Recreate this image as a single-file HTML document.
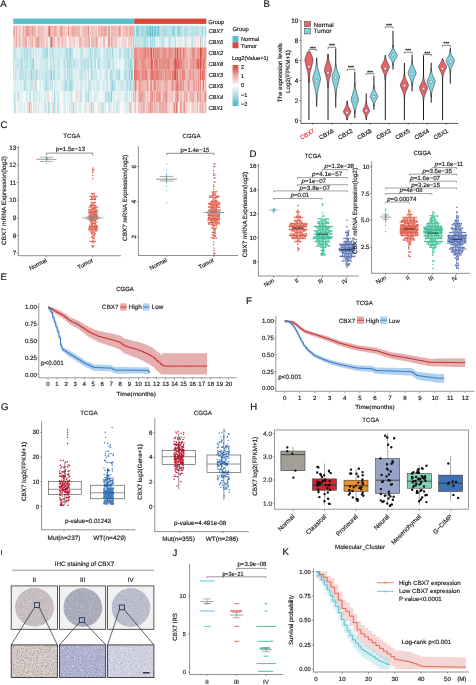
<!DOCTYPE html>
<html><head><meta charset="utf-8"><style>
html,body{margin:0;padding:0;background:#fff;}
body{width:476px;height:685px;overflow:hidden;}
svg{display:block;font-family:"Liberation Sans", sans-serif;will-change:transform;}
text{stroke-width:0.16px;text-rendering:geometricPrecision;}
</style></head><body>
<svg width="476" height="685" viewBox="0 0 476 685">
<defs>
<linearGradient id="cbar" x1="0" y1="0" x2="0" y2="1">
<stop offset="0" stop-color="#d8443a"/><stop offset="0.5" stop-color="#ffffff"/><stop offset="1" stop-color="#48b3c2"/>
</linearGradient>
<filter id="spk1" x="0" y="0" width="100%" height="100%" color-interpolation-filters="sRGB"><feTurbulence type="fractalNoise" baseFrequency="0.75" numOctaves="3" seed="3" result="n"/><feColorMatrix in="n" type="matrix" values="0 0 0 0 0.5  0 0 0 0 0.4  0 0 0 0 0.38  2 0 0 0 -1.04" result="d"/><feColorMatrix in="n" type="matrix" values="0 0 0 0 1  0 0 0 0 1  0 0 0 0 1  0 2.8 0 0 -1.57" result="w"/><feMerge result="m"><feMergeNode in="SourceGraphic"/><feMergeNode in="d"/><feMergeNode in="w"/></feMerge><feComposite in="m" in2="SourceGraphic" operator="in"/></filter>
<filter id="spk2" x="0" y="0" width="100%" height="100%" color-interpolation-filters="sRGB"><feTurbulence type="fractalNoise" baseFrequency="0.75" numOctaves="3" seed="5" result="n"/><feColorMatrix in="n" type="matrix" values="0 0 0 0 0.42  0 0 0 0 0.42  0 0 0 0 0.58  1.8 0 0 0 -0.94" result="d"/><feColorMatrix in="n" type="matrix" values="0 0 0 0 1  0 0 0 0 1  0 0 0 0 1  0 2.2 0 0 -1.23" result="w"/><feMerge result="m"><feMergeNode in="SourceGraphic"/><feMergeNode in="d"/><feMergeNode in="w"/></feMerge><feComposite in="m" in2="SourceGraphic" operator="in"/></filter>
<filter id="spk3" x="0" y="0" width="100%" height="100%" color-interpolation-filters="sRGB"><feTurbulence type="fractalNoise" baseFrequency="0.75" numOctaves="3" seed="9" result="n"/><feColorMatrix in="n" type="matrix" values="0 0 0 0 0.5  0 0 0 0 0.5  0 0 0 0 0.64  1.6 0 0 0 -0.83" result="d"/><feColorMatrix in="n" type="matrix" values="0 0 0 0 1  0 0 0 0 1  0 0 0 0 1  0 2.6 0 0 -1.46" result="w"/><feMerge result="m"><feMergeNode in="SourceGraphic"/><feMergeNode in="d"/><feMergeNode in="w"/></feMerge><feComposite in="m" in2="SourceGraphic" operator="in"/></filter>
<filter id="cspk1" x="0" y="0" width="100%" height="100%" color-interpolation-filters="sRGB"><feTurbulence type="fractalNoise" baseFrequency="0.75" numOctaves="3" seed="4" result="n"/><feColorMatrix in="n" type="matrix" values="0 0 0 0 0.55  0 0 0 0 0.48  0 0 0 0 0.48  0.9 0 0 0 -0.47" result="d"/><feColorMatrix in="n" type="matrix" values="0 0 0 0 1  0 0 0 0 1  0 0 0 0 1  0 1.8 0 0 -1.01" result="w"/><feMerge result="m"><feMergeNode in="SourceGraphic"/><feMergeNode in="d"/><feMergeNode in="w"/></feMerge><feComposite in="m" in2="SourceGraphic" operator="in"/></filter>
<filter id="cspk2" x="0" y="0" width="100%" height="100%" color-interpolation-filters="sRGB"><feTurbulence type="fractalNoise" baseFrequency="0.75" numOctaves="3" seed="6" result="n"/><feColorMatrix in="n" type="matrix" values="0 0 0 0 0.52  0 0 0 0 0.52  0 0 0 0 0.62  0.8 0 0 0 -0.42" result="d"/><feColorMatrix in="n" type="matrix" values="0 0 0 0 1  0 0 0 0 1  0 0 0 0 1  0 1.5 0 0 -0.84" result="w"/><feMerge result="m"><feMergeNode in="SourceGraphic"/><feMergeNode in="d"/><feMergeNode in="w"/></feMerge><feComposite in="m" in2="SourceGraphic" operator="in"/></filter>
<filter id="cspk3" x="0" y="0" width="100%" height="100%" color-interpolation-filters="sRGB"><feTurbulence type="fractalNoise" baseFrequency="0.75" numOctaves="3" seed="8" result="n"/><feColorMatrix in="n" type="matrix" values="0 0 0 0 0.58  0 0 0 0 0.58  0 0 0 0 0.68  0.8 0 0 0 -0.42" result="d"/><feColorMatrix in="n" type="matrix" values="0 0 0 0 1  0 0 0 0 1  0 0 0 0 1  0 1.8 0 0 -1.01" result="w"/><feMerge result="m"><feMergeNode in="SourceGraphic"/><feMergeNode in="d"/><feMergeNode in="w"/></feMerge><feComposite in="m" in2="SourceGraphic" operator="in"/></filter>
</defs>
<text x="0.2" y="6.7" font-size="9.6" text-anchor="start" fill="#111" stroke="#111">A</text>
<rect x="13.2" y="18.6" width="121" height="5.3" fill="#5bbdcb" stroke="none" stroke-width="0.5"/>
<rect x="134.2" y="18.6" width="72.1" height="5.3" fill="#d8493b" stroke="none" stroke-width="0.5"/>
<text x="208.2" y="23.6" font-size="5.8" text-anchor="start" fill="#1a1a1a" stroke="#1a1a1a">Group</text>
<g stroke-width="1.13"><path stroke="#eaa29c" d="M13.73 25.80v11.05"/><path stroke="#f2cfcd" d="M13.73 36.70v11.05"/><path stroke="#bae1e6" d="M13.73 47.60v11.05"/><path stroke="#aedce2" d="M13.73 58.50v11.05"/><path stroke="#bfe3e8" d="M13.73 69.40v11.05"/><path stroke="#e6f2f4" d="M13.73 80.30v11.05"/><path stroke="#e5f2f4" d="M13.73 91.20v11.05"/><path stroke="#f9fafa" d="M13.73 102.10v11.05"/><path stroke="#eaa19b" d="M14.78 25.80v11.05"/><path stroke="#eebbb7" d="M14.78 36.70v11.05"/><path stroke="#a8dae1" d="M14.78 47.60v11.05"/><path stroke="#d6ecef" d="M14.78 58.50v11.05"/><path stroke="#d5ebee" d="M14.78 69.40v11.05"/><path stroke="#dceef1" d="M14.78 80.30v11.05"/><path stroke="#a8dae1" d="M14.78 91.20v11.05"/><path stroke="#a6d9e0" d="M14.78 102.10v11.05"/><path stroke="#f0c2be" d="M15.83 25.80v11.05"/><path stroke="#efbfbb" d="M15.83 36.70v11.05"/><path stroke="#b8e0e5" d="M15.83 47.60v11.05"/><path stroke="#c3e4e9" d="M15.83 58.50v11.05"/><path stroke="#aedce2" d="M15.83 69.40v11.05"/><path stroke="#cae7eb" d="M15.83 80.30v11.05"/><path stroke="#ddeff1" d="M15.83 91.20v11.05"/><path stroke="#bbe1e7" d="M15.83 102.10v11.05"/><path stroke="#e7918a" d="M16.88 25.80v11.05"/><path stroke="#e5877f" d="M16.88 36.70v11.05"/><path stroke="#cce8ec" d="M16.88 47.60v11.05"/><path stroke="#c9e7eb" d="M16.88 58.50v11.05"/><path stroke="#d3ebee" d="M16.88 69.40v11.05"/><path stroke="#ddeff1" d="M16.88 80.30v11.05"/><path stroke="#f8f1f0" d="M16.88 91.20v11.05"/><path stroke="#f7f9f9" d="M16.88 102.10v11.05"/><path stroke="#f1cbc8" d="M17.93 25.80v11.05"/><path stroke="#f5dddb" d="M17.93 36.70v11.05"/><path stroke="#d3ebee" d="M17.93 47.60v11.05"/><path stroke="#aedce2" d="M17.93 58.50v11.05"/><path stroke="#c7e6ea" d="M17.93 69.40v11.05"/><path stroke="#d2eaee" d="M17.93 80.30v11.05"/><path stroke="#a6d9e0" d="M17.93 91.20v11.05"/><path stroke="#d7ecef" d="M17.93 102.10v11.05"/><path stroke="#f4dad8" d="M18.99 25.80v11.05"/><path stroke="#f1c7c4" d="M18.99 36.70v11.05"/><path stroke="#d0eaed" d="M18.99 47.60v11.05"/><path stroke="#c2e4e9" d="M18.99 58.50v11.05"/><path stroke="#e1f0f2" d="M18.99 69.40v11.05"/><path stroke="#d9edf0" d="M18.99 80.30v11.05"/><path stroke="#bbe1e7" d="M18.99 91.20v11.05"/><path stroke="#f8efee" d="M18.99 102.10v11.05"/><path stroke="#e68f88" d="M20.04 25.80v11.05"/><path stroke="#e4857d" d="M20.04 36.70v11.05"/><path stroke="#d1eaed" d="M20.04 47.60v11.05"/><path stroke="#cde8ec" d="M20.04 58.50v11.05"/><path stroke="#b1dde4" d="M20.04 69.40v11.05"/><path stroke="#e4f1f3" d="M20.04 80.30v11.05"/><path stroke="#cfe9ed" d="M20.04 91.20v11.05"/><path stroke="#d4ebee" d="M20.04 102.10v11.05"/><path stroke="#f3d2cf" d="M21.09 25.80v11.05"/><path stroke="#f6e4e2" d="M21.09 36.70v11.05"/><path stroke="#cbe7eb" d="M21.09 47.60v11.05"/><path stroke="#8ccfd8" d="M21.09 58.50v11.05"/><path stroke="#97d3db" d="M21.09 69.40v11.05"/><path stroke="#c3e4e9" d="M21.09 80.30v11.05"/><path stroke="#fafafa" d="M21.09 91.20v11.05"/><path stroke="#dfeff2" d="M21.09 102.10v11.05"/><path stroke="#f4f7f8" d="M22.14 25.80v11.05"/><path stroke="#f0c5c1" d="M22.14 36.70v11.05"/><path stroke="#9fd6de" d="M22.14 47.60v11.05"/><path stroke="#97d3db" d="M22.14 58.50v11.05"/><path stroke="#c6e5ea" d="M22.14 69.40v11.05"/><path stroke="#d3ebee" d="M22.14 80.30v11.05"/><path stroke="#cae7eb" d="M22.14 91.20v11.05"/><path stroke="#cce8ec" d="M22.14 102.10v11.05"/><path stroke="#e38078" d="M23.20 25.80v11.05"/><path stroke="#eba8a2" d="M23.20 36.70v11.05"/><path stroke="#d1eaed" d="M23.20 47.60v11.05"/><path stroke="#d3ebee" d="M23.20 58.50v11.05"/><path stroke="#a9dae1" d="M23.20 69.40v11.05"/><path stroke="#f3f7f8" d="M23.20 80.30v11.05"/><path stroke="#f9f5f5" d="M23.20 91.20v11.05"/><path stroke="#f1f6f7" d="M23.20 102.10v11.05"/><path stroke="#f2cecc" d="M24.25 25.80v11.05"/><path stroke="#edb2ad" d="M24.25 36.70v11.05"/><path stroke="#8bcfd8" d="M24.25 47.60v11.05"/><path stroke="#a8dae1" d="M24.25 58.50v11.05"/><path stroke="#c6e6ea" d="M24.25 69.40v11.05"/><path stroke="#92d1da" d="M24.25 80.30v11.05"/><path stroke="#f7f9f9" d="M24.25 91.20v11.05"/><path stroke="#d5ecef" d="M24.25 102.10v11.05"/><path stroke="#eba6a1" d="M25.30 25.80v11.05"/><path stroke="#ebaba6" d="M25.30 36.70v11.05"/><path stroke="#c3e4e9" d="M25.30 47.60v11.05"/><path stroke="#d7ecef" d="M25.30 58.50v11.05"/><path stroke="#b6dfe5" d="M25.30 69.40v11.05"/><path stroke="#bfe3e8" d="M25.30 80.30v11.05"/><path stroke="#fafafa" d="M25.30 91.20v11.05"/><path stroke="#daedf0" d="M25.30 102.10v11.05"/><path stroke="#e99b95" d="M26.35 25.80v11.05"/><path stroke="#e69089" d="M26.35 36.70v11.05"/><path stroke="#b1dde3" d="M26.35 47.60v11.05"/><path stroke="#9dd6dd" d="M26.35 58.50v11.05"/><path stroke="#b9e0e6" d="M26.35 69.40v11.05"/><path stroke="#bde2e7" d="M26.35 80.30v11.05"/><path stroke="#c7e6ea" d="M26.35 91.20v11.05"/><path stroke="#f9f6f6" d="M26.35 102.10v11.05"/><path stroke="#e7948d" d="M27.40 25.80v11.05"/><path stroke="#f5f8f8" d="M27.40 36.70v11.05"/><path stroke="#a9dae1" d="M27.40 47.60v11.05"/><path stroke="#c3e4e9" d="M27.40 58.50v11.05"/><path stroke="#d3ebee" d="M27.40 69.40v11.05"/><path stroke="#d7ecef" d="M27.40 80.30v11.05"/><path stroke="#daedf0" d="M27.40 91.20v11.05"/><path stroke="#d3ebee" d="M27.40 102.10v11.05"/><path stroke="#e99d97" d="M28.46 25.80v11.05"/><path stroke="#f1cac7" d="M28.46 36.70v11.05"/><path stroke="#cae7eb" d="M28.46 47.60v11.05"/><path stroke="#d0e9ed" d="M28.46 58.50v11.05"/><path stroke="#c8e6eb" d="M28.46 69.40v11.05"/><path stroke="#e2f1f3" d="M28.46 80.30v11.05"/><path stroke="#eff6f7" d="M28.46 91.20v11.05"/><path stroke="#f3d7d4" d="M28.46 102.10v11.05"/><path stroke="#eeb7b2" d="M29.51 25.80v11.05"/><path stroke="#f2d1ce" d="M29.51 36.70v11.05"/><path stroke="#c6e6ea" d="M29.51 47.60v11.05"/><path stroke="#d9edf0" d="M29.51 58.50v11.05"/><path stroke="#c3e4e9" d="M29.51 69.40v11.05"/><path stroke="#daedf0" d="M29.51 80.30v11.05"/><path stroke="#f4dad8" d="M29.51 91.20v11.05"/><path stroke="#8ccfd8" d="M29.51 102.10v11.05"/><path stroke="#ecb0ab" d="M30.56 25.80v11.05"/><path stroke="#efbdb9" d="M30.56 36.70v11.05"/><path stroke="#bae1e6" d="M30.56 47.60v11.05"/><path stroke="#addce2" d="M30.56 58.50v11.05"/><path stroke="#c8e6ea" d="M30.56 69.40v11.05"/><path stroke="#c6e6ea" d="M30.56 80.30v11.05"/><path stroke="#bde2e7" d="M30.56 91.20v11.05"/><path stroke="#f4d8d6" d="M30.56 102.10v11.05"/><path stroke="#eebab6" d="M31.61 25.80v11.05"/><path stroke="#f0c6c2" d="M31.61 36.70v11.05"/><path stroke="#c3e4e9" d="M31.61 47.60v11.05"/><path stroke="#c6e5ea" d="M31.61 58.50v11.05"/><path stroke="#8ecfd9" d="M31.61 69.40v11.05"/><path stroke="#c3e4e9" d="M31.61 80.30v11.05"/><path stroke="#f9f5f4" d="M31.61 91.20v11.05"/><path stroke="#bae1e6" d="M31.61 102.10v11.05"/><path stroke="#e7958e" d="M32.67 25.80v11.05"/><path stroke="#eaa29c" d="M32.67 36.70v11.05"/><path stroke="#ddeef1" d="M32.67 47.60v11.05"/><path stroke="#a1d7de" d="M32.67 58.50v11.05"/><path stroke="#bee2e7" d="M32.67 69.40v11.05"/><path stroke="#c2e4e9" d="M32.67 80.30v11.05"/><path stroke="#eef5f6" d="M32.67 91.20v11.05"/><path stroke="#f9f7f7" d="M32.67 102.10v11.05"/><path stroke="#eaa6a0" d="M33.72 25.80v11.05"/><path stroke="#e0f0f2" d="M33.72 36.70v11.05"/><path stroke="#afdde3" d="M33.72 47.60v11.05"/><path stroke="#86ccd6" d="M33.72 58.50v11.05"/><path stroke="#abdbe2" d="M33.72 69.40v11.05"/><path stroke="#cce8ec" d="M33.72 80.30v11.05"/><path stroke="#b7dfe5" d="M33.72 91.20v11.05"/><path stroke="#c1e4e9" d="M33.72 102.10v11.05"/><path stroke="#eaa49e" d="M34.77 25.80v11.05"/><path stroke="#f0c2be" d="M34.77 36.70v11.05"/><path stroke="#e7f3f4" d="M34.77 47.60v11.05"/><path stroke="#e1f0f2" d="M34.77 58.50v11.05"/><path stroke="#c9e7eb" d="M34.77 69.40v11.05"/><path stroke="#f3d5d3" d="M34.77 80.30v11.05"/><path stroke="#bfe3e8" d="M34.77 91.20v11.05"/><path stroke="#f9f2f2" d="M34.77 102.10v11.05"/><path stroke="#ecaca7" d="M35.82 25.80v11.05"/><path stroke="#ebaaa5" d="M35.82 36.70v11.05"/><path stroke="#c4e5e9" d="M35.82 47.60v11.05"/><path stroke="#cce8ec" d="M35.82 58.50v11.05"/><path stroke="#a1d7df" d="M35.82 69.40v11.05"/><path stroke="#a0d7de" d="M35.82 80.30v11.05"/><path stroke="#ebf4f5" d="M35.82 91.20v11.05"/><path stroke="#b9e0e6" d="M35.82 102.10v11.05"/><path stroke="#f5dddc" d="M36.87 25.80v11.05"/><path stroke="#e89993" d="M36.87 36.70v11.05"/><path stroke="#c4e5e9" d="M36.87 47.60v11.05"/><path stroke="#d4ebee" d="M36.87 58.50v11.05"/><path stroke="#a5d9e0" d="M36.87 69.40v11.05"/><path stroke="#c0e3e8" d="M36.87 80.30v11.05"/><path stroke="#aadbe1" d="M36.87 91.20v11.05"/><path stroke="#e7f3f4" d="M36.87 102.10v11.05"/><path stroke="#eeb9b5" d="M37.93 25.80v11.05"/><path stroke="#e27970" d="M37.93 36.70v11.05"/><path stroke="#e7f3f4" d="M37.93 47.60v11.05"/><path stroke="#d2eaee" d="M37.93 58.50v11.05"/><path stroke="#addce2" d="M37.93 69.40v11.05"/><path stroke="#f8f0ef" d="M37.93 80.30v11.05"/><path stroke="#eaf4f5" d="M37.93 91.20v11.05"/><path stroke="#daedf0" d="M37.93 102.10v11.05"/><path stroke="#e9a09a" d="M38.98 25.80v11.05"/><path stroke="#e4857d" d="M38.98 36.70v11.05"/><path stroke="#b5dfe5" d="M38.98 47.60v11.05"/><path stroke="#deeff1" d="M38.98 58.50v11.05"/><path stroke="#ecf5f6" d="M38.98 69.40v11.05"/><path stroke="#f7f9f9" d="M38.98 80.30v11.05"/><path stroke="#daedf0" d="M38.98 91.20v11.05"/><path stroke="#c8e6ea" d="M38.98 102.10v11.05"/><path stroke="#eaa39d" d="M40.03 25.80v11.05"/><path stroke="#eeb7b3" d="M40.03 36.70v11.05"/><path stroke="#e8f3f4" d="M40.03 47.60v11.05"/><path stroke="#cae7eb" d="M40.03 58.50v11.05"/><path stroke="#9fd6de" d="M40.03 69.40v11.05"/><path stroke="#cde8ec" d="M40.03 80.30v11.05"/><path stroke="#abdbe2" d="M40.03 91.20v11.05"/><path stroke="#f9f3f2" d="M40.03 102.10v11.05"/><path stroke="#efbcb8" d="M41.08 25.80v11.05"/><path stroke="#f0c2be" d="M41.08 36.70v11.05"/><path stroke="#d5ecef" d="M41.08 47.60v11.05"/><path stroke="#c8e6eb" d="M41.08 58.50v11.05"/><path stroke="#e8f3f4" d="M41.08 69.40v11.05"/><path stroke="#cee9ec" d="M41.08 80.30v11.05"/><path stroke="#f9f4f4" d="M41.08 91.20v11.05"/><path stroke="#f6e6e4" d="M41.08 102.10v11.05"/><path stroke="#edb3af" d="M42.13 25.80v11.05"/><path stroke="#e7948d" d="M42.13 36.70v11.05"/><path stroke="#b4dfe4" d="M42.13 47.60v11.05"/><path stroke="#c1e3e8" d="M42.13 58.50v11.05"/><path stroke="#aedce2" d="M42.13 69.40v11.05"/><path stroke="#faf9f9" d="M42.13 80.30v11.05"/><path stroke="#c6e6ea" d="M42.13 91.20v11.05"/><path stroke="#edf5f6" d="M42.13 102.10v11.05"/><path stroke="#ecb0ab" d="M43.19 25.80v11.05"/><path stroke="#f5dedc" d="M43.19 36.70v11.05"/><path stroke="#c5e5ea" d="M43.19 47.60v11.05"/><path stroke="#e4f1f3" d="M43.19 58.50v11.05"/><path stroke="#c5e5ea" d="M43.19 69.40v11.05"/><path stroke="#d8ecef" d="M43.19 80.30v11.05"/><path stroke="#f9f9fa" d="M43.19 91.20v11.05"/><path stroke="#d2eaee" d="M43.19 102.10v11.05"/><path stroke="#f1c7c3" d="M44.24 25.80v11.05"/><path stroke="#eaa39d" d="M44.24 36.70v11.05"/><path stroke="#97d3db" d="M44.24 47.60v11.05"/><path stroke="#a8dae1" d="M44.24 58.50v11.05"/><path stroke="#cee9ec" d="M44.24 69.40v11.05"/><path stroke="#d2eaee" d="M44.24 80.30v11.05"/><path stroke="#cce8ec" d="M44.24 91.20v11.05"/><path stroke="#e6f2f4" d="M44.24 102.10v11.05"/><path stroke="#f2ccc9" d="M45.29 25.80v11.05"/><path stroke="#f2f7f8" d="M45.29 36.70v11.05"/><path stroke="#b9e1e6" d="M45.29 47.60v11.05"/><path stroke="#d7ecef" d="M45.29 58.50v11.05"/><path stroke="#bce2e7" d="M45.29 69.40v11.05"/><path stroke="#b6dfe5" d="M45.29 80.30v11.05"/><path stroke="#c4e5e9" d="M45.29 91.20v11.05"/><path stroke="#acdbe2" d="M45.29 102.10v11.05"/><path stroke="#f2cfcc" d="M46.34 25.80v11.05"/><path stroke="#eeb7b2" d="M46.34 36.70v11.05"/><path stroke="#97d3dc" d="M46.34 47.60v11.05"/><path stroke="#c8e6eb" d="M46.34 58.50v11.05"/><path stroke="#b7e0e5" d="M46.34 69.40v11.05"/><path stroke="#96d3db" d="M46.34 80.30v11.05"/><path stroke="#f1f6f7" d="M46.34 91.20v11.05"/><path stroke="#d1eaed" d="M46.34 102.10v11.05"/><path stroke="#f4d7d5" d="M47.40 25.80v11.05"/><path stroke="#f1cac7" d="M47.40 36.70v11.05"/><path stroke="#a0d7de" d="M47.40 47.60v11.05"/><path stroke="#b8e0e6" d="M47.40 58.50v11.05"/><path stroke="#bde2e7" d="M47.40 69.40v11.05"/><path stroke="#c3e4e9" d="M47.40 80.30v11.05"/><path stroke="#cbe8ec" d="M47.40 91.20v11.05"/><path stroke="#ebf4f5" d="M47.40 102.10v11.05"/><path stroke="#e99d96" d="M48.45 25.80v11.05"/><path stroke="#e1f0f2" d="M48.45 36.70v11.05"/><path stroke="#dbeef0" d="M48.45 47.60v11.05"/><path stroke="#e4f1f3" d="M48.45 58.50v11.05"/><path stroke="#c8e6ea" d="M48.45 69.40v11.05"/><path stroke="#c7e6ea" d="M48.45 80.30v11.05"/><path stroke="#f3d3d0" d="M48.45 91.20v11.05"/><path stroke="#aadbe1" d="M48.45 102.10v11.05"/><path stroke="#df695f" d="M49.50 25.80v11.05"/><path stroke="#f6e6e5" d="M49.50 36.70v11.05"/><path stroke="#d5ebee" d="M49.50 47.60v11.05"/><path stroke="#edf5f6" d="M49.50 58.50v11.05"/><path stroke="#c9e7eb" d="M49.50 69.40v11.05"/><path stroke="#e0f0f2" d="M49.50 80.30v11.05"/><path stroke="#f9f7f6" d="M49.50 91.20v11.05"/><path stroke="#c3e5e9" d="M49.50 102.10v11.05"/><path stroke="#eba7a1" d="M50.55 25.80v11.05"/><path stroke="#eaa49e" d="M50.55 36.70v11.05"/><path stroke="#c1e4e8" d="M50.55 47.60v11.05"/><path stroke="#bee2e7" d="M50.55 58.50v11.05"/><path stroke="#afdce3" d="M50.55 69.40v11.05"/><path stroke="#c1e4e8" d="M50.55 80.30v11.05"/><path stroke="#f6f9f9" d="M50.55 91.20v11.05"/><path stroke="#ddeff1" d="M50.55 102.10v11.05"/><path stroke="#f1cbc8" d="M51.60 25.80v11.05"/><path stroke="#de6055" d="M51.60 36.70v11.05"/><path stroke="#cde8ec" d="M51.60 47.60v11.05"/><path stroke="#c5e5ea" d="M51.60 58.50v11.05"/><path stroke="#83cbd5" d="M51.60 69.40v11.05"/><path stroke="#d2eaee" d="M51.60 80.30v11.05"/><path stroke="#e0f0f2" d="M51.60 91.20v11.05"/><path stroke="#f8edec" d="M51.60 102.10v11.05"/><path stroke="#ecaca7" d="M52.66 25.80v11.05"/><path stroke="#ecaca7" d="M52.66 36.70v11.05"/><path stroke="#a5d9e0" d="M52.66 47.60v11.05"/><path stroke="#dceef1" d="M52.66 58.50v11.05"/><path stroke="#d3ebee" d="M52.66 69.40v11.05"/><path stroke="#bee2e7" d="M52.66 80.30v11.05"/><path stroke="#f7eae8" d="M52.66 91.20v11.05"/><path stroke="#f4dad8" d="M52.66 102.10v11.05"/><path stroke="#f1cbc8" d="M53.71 25.80v11.05"/><path stroke="#f0c4c0" d="M53.71 36.70v11.05"/><path stroke="#b6dfe5" d="M53.71 47.60v11.05"/><path stroke="#abdbe1" d="M53.71 58.50v11.05"/><path stroke="#a0d7de" d="M53.71 69.40v11.05"/><path stroke="#f4f8f8" d="M53.71 80.30v11.05"/><path stroke="#ecf4f6" d="M53.71 91.20v11.05"/><path stroke="#a4d8df" d="M53.71 102.10v11.05"/><path stroke="#e58b83" d="M54.76 25.80v11.05"/><path stroke="#eba7a1" d="M54.76 36.70v11.05"/><path stroke="#d3ebee" d="M54.76 47.60v11.05"/><path stroke="#c3e4e9" d="M54.76 58.50v11.05"/><path stroke="#a3d8df" d="M54.76 69.40v11.05"/><path stroke="#c3e4e9" d="M54.76 80.30v11.05"/><path stroke="#86ccd6" d="M54.76 91.20v11.05"/><path stroke="#b3dee4" d="M54.76 102.10v11.05"/><path stroke="#e9a09a" d="M55.81 25.80v11.05"/><path stroke="#f6e2e0" d="M55.81 36.70v11.05"/><path stroke="#c0e3e8" d="M55.81 47.60v11.05"/><path stroke="#cbe8ec" d="M55.81 58.50v11.05"/><path stroke="#cee9ec" d="M55.81 69.40v11.05"/><path stroke="#dceef1" d="M55.81 80.30v11.05"/><path stroke="#e1f0f2" d="M55.81 91.20v11.05"/><path stroke="#d0e9ed" d="M55.81 102.10v11.05"/><path stroke="#eba6a1" d="M56.87 25.80v11.05"/><path stroke="#f5dfde" d="M56.87 36.70v11.05"/><path stroke="#c1e4e8" d="M56.87 47.60v11.05"/><path stroke="#cce8ec" d="M56.87 58.50v11.05"/><path stroke="#cde8ec" d="M56.87 69.40v11.05"/><path stroke="#d9edf0" d="M56.87 80.30v11.05"/><path stroke="#e4f1f3" d="M56.87 91.20v11.05"/><path stroke="#eaf4f5" d="M56.87 102.10v11.05"/><path stroke="#f2d1ce" d="M57.92 25.80v11.05"/><path stroke="#edb4b0" d="M57.92 36.70v11.05"/><path stroke="#d4ebee" d="M57.92 47.60v11.05"/><path stroke="#cae7eb" d="M57.92 58.50v11.05"/><path stroke="#c1e3e8" d="M57.92 69.40v11.05"/><path stroke="#d6ecef" d="M57.92 80.30v11.05"/><path stroke="#bae1e6" d="M57.92 91.20v11.05"/><path stroke="#9dd5dd" d="M57.92 102.10v11.05"/><path stroke="#f0c6c3" d="M58.97 25.80v11.05"/><path stroke="#eba6a0" d="M58.97 36.70v11.05"/><path stroke="#b0dde3" d="M58.97 47.60v11.05"/><path stroke="#90d0d9" d="M58.97 58.50v11.05"/><path stroke="#b0dde3" d="M58.97 69.40v11.05"/><path stroke="#f7f9f9" d="M58.97 80.30v11.05"/><path stroke="#cfe9ed" d="M58.97 91.20v11.05"/><path stroke="#b0dde3" d="M58.97 102.10v11.05"/><path stroke="#eba6a0" d="M60.02 25.80v11.05"/><path stroke="#eeb6b2" d="M60.02 36.70v11.05"/><path stroke="#bde2e7" d="M60.02 47.60v11.05"/><path stroke="#d7ecef" d="M60.02 58.50v11.05"/><path stroke="#cde8ec" d="M60.02 69.40v11.05"/><path stroke="#c2e4e9" d="M60.02 80.30v11.05"/><path stroke="#e5f2f4" d="M60.02 91.20v11.05"/><path stroke="#f8edec" d="M60.02 102.10v11.05"/><path stroke="#e58b83" d="M61.07 25.80v11.05"/><path stroke="#f7e8e7" d="M61.07 36.70v11.05"/><path stroke="#cce8ec" d="M61.07 47.60v11.05"/><path stroke="#ddeef1" d="M61.07 58.50v11.05"/><path stroke="#cbe8ec" d="M61.07 69.40v11.05"/><path stroke="#f4f8f8" d="M61.07 80.30v11.05"/><path stroke="#f9fafa" d="M61.07 91.20v11.05"/><path stroke="#f8f1f0" d="M61.07 102.10v11.05"/><path stroke="#e06b62" d="M62.13 25.80v11.05"/><path stroke="#e7948d" d="M62.13 36.70v11.05"/><path stroke="#bce2e7" d="M62.13 47.60v11.05"/><path stroke="#c2e4e9" d="M62.13 58.50v11.05"/><path stroke="#f9f6f6" d="M62.13 69.40v11.05"/><path stroke="#c0e3e8" d="M62.13 80.30v11.05"/><path stroke="#f4f8f8" d="M62.13 91.20v11.05"/><path stroke="#f8f9f9" d="M62.13 102.10v11.05"/><path stroke="#f2cdca" d="M63.18 25.80v11.05"/><path stroke="#efbdb9" d="M63.18 36.70v11.05"/><path stroke="#c9e7eb" d="M63.18 47.60v11.05"/><path stroke="#d9edf0" d="M63.18 58.50v11.05"/><path stroke="#d8edef" d="M63.18 69.40v11.05"/><path stroke="#cce8ec" d="M63.18 80.30v11.05"/><path stroke="#f6f9f9" d="M63.18 91.20v11.05"/><path stroke="#ecf5f6" d="M63.18 102.10v11.05"/><path stroke="#ebaba6" d="M64.23 25.80v11.05"/><path stroke="#f2ccc9" d="M64.23 36.70v11.05"/><path stroke="#d1eaed" d="M64.23 47.60v11.05"/><path stroke="#b1dde3" d="M64.23 58.50v11.05"/><path stroke="#bbe1e6" d="M64.23 69.40v11.05"/><path stroke="#cee9ec" d="M64.23 80.30v11.05"/><path stroke="#aedce3" d="M64.23 91.20v11.05"/><path stroke="#cfe9ed" d="M64.23 102.10v11.05"/><path stroke="#f2d0cd" d="M65.28 25.80v11.05"/><path stroke="#efbdb9" d="M65.28 36.70v11.05"/><path stroke="#b5dfe5" d="M65.28 47.60v11.05"/><path stroke="#aadbe1" d="M65.28 58.50v11.05"/><path stroke="#aadae1" d="M65.28 69.40v11.05"/><path stroke="#8ed0d9" d="M65.28 80.30v11.05"/><path stroke="#f9f6f6" d="M65.28 91.20v11.05"/><path stroke="#d4ebee" d="M65.28 102.10v11.05"/><path stroke="#efbdb9" d="M66.33 25.80v11.05"/><path stroke="#f0c3bf" d="M66.33 36.70v11.05"/><path stroke="#afdde3" d="M66.33 47.60v11.05"/><path stroke="#dfeff2" d="M66.33 58.50v11.05"/><path stroke="#e8f3f4" d="M66.33 69.40v11.05"/><path stroke="#a6d9e0" d="M66.33 80.30v11.05"/><path stroke="#e6f2f4" d="M66.33 91.20v11.05"/><path stroke="#faf8f8" d="M66.33 102.10v11.05"/><path stroke="#f8edec" d="M67.39 25.80v11.05"/><path stroke="#f7f9f9" d="M67.39 36.70v11.05"/><path stroke="#a3d8df" d="M67.39 47.60v11.05"/><path stroke="#93d1da" d="M67.39 58.50v11.05"/><path stroke="#b2dee4" d="M67.39 69.40v11.05"/><path stroke="#bee2e7" d="M67.39 80.30v11.05"/><path stroke="#daeef0" d="M67.39 91.20v11.05"/><path stroke="#ddeef1" d="M67.39 102.10v11.05"/><path stroke="#e4837b" d="M68.44 25.80v11.05"/><path stroke="#f8edec" d="M68.44 36.70v11.05"/><path stroke="#cbe8ec" d="M68.44 47.60v11.05"/><path stroke="#c0e3e8" d="M68.44 58.50v11.05"/><path stroke="#c0e3e8" d="M68.44 69.40v11.05"/><path stroke="#dbeef0" d="M68.44 80.30v11.05"/><path stroke="#edf5f6" d="M68.44 91.20v11.05"/><path stroke="#faf8f8" d="M68.44 102.10v11.05"/><path stroke="#f4dcda" d="M69.49 25.80v11.05"/><path stroke="#f3d2cf" d="M69.49 36.70v11.05"/><path stroke="#addce2" d="M69.49 47.60v11.05"/><path stroke="#aadbe1" d="M69.49 58.50v11.05"/><path stroke="#b2dee4" d="M69.49 69.40v11.05"/><path stroke="#a5d8e0" d="M69.49 80.30v11.05"/><path stroke="#dfeff2" d="M69.49 91.20v11.05"/><path stroke="#d4ebee" d="M69.49 102.10v11.05"/><path stroke="#efc1bd" d="M70.54 25.80v11.05"/><path stroke="#f2ccc9" d="M70.54 36.70v11.05"/><path stroke="#91d1da" d="M70.54 47.60v11.05"/><path stroke="#afdce3" d="M70.54 58.50v11.05"/><path stroke="#c6e6ea" d="M70.54 69.40v11.05"/><path stroke="#a3d8df" d="M70.54 80.30v11.05"/><path stroke="#e0f0f2" d="M70.54 91.20v11.05"/><path stroke="#dfeff2" d="M70.54 102.10v11.05"/><path stroke="#efc0bc" d="M71.60 25.80v11.05"/><path stroke="#f4dcda" d="M71.60 36.70v11.05"/><path stroke="#bbe1e6" d="M71.60 47.60v11.05"/><path stroke="#bfe3e8" d="M71.60 58.50v11.05"/><path stroke="#b5dfe5" d="M71.60 69.40v11.05"/><path stroke="#a5d8e0" d="M71.60 80.30v11.05"/><path stroke="#c6e6ea" d="M71.60 91.20v11.05"/><path stroke="#c9e7eb" d="M71.60 102.10v11.05"/><path stroke="#e9a09a" d="M72.65 25.80v11.05"/><path stroke="#f4dcda" d="M72.65 36.70v11.05"/><path stroke="#b3dee4" d="M72.65 47.60v11.05"/><path stroke="#c4e5e9" d="M72.65 58.50v11.05"/><path stroke="#bfe3e8" d="M72.65 69.40v11.05"/><path stroke="#b7e0e5" d="M72.65 80.30v11.05"/><path stroke="#e0f0f2" d="M72.65 91.20v11.05"/><path stroke="#d4ebee" d="M72.65 102.10v11.05"/><path stroke="#e99f99" d="M73.70 25.80v11.05"/><path stroke="#f3d4d2" d="M73.70 36.70v11.05"/><path stroke="#edf5f6" d="M73.70 47.60v11.05"/><path stroke="#bee2e7" d="M73.70 58.50v11.05"/><path stroke="#e0f0f2" d="M73.70 69.40v11.05"/><path stroke="#d0eaed" d="M73.70 80.30v11.05"/><path stroke="#f9f4f4" d="M73.70 91.20v11.05"/><path stroke="#90d0d9" d="M73.70 102.10v11.05"/><path stroke="#ecada8" d="M74.75 25.80v11.05"/><path stroke="#edb2ad" d="M74.75 36.70v11.05"/><path stroke="#e4f1f3" d="M74.75 47.60v11.05"/><path stroke="#c0e3e8" d="M74.75 58.50v11.05"/><path stroke="#daedf0" d="M74.75 69.40v11.05"/><path stroke="#d7ecef" d="M74.75 80.30v11.05"/><path stroke="#f0f6f7" d="M74.75 91.20v11.05"/><path stroke="#e2f1f3" d="M74.75 102.10v11.05"/><path stroke="#eaa19c" d="M75.80 25.80v11.05"/><path stroke="#f8f1f0" d="M75.80 36.70v11.05"/><path stroke="#d6ecef" d="M75.80 47.60v11.05"/><path stroke="#addce2" d="M75.80 58.50v11.05"/><path stroke="#cae7eb" d="M75.80 69.40v11.05"/><path stroke="#f8f1f1" d="M75.80 80.30v11.05"/><path stroke="#d2eaee" d="M75.80 91.20v11.05"/><path stroke="#daedf0" d="M75.80 102.10v11.05"/><path stroke="#eaa49e" d="M76.86 25.80v11.05"/><path stroke="#f4dcda" d="M76.86 36.70v11.05"/><path stroke="#d5ebef" d="M76.86 47.60v11.05"/><path stroke="#dceef1" d="M76.86 58.50v11.05"/><path stroke="#e4f1f3" d="M76.86 69.40v11.05"/><path stroke="#c5e5ea" d="M76.86 80.30v11.05"/><path stroke="#f3d3d1" d="M76.86 91.20v11.05"/><path stroke="#f3d6d3" d="M76.86 102.10v11.05"/><path stroke="#eba7a1" d="M77.91 25.80v11.05"/><path stroke="#f3d5d3" d="M77.91 36.70v11.05"/><path stroke="#dceef1" d="M77.91 47.60v11.05"/><path stroke="#b5dfe5" d="M77.91 58.50v11.05"/><path stroke="#d6ecef" d="M77.91 69.40v11.05"/><path stroke="#bfe3e8" d="M77.91 80.30v11.05"/><path stroke="#c5e5ea" d="M77.91 91.20v11.05"/><path stroke="#f2f7f8" d="M77.91 102.10v11.05"/><path stroke="#eaa49e" d="M78.96 25.80v11.05"/><path stroke="#f3d5d3" d="M78.96 36.70v11.05"/><path stroke="#e1f0f2" d="M78.96 47.60v11.05"/><path stroke="#d2eaed" d="M78.96 58.50v11.05"/><path stroke="#ddeff1" d="M78.96 69.40v11.05"/><path stroke="#f8f0ef" d="M78.96 80.30v11.05"/><path stroke="#f6e5e4" d="M78.96 91.20v11.05"/><path stroke="#daedf0" d="M78.96 102.10v11.05"/><path stroke="#e99c96" d="M80.01 25.80v11.05"/><path stroke="#e7938c" d="M80.01 36.70v11.05"/><path stroke="#d2eaee" d="M80.01 47.60v11.05"/><path stroke="#ddeff1" d="M80.01 58.50v11.05"/><path stroke="#bae1e6" d="M80.01 69.40v11.05"/><path stroke="#f5dedc" d="M80.01 80.30v11.05"/><path stroke="#f3d2d0" d="M80.01 91.20v11.05"/><path stroke="#cfe9ed" d="M80.01 102.10v11.05"/><path stroke="#f6e5e4" d="M81.07 25.80v11.05"/><path stroke="#eaa19b" d="M81.07 36.70v11.05"/><path stroke="#a9dae1" d="M81.07 47.60v11.05"/><path stroke="#b0dde3" d="M81.07 58.50v11.05"/><path stroke="#aedce2" d="M81.07 69.40v11.05"/><path stroke="#b7e0e5" d="M81.07 80.30v11.05"/><path stroke="#a6d9e0" d="M81.07 91.20v11.05"/><path stroke="#cae7eb" d="M81.07 102.10v11.05"/><path stroke="#eebbb7" d="M82.12 25.80v11.05"/><path stroke="#f0c3c0" d="M82.12 36.70v11.05"/><path stroke="#bae1e6" d="M82.12 47.60v11.05"/><path stroke="#addce2" d="M82.12 58.50v11.05"/><path stroke="#a1d7df" d="M82.12 69.40v11.05"/><path stroke="#bfe3e8" d="M82.12 80.30v11.05"/><path stroke="#bae1e6" d="M82.12 91.20v11.05"/><path stroke="#faf8f8" d="M82.12 102.10v11.05"/><path stroke="#ebaba6" d="M83.17 25.80v11.05"/><path stroke="#f2d1ce" d="M83.17 36.70v11.05"/><path stroke="#bfe3e8" d="M83.17 47.60v11.05"/><path stroke="#b9e1e6" d="M83.17 58.50v11.05"/><path stroke="#c8e6ea" d="M83.17 69.40v11.05"/><path stroke="#ddeef1" d="M83.17 80.30v11.05"/><path stroke="#f4f8f8" d="M83.17 91.20v11.05"/><path stroke="#f6f8f9" d="M83.17 102.10v11.05"/><path stroke="#ecb0ab" d="M84.22 25.80v11.05"/><path stroke="#edb3af" d="M84.22 36.70v11.05"/><path stroke="#f6e7e5" d="M84.22 47.60v11.05"/><path stroke="#b7e0e5" d="M84.22 58.50v11.05"/><path stroke="#d3ebee" d="M84.22 69.40v11.05"/><path stroke="#e9f3f5" d="M84.22 80.30v11.05"/><path stroke="#f8f9fa" d="M84.22 91.20v11.05"/><path stroke="#f9f3f3" d="M84.22 102.10v11.05"/><path stroke="#eba6a0" d="M85.27 25.80v11.05"/><path stroke="#f0c4c0" d="M85.27 36.70v11.05"/><path stroke="#cee9ec" d="M85.27 47.60v11.05"/><path stroke="#9bd5dd" d="M85.27 58.50v11.05"/><path stroke="#b0dde3" d="M85.27 69.40v11.05"/><path stroke="#c9e7eb" d="M85.27 80.30v11.05"/><path stroke="#b7e0e5" d="M85.27 91.20v11.05"/><path stroke="#b7dfe5" d="M85.27 102.10v11.05"/><path stroke="#eebab6" d="M86.33 25.80v11.05"/><path stroke="#eaa6a0" d="M86.33 36.70v11.05"/><path stroke="#d7ecef" d="M86.33 47.60v11.05"/><path stroke="#d0eaed" d="M86.33 58.50v11.05"/><path stroke="#d9edf0" d="M86.33 69.40v11.05"/><path stroke="#d0eaed" d="M86.33 80.30v11.05"/><path stroke="#b5dfe5" d="M86.33 91.20v11.05"/><path stroke="#e1f0f2" d="M86.33 102.10v11.05"/><path stroke="#eeb9b4" d="M87.38 25.80v11.05"/><path stroke="#f0c5c1" d="M87.38 36.70v11.05"/><path stroke="#d5ecef" d="M87.38 47.60v11.05"/><path stroke="#b7e0e5" d="M87.38 58.50v11.05"/><path stroke="#daedf0" d="M87.38 69.40v11.05"/><path stroke="#f8f1f1" d="M87.38 80.30v11.05"/><path stroke="#cee9ed" d="M87.38 91.20v11.05"/><path stroke="#e5f2f3" d="M87.38 102.10v11.05"/><path stroke="#e5867e" d="M88.43 25.80v11.05"/><path stroke="#eeb9b4" d="M88.43 36.70v11.05"/><path stroke="#d1eaed" d="M88.43 47.60v11.05"/><path stroke="#b4dee4" d="M88.43 58.50v11.05"/><path stroke="#c4e5e9" d="M88.43 69.40v11.05"/><path stroke="#cae7eb" d="M88.43 80.30v11.05"/><path stroke="#a0d7de" d="M88.43 91.20v11.05"/><path stroke="#f8edec" d="M88.43 102.10v11.05"/><path stroke="#f3d6d3" d="M89.48 25.80v11.05"/><path stroke="#e99f99" d="M89.48 36.70v11.05"/><path stroke="#cbe8eb" d="M89.48 47.60v11.05"/><path stroke="#d6ecef" d="M89.48 58.50v11.05"/><path stroke="#d9edf0" d="M89.48 69.40v11.05"/><path stroke="#aedce3" d="M89.48 80.30v11.05"/><path stroke="#dfeff2" d="M89.48 91.20v11.05"/><path stroke="#f5dfdd" d="M89.48 102.10v11.05"/><path stroke="#f2cecb" d="M90.53 25.80v11.05"/><path stroke="#f4f8f8" d="M90.53 36.70v11.05"/><path stroke="#a6d9e0" d="M90.53 47.60v11.05"/><path stroke="#c3e4e9" d="M90.53 58.50v11.05"/><path stroke="#e5f2f4" d="M90.53 69.40v11.05"/><path stroke="#d0eaed" d="M90.53 80.30v11.05"/><path stroke="#dceef1" d="M90.53 91.20v11.05"/><path stroke="#f4d8d6" d="M90.53 102.10v11.05"/><path stroke="#f0c4c1" d="M91.59 25.80v11.05"/><path stroke="#edb3ae" d="M91.59 36.70v11.05"/><path stroke="#c6e6ea" d="M91.59 47.60v11.05"/><path stroke="#a9dae1" d="M91.59 58.50v11.05"/><path stroke="#a6d9e0" d="M91.59 69.40v11.05"/><path stroke="#cde8ec" d="M91.59 80.30v11.05"/><path stroke="#ddeef1" d="M91.59 91.20v11.05"/><path stroke="#abdbe2" d="M91.59 102.10v11.05"/><path stroke="#efbeba" d="M92.64 25.80v11.05"/><path stroke="#edb3af" d="M92.64 36.70v11.05"/><path stroke="#bee3e8" d="M92.64 47.60v11.05"/><path stroke="#bfe3e8" d="M92.64 58.50v11.05"/><path stroke="#bce2e7" d="M92.64 69.40v11.05"/><path stroke="#e5f2f4" d="M92.64 80.30v11.05"/><path stroke="#f8efee" d="M92.64 91.20v11.05"/><path stroke="#cde8ec" d="M92.64 102.10v11.05"/><path stroke="#eebcb7" d="M93.69 25.80v11.05"/><path stroke="#eebbb6" d="M93.69 36.70v11.05"/><path stroke="#daedf0" d="M93.69 47.60v11.05"/><path stroke="#eaf4f5" d="M93.69 58.50v11.05"/><path stroke="#c8e6ea" d="M93.69 69.40v11.05"/><path stroke="#d4ebee" d="M93.69 80.30v11.05"/><path stroke="#ebf4f5" d="M93.69 91.20v11.05"/><path stroke="#b5dfe5" d="M93.69 102.10v11.05"/><path stroke="#efc0bc" d="M94.74 25.80v11.05"/><path stroke="#edb5b1" d="M94.74 36.70v11.05"/><path stroke="#afdce3" d="M94.74 47.60v11.05"/><path stroke="#9cd5dd" d="M94.74 58.50v11.05"/><path stroke="#c7e6ea" d="M94.74 69.40v11.05"/><path stroke="#d3ebee" d="M94.74 80.30v11.05"/><path stroke="#c9e7eb" d="M94.74 91.20v11.05"/><path stroke="#f8f9f9" d="M94.74 102.10v11.05"/><path stroke="#efc0bc" d="M95.80 25.80v11.05"/><path stroke="#edb3ae" d="M95.80 36.70v11.05"/><path stroke="#a4d8df" d="M95.80 47.60v11.05"/><path stroke="#b2dee4" d="M95.80 58.50v11.05"/><path stroke="#c3e4e9" d="M95.80 69.40v11.05"/><path stroke="#dfeff2" d="M95.80 80.30v11.05"/><path stroke="#d2eaee" d="M95.80 91.20v11.05"/><path stroke="#e2f0f2" d="M95.80 102.10v11.05"/><path stroke="#ebaba6" d="M96.85 25.80v11.05"/><path stroke="#e5867f" d="M96.85 36.70v11.05"/><path stroke="#afdce3" d="M96.85 47.60v11.05"/><path stroke="#e9f3f5" d="M96.85 58.50v11.05"/><path stroke="#b0dde3" d="M96.85 69.40v11.05"/><path stroke="#c4e5e9" d="M96.85 80.30v11.05"/><path stroke="#d9edf0" d="M96.85 91.20v11.05"/><path stroke="#f4f8f8" d="M96.85 102.10v11.05"/><path stroke="#f8f0ef" d="M97.90 25.80v11.05"/><path stroke="#edb6b1" d="M97.90 36.70v11.05"/><path stroke="#c2e4e9" d="M97.90 47.60v11.05"/><path stroke="#c0e3e8" d="M97.90 58.50v11.05"/><path stroke="#f2f7f8" d="M97.90 69.40v11.05"/><path stroke="#c3e4e9" d="M97.90 80.30v11.05"/><path stroke="#d4ebee" d="M97.90 91.20v11.05"/><path stroke="#eaf4f5" d="M97.90 102.10v11.05"/><path stroke="#e37e76" d="M98.95 25.80v11.05"/><path stroke="#f9f3f3" d="M98.95 36.70v11.05"/><path stroke="#c0e3e8" d="M98.95 47.60v11.05"/><path stroke="#84cbd5" d="M98.95 58.50v11.05"/><path stroke="#ddeff1" d="M98.95 69.40v11.05"/><path stroke="#c6e6ea" d="M98.95 80.30v11.05"/><path stroke="#f9f7f7" d="M98.95 91.20v11.05"/><path stroke="#f2d0cd" d="M98.95 102.10v11.05"/><path stroke="#edb5b0" d="M100.00 25.80v11.05"/><path stroke="#f4d8d6" d="M100.00 36.70v11.05"/><path stroke="#b4dee4" d="M100.00 47.60v11.05"/><path stroke="#b6dfe5" d="M100.00 58.50v11.05"/><path stroke="#d5ebee" d="M100.00 69.40v11.05"/><path stroke="#cde8ec" d="M100.00 80.30v11.05"/><path stroke="#ddeff1" d="M100.00 91.20v11.05"/><path stroke="#d5ecef" d="M100.00 102.10v11.05"/><path stroke="#e89993" d="M101.06 25.80v11.05"/><path stroke="#f0c3bf" d="M101.06 36.70v11.05"/><path stroke="#d9edf0" d="M101.06 47.60v11.05"/><path stroke="#cbe7eb" d="M101.06 58.50v11.05"/><path stroke="#b7e0e5" d="M101.06 69.40v11.05"/><path stroke="#f9f7f6" d="M101.06 80.30v11.05"/><path stroke="#f4f8f8" d="M101.06 91.20v11.05"/><path stroke="#c7e6ea" d="M101.06 102.10v11.05"/><path stroke="#e99c96" d="M102.11 25.80v11.05"/><path stroke="#f9fafa" d="M102.11 36.70v11.05"/><path stroke="#ecf5f6" d="M102.11 47.60v11.05"/><path stroke="#d6ecef" d="M102.11 58.50v11.05"/><path stroke="#e7f2f4" d="M102.11 69.40v11.05"/><path stroke="#deeff1" d="M102.11 80.30v11.05"/><path stroke="#e3f1f3" d="M102.11 91.20v11.05"/><path stroke="#b6dfe5" d="M102.11 102.10v11.05"/><path stroke="#eaa5a0" d="M103.16 25.80v11.05"/><path stroke="#f1c8c5" d="M103.16 36.70v11.05"/><path stroke="#d4ebee" d="M103.16 47.60v11.05"/><path stroke="#d0e9ed" d="M103.16 58.50v11.05"/><path stroke="#e1f0f2" d="M103.16 69.40v11.05"/><path stroke="#cde8ec" d="M103.16 80.30v11.05"/><path stroke="#e5f2f4" d="M103.16 91.20v11.05"/><path stroke="#a2d7df" d="M103.16 102.10v11.05"/><path stroke="#e99f99" d="M104.21 25.80v11.05"/><path stroke="#e7928b" d="M104.21 36.70v11.05"/><path stroke="#b7e0e5" d="M104.21 47.60v11.05"/><path stroke="#bbe1e7" d="M104.21 58.50v11.05"/><path stroke="#e5f2f3" d="M104.21 69.40v11.05"/><path stroke="#bee2e7" d="M104.21 80.30v11.05"/><path stroke="#edf5f6" d="M104.21 91.20v11.05"/><path stroke="#f7e8e7" d="M104.21 102.10v11.05"/><path stroke="#e68d85" d="M105.27 25.80v11.05"/><path stroke="#f5e1df" d="M105.27 36.70v11.05"/><path stroke="#c7e6ea" d="M105.27 47.60v11.05"/><path stroke="#c2e4e9" d="M105.27 58.50v11.05"/><path stroke="#c9e7eb" d="M105.27 69.40v11.05"/><path stroke="#eaf4f5" d="M105.27 80.30v11.05"/><path stroke="#f1ccc9" d="M105.27 91.20v11.05"/><path stroke="#c6e6ea" d="M105.27 102.10v11.05"/><path stroke="#eaa59f" d="M106.32 25.80v11.05"/><path stroke="#f9f3f3" d="M106.32 36.70v11.05"/><path stroke="#c5e5ea" d="M106.32 47.60v11.05"/><path stroke="#c7e6ea" d="M106.32 58.50v11.05"/><path stroke="#b9e1e6" d="M106.32 69.40v11.05"/><path stroke="#d3ebee" d="M106.32 80.30v11.05"/><path stroke="#a2d8df" d="M106.32 91.20v11.05"/><path stroke="#ecf5f6" d="M106.32 102.10v11.05"/><path stroke="#f2cdca" d="M107.37 25.80v11.05"/><path stroke="#f6e7e6" d="M107.37 36.70v11.05"/><path stroke="#aadae1" d="M107.37 47.60v11.05"/><path stroke="#c1e4e9" d="M107.37 58.50v11.05"/><path stroke="#b6dfe5" d="M107.37 69.40v11.05"/><path stroke="#afdce3" d="M107.37 80.30v11.05"/><path stroke="#daedf0" d="M107.37 91.20v11.05"/><path stroke="#faf9f9" d="M107.37 102.10v11.05"/><path stroke="#eaa49e" d="M108.42 25.80v11.05"/><path stroke="#e7928b" d="M108.42 36.70v11.05"/><path stroke="#c8e6ea" d="M108.42 47.60v11.05"/><path stroke="#aadae1" d="M108.42 58.50v11.05"/><path stroke="#f9f6f6" d="M108.42 69.40v11.05"/><path stroke="#f8edec" d="M108.42 80.30v11.05"/><path stroke="#9bd5dd" d="M108.42 91.20v11.05"/><path stroke="#daedf0" d="M108.42 102.10v11.05"/><path stroke="#e7918a" d="M109.47 25.80v11.05"/><path stroke="#eba6a0" d="M109.47 36.70v11.05"/><path stroke="#c3e4e9" d="M109.47 47.60v11.05"/><path stroke="#b3dee4" d="M109.47 58.50v11.05"/><path stroke="#cee9ec" d="M109.47 69.40v11.05"/><path stroke="#ecf5f6" d="M109.47 80.30v11.05"/><path stroke="#bde2e7" d="M109.47 91.20v11.05"/><path stroke="#bfe3e8" d="M109.47 102.10v11.05"/><path stroke="#f6e2e1" d="M110.53 25.80v11.05"/><path stroke="#f2cfcc" d="M110.53 36.70v11.05"/><path stroke="#bbe1e6" d="M110.53 47.60v11.05"/><path stroke="#cbe8ec" d="M110.53 58.50v11.05"/><path stroke="#b6dfe5" d="M110.53 69.40v11.05"/><path stroke="#b4dee4" d="M110.53 80.30v11.05"/><path stroke="#cee9ec" d="M110.53 91.20v11.05"/><path stroke="#d9edf0" d="M110.53 102.10v11.05"/><path stroke="#edb3ae" d="M111.58 25.80v11.05"/><path stroke="#ebaba6" d="M111.58 36.70v11.05"/><path stroke="#d0eaed" d="M111.58 47.60v11.05"/><path stroke="#dceef1" d="M111.58 58.50v11.05"/><path stroke="#addce2" d="M111.58 69.40v11.05"/><path stroke="#b9e0e6" d="M111.58 80.30v11.05"/><path stroke="#83cbd5" d="M111.58 91.20v11.05"/><path stroke="#f6e4e3" d="M111.58 102.10v11.05"/><path stroke="#edb5b0" d="M112.63 25.80v11.05"/><path stroke="#edb5b0" d="M112.63 36.70v11.05"/><path stroke="#a2d7df" d="M112.63 47.60v11.05"/><path stroke="#c3e5e9" d="M112.63 58.50v11.05"/><path stroke="#bde2e7" d="M112.63 69.40v11.05"/><path stroke="#92d1da" d="M112.63 80.30v11.05"/><path stroke="#dceef1" d="M112.63 91.20v11.05"/><path stroke="#f9f9fa" d="M112.63 102.10v11.05"/><path stroke="#eba7a1" d="M113.68 25.80v11.05"/><path stroke="#f1cbc7" d="M113.68 36.70v11.05"/><path stroke="#b5dfe5" d="M113.68 47.60v11.05"/><path stroke="#b6dfe5" d="M113.68 58.50v11.05"/><path stroke="#cde8ec" d="M113.68 69.40v11.05"/><path stroke="#b0dde3" d="M113.68 80.30v11.05"/><path stroke="#e1f0f2" d="M113.68 91.20v11.05"/><path stroke="#b8e0e6" d="M113.68 102.10v11.05"/><path stroke="#efbeba" d="M114.73 25.80v11.05"/><path stroke="#f0c3bf" d="M114.73 36.70v11.05"/><path stroke="#eaf4f5" d="M114.73 47.60v11.05"/><path stroke="#d4ebee" d="M114.73 58.50v11.05"/><path stroke="#cbe8ec" d="M114.73 69.40v11.05"/><path stroke="#b6dfe5" d="M114.73 80.30v11.05"/><path stroke="#cae7eb" d="M114.73 91.20v11.05"/><path stroke="#eaf4f5" d="M114.73 102.10v11.05"/><path stroke="#e99b95" d="M115.79 25.80v11.05"/><path stroke="#eba8a2" d="M115.79 36.70v11.05"/><path stroke="#cde8ec" d="M115.79 47.60v11.05"/><path stroke="#e8f3f5" d="M115.79 58.50v11.05"/><path stroke="#c9e7eb" d="M115.79 69.40v11.05"/><path stroke="#c8e6eb" d="M115.79 80.30v11.05"/><path stroke="#f8f2f1" d="M115.79 91.20v11.05"/><path stroke="#e8f3f4" d="M115.79 102.10v11.05"/><path stroke="#efc0bc" d="M116.84 25.80v11.05"/><path stroke="#f2d1ce" d="M116.84 36.70v11.05"/><path stroke="#cbe7eb" d="M116.84 47.60v11.05"/><path stroke="#c6e6ea" d="M116.84 58.50v11.05"/><path stroke="#a8dae1" d="M116.84 69.40v11.05"/><path stroke="#d4ebee" d="M116.84 80.30v11.05"/><path stroke="#ddeff1" d="M116.84 91.20v11.05"/><path stroke="#b8e0e5" d="M116.84 102.10v11.05"/><path stroke="#ecafaa" d="M117.89 25.80v11.05"/><path stroke="#f1ccc9" d="M117.89 36.70v11.05"/><path stroke="#daedf0" d="M117.89 47.60v11.05"/><path stroke="#e6f2f4" d="M117.89 58.50v11.05"/><path stroke="#c0e3e8" d="M117.89 69.40v11.05"/><path stroke="#e1f0f2" d="M117.89 80.30v11.05"/><path stroke="#c8e6eb" d="M117.89 91.20v11.05"/><path stroke="#f0c6c2" d="M117.89 102.10v11.05"/><path stroke="#e7928b" d="M118.94 25.80v11.05"/><path stroke="#f6e2e1" d="M118.94 36.70v11.05"/><path stroke="#cbe8ec" d="M118.94 47.60v11.05"/><path stroke="#e8f3f5" d="M118.94 58.50v11.05"/><path stroke="#88cdd7" d="M118.94 69.40v11.05"/><path stroke="#bae1e6" d="M118.94 80.30v11.05"/><path stroke="#e5f2f4" d="M118.94 91.20v11.05"/><path stroke="#d2eaee" d="M118.94 102.10v11.05"/><path stroke="#e27971" d="M120.00 25.80v11.05"/><path stroke="#f0c6c3" d="M120.00 36.70v11.05"/><path stroke="#9ed6dd" d="M120.00 47.60v11.05"/><path stroke="#cce8ec" d="M120.00 58.50v11.05"/><path stroke="#98d4dc" d="M120.00 69.40v11.05"/><path stroke="#e3f1f3" d="M120.00 80.30v11.05"/><path stroke="#c0e3e8" d="M120.00 91.20v11.05"/><path stroke="#d8ecef" d="M120.00 102.10v11.05"/><path stroke="#eaa19b" d="M121.05 25.80v11.05"/><path stroke="#f9f2f2" d="M121.05 36.70v11.05"/><path stroke="#b3dee4" d="M121.05 47.60v11.05"/><path stroke="#e9f3f5" d="M121.05 58.50v11.05"/><path stroke="#e6f2f4" d="M121.05 69.40v11.05"/><path stroke="#c5e5ea" d="M121.05 80.30v11.05"/><path stroke="#f8efee" d="M121.05 91.20v11.05"/><path stroke="#fafafa" d="M121.05 102.10v11.05"/><path stroke="#f6e5e4" d="M122.10 25.80v11.05"/><path stroke="#f1cbc8" d="M122.10 36.70v11.05"/><path stroke="#daeef0" d="M122.10 47.60v11.05"/><path stroke="#d9edf0" d="M122.10 58.50v11.05"/><path stroke="#e2f0f2" d="M122.10 69.40v11.05"/><path stroke="#92d1da" d="M122.10 80.30v11.05"/><path stroke="#e8f3f4" d="M122.10 91.20v11.05"/><path stroke="#f2f7f8" d="M122.10 102.10v11.05"/><path stroke="#edb3af" d="M123.15 25.80v11.05"/><path stroke="#efbdb9" d="M123.15 36.70v11.05"/><path stroke="#e1f0f2" d="M123.15 47.60v11.05"/><path stroke="#f2f7f8" d="M123.15 58.50v11.05"/><path stroke="#daeef0" d="M123.15 69.40v11.05"/><path stroke="#f7eceb" d="M123.15 80.30v11.05"/><path stroke="#e0f0f2" d="M123.15 91.20v11.05"/><path stroke="#f9f3f2" d="M123.15 102.10v11.05"/><path stroke="#ecaea9" d="M124.20 25.80v11.05"/><path stroke="#f6e4e3" d="M124.20 36.70v11.05"/><path stroke="#a0d7de" d="M124.20 47.60v11.05"/><path stroke="#d2eaee" d="M124.20 58.50v11.05"/><path stroke="#c7e6ea" d="M124.20 69.40v11.05"/><path stroke="#b7dfe5" d="M124.20 80.30v11.05"/><path stroke="#dbeef0" d="M124.20 91.20v11.05"/><path stroke="#f4f8f8" d="M124.20 102.10v11.05"/><path stroke="#eeb9b4" d="M125.26 25.80v11.05"/><path stroke="#eeb6b2" d="M125.26 36.70v11.05"/><path stroke="#c1e3e8" d="M125.26 47.60v11.05"/><path stroke="#b1dde3" d="M125.26 58.50v11.05"/><path stroke="#8ccfd8" d="M125.26 69.40v11.05"/><path stroke="#e1f0f2" d="M125.26 80.30v11.05"/><path stroke="#daedf0" d="M125.26 91.20v11.05"/><path stroke="#d0e9ed" d="M125.26 102.10v11.05"/><path stroke="#eba9a4" d="M126.31 25.80v11.05"/><path stroke="#f4d8d5" d="M126.31 36.70v11.05"/><path stroke="#addce2" d="M126.31 47.60v11.05"/><path stroke="#b1dde3" d="M126.31 58.50v11.05"/><path stroke="#b6dfe5" d="M126.31 69.40v11.05"/><path stroke="#b8e0e6" d="M126.31 80.30v11.05"/><path stroke="#b2dee4" d="M126.31 91.20v11.05"/><path stroke="#ecf4f6" d="M126.31 102.10v11.05"/><path stroke="#eba7a1" d="M127.36 25.80v11.05"/><path stroke="#faf7f7" d="M127.36 36.70v11.05"/><path stroke="#bae1e6" d="M127.36 47.60v11.05"/><path stroke="#cee9ed" d="M127.36 58.50v11.05"/><path stroke="#bce1e7" d="M127.36 69.40v11.05"/><path stroke="#a9dae1" d="M127.36 80.30v11.05"/><path stroke="#cde8ec" d="M127.36 91.20v11.05"/><path stroke="#d0eaed" d="M127.36 102.10v11.05"/><path stroke="#f2ccc9" d="M128.41 25.80v11.05"/><path stroke="#f1cbc8" d="M128.41 36.70v11.05"/><path stroke="#a6d9e0" d="M128.41 47.60v11.05"/><path stroke="#b0dde3" d="M128.41 58.50v11.05"/><path stroke="#c2e4e9" d="M128.41 69.40v11.05"/><path stroke="#cce8ec" d="M128.41 80.30v11.05"/><path stroke="#e3f1f3" d="M128.41 91.20v11.05"/><path stroke="#d9edf0" d="M128.41 102.10v11.05"/><path stroke="#ecb1ac" d="M129.47 25.80v11.05"/><path stroke="#f3d1cf" d="M129.47 36.70v11.05"/><path stroke="#bae1e6" d="M129.47 47.60v11.05"/><path stroke="#bce2e7" d="M129.47 58.50v11.05"/><path stroke="#9dd5dd" d="M129.47 69.40v11.05"/><path stroke="#bfe3e8" d="M129.47 80.30v11.05"/><path stroke="#d7ecef" d="M129.47 91.20v11.05"/><path stroke="#b8e0e6" d="M129.47 102.10v11.05"/><path stroke="#e9a09a" d="M130.52 25.80v11.05"/><path stroke="#f1cbc8" d="M130.52 36.70v11.05"/><path stroke="#e8f3f4" d="M130.52 47.60v11.05"/><path stroke="#90d0d9" d="M130.52 58.50v11.05"/><path stroke="#c2e4e9" d="M130.52 69.40v11.05"/><path stroke="#9bd5dd" d="M130.52 80.30v11.05"/><path stroke="#fafafa" d="M130.52 91.20v11.05"/><path stroke="#f0c4c0" d="M130.52 102.10v11.05"/><path stroke="#efbeba" d="M131.57 25.80v11.05"/><path stroke="#f0c3bf" d="M131.57 36.70v11.05"/><path stroke="#a0d7de" d="M131.57 47.60v11.05"/><path stroke="#b0dde3" d="M131.57 58.50v11.05"/><path stroke="#77c7d2" d="M131.57 69.40v11.05"/><path stroke="#c5e5ea" d="M131.57 80.30v11.05"/><path stroke="#c9e7eb" d="M131.57 91.20v11.05"/><path stroke="#bee2e8" d="M131.57 102.10v11.05"/><path stroke="#eaa19b" d="M132.62 25.80v11.05"/><path stroke="#f5dcda" d="M132.62 36.70v11.05"/><path stroke="#c0e3e8" d="M132.62 47.60v11.05"/><path stroke="#b2dee4" d="M132.62 58.50v11.05"/><path stroke="#8dcfd8" d="M132.62 69.40v11.05"/><path stroke="#c4e5e9" d="M132.62 80.30v11.05"/><path stroke="#daeef0" d="M132.62 91.20v11.05"/><path stroke="#ecf5f6" d="M132.62 102.10v11.05"/><path stroke="#edb6b1" d="M133.67 25.80v11.05"/><path stroke="#edb2ae" d="M133.67 36.70v11.05"/><path stroke="#bbe1e7" d="M133.67 47.60v11.05"/><path stroke="#d1eaed" d="M133.67 58.50v11.05"/><path stroke="#e8f3f5" d="M133.67 69.40v11.05"/><path stroke="#a9dae1" d="M133.67 80.30v11.05"/><path stroke="#93d1da" d="M133.67 91.20v11.05"/><path stroke="#ecf4f6" d="M133.67 102.10v11.05"/></g>
<g stroke-width="1.12"><path stroke="#a0d7de" d="M134.72 25.80v11.05"/><path stroke="#cfe9ed" d="M134.72 36.70v11.05"/><path stroke="#e48179" d="M134.72 47.60v11.05"/><path stroke="#e37f77" d="M134.72 58.50v11.05"/><path stroke="#da4a3e" d="M134.72 69.40v11.05"/><path stroke="#eba7a1" d="M134.72 80.30v11.05"/><path stroke="#f3d4d2" d="M134.72 91.20v11.05"/><path stroke="#f1c9c5" d="M134.72 102.10v11.05"/><path stroke="#c2e4e9" d="M135.77 25.80v11.05"/><path stroke="#a9dae1" d="M135.77 36.70v11.05"/><path stroke="#e27970" d="M135.77 47.60v11.05"/><path stroke="#dd5f54" d="M135.77 58.50v11.05"/><path stroke="#e06b61" d="M135.77 69.40v11.05"/><path stroke="#de6056" d="M135.77 80.30v11.05"/><path stroke="#e89791" d="M135.77 91.20v11.05"/><path stroke="#efc0bc" d="M135.77 102.10v11.05"/><path stroke="#7bc8d3" d="M136.81 25.80v11.05"/><path stroke="#bee2e7" d="M136.81 36.70v11.05"/><path stroke="#e2766e" d="M136.81 47.60v11.05"/><path stroke="#e27970" d="M136.81 58.50v11.05"/><path stroke="#dd5d52" d="M136.81 69.40v11.05"/><path stroke="#eaa49e" d="M136.81 80.30v11.05"/><path stroke="#f4d8d5" d="M136.81 91.20v11.05"/><path stroke="#f8f1f0" d="M136.81 102.10v11.05"/><path stroke="#64bfcc" d="M137.86 25.80v11.05"/><path stroke="#a3d8df" d="M137.86 36.70v11.05"/><path stroke="#e7938c" d="M137.86 47.60v11.05"/><path stroke="#e4847c" d="M137.86 58.50v11.05"/><path stroke="#e48179" d="M137.86 69.40v11.05"/><path stroke="#f0c5c1" d="M137.86 80.30v11.05"/><path stroke="#f3d6d3" d="M137.86 91.20v11.05"/><path stroke="#e7f3f4" d="M137.86 102.10v11.05"/><path stroke="#8ccfd8" d="M138.90 25.80v11.05"/><path stroke="#bee2e8" d="M138.90 36.70v11.05"/><path stroke="#e58a83" d="M138.90 47.60v11.05"/><path stroke="#e5877f" d="M138.90 58.50v11.05"/><path stroke="#dd5f54" d="M138.90 69.40v11.05"/><path stroke="#eaa29c" d="M138.90 80.30v11.05"/><path stroke="#e99f99" d="M138.90 91.20v11.05"/><path stroke="#ebaba6" d="M138.90 102.10v11.05"/><path stroke="#a5d8e0" d="M139.95 25.80v11.05"/><path stroke="#a0d7de" d="M139.95 36.70v11.05"/><path stroke="#e68b84" d="M139.95 47.60v11.05"/><path stroke="#e7918a" d="M139.95 58.50v11.05"/><path stroke="#e58982" d="M139.95 69.40v11.05"/><path stroke="#e1746b" d="M139.95 80.30v11.05"/><path stroke="#e37d75" d="M139.95 91.20v11.05"/><path stroke="#eeb8b4" d="M139.95 102.10v11.05"/><path stroke="#a5d9e0" d="M140.99 25.80v11.05"/><path stroke="#cfe9ed" d="M140.99 36.70v11.05"/><path stroke="#de645a" d="M140.99 47.60v11.05"/><path stroke="#e89790" d="M140.99 58.50v11.05"/><path stroke="#e48179" d="M140.99 69.40v11.05"/><path stroke="#e68e86" d="M140.99 80.30v11.05"/><path stroke="#e4837b" d="M140.99 91.20v11.05"/><path stroke="#edb1ad" d="M140.99 102.10v11.05"/><path stroke="#75c6d1" d="M142.04 25.80v11.05"/><path stroke="#98d3dc" d="M142.04 36.70v11.05"/><path stroke="#eaa39d" d="M142.04 47.60v11.05"/><path stroke="#df6a60" d="M142.04 58.50v11.05"/><path stroke="#e7928b" d="M142.04 69.40v11.05"/><path stroke="#ebaaa5" d="M142.04 80.30v11.05"/><path stroke="#e37f76" d="M142.04 91.20v11.05"/><path stroke="#e9a09a" d="M142.04 102.10v11.05"/><path stroke="#79c7d2" d="M143.08 25.80v11.05"/><path stroke="#c4e5e9" d="M143.08 36.70v11.05"/><path stroke="#dd5d53" d="M143.08 47.60v11.05"/><path stroke="#e06f66" d="M143.08 58.50v11.05"/><path stroke="#db5247" d="M143.08 69.40v11.05"/><path stroke="#e89a93" d="M143.08 80.30v11.05"/><path stroke="#e9a09a" d="M143.08 91.20v11.05"/><path stroke="#efbeba" d="M143.08 102.10v11.05"/><path stroke="#aadbe1" d="M144.13 25.80v11.05"/><path stroke="#8ccfd8" d="M144.13 36.70v11.05"/><path stroke="#e4827a" d="M144.13 47.60v11.05"/><path stroke="#e2776e" d="M144.13 58.50v11.05"/><path stroke="#e4837b" d="M144.13 69.40v11.05"/><path stroke="#eaa49e" d="M144.13 80.30v11.05"/><path stroke="#e89790" d="M144.13 91.20v11.05"/><path stroke="#e2786f" d="M144.13 102.10v11.05"/><path stroke="#95d2db" d="M145.17 25.80v11.05"/><path stroke="#8bcfd8" d="M145.17 36.70v11.05"/><path stroke="#db5348" d="M145.17 47.60v11.05"/><path stroke="#e2786f" d="M145.17 58.50v11.05"/><path stroke="#e17269" d="M145.17 69.40v11.05"/><path stroke="#eeb7b3" d="M145.17 80.30v11.05"/><path stroke="#ecada7" d="M145.17 91.20v11.05"/><path stroke="#f3d6d4" d="M145.17 102.10v11.05"/><path stroke="#95d2db" d="M146.22 25.80v11.05"/><path stroke="#bae1e6" d="M146.22 36.70v11.05"/><path stroke="#e37f76" d="M146.22 47.60v11.05"/><path stroke="#e7938d" d="M146.22 58.50v11.05"/><path stroke="#db5247" d="M146.22 69.40v11.05"/><path stroke="#edb1ac" d="M146.22 80.30v11.05"/><path stroke="#f6e6e4" d="M146.22 91.20v11.05"/><path stroke="#efc0bd" d="M146.22 102.10v11.05"/><path stroke="#6bc2ce" d="M147.26 25.80v11.05"/><path stroke="#a8dae1" d="M147.26 36.70v11.05"/><path stroke="#e58881" d="M147.26 47.60v11.05"/><path stroke="#eaa59f" d="M147.26 58.50v11.05"/><path stroke="#e5877f" d="M147.26 69.40v11.05"/><path stroke="#e4837b" d="M147.26 80.30v11.05"/><path stroke="#eba8a2" d="M147.26 91.20v11.05"/><path stroke="#f1c9c6" d="M147.26 102.10v11.05"/><path stroke="#89cdd7" d="M148.31 25.80v11.05"/><path stroke="#bae1e6" d="M148.31 36.70v11.05"/><path stroke="#e1746b" d="M148.31 47.60v11.05"/><path stroke="#e4827a" d="M148.31 58.50v11.05"/><path stroke="#eebab5" d="M148.31 69.40v11.05"/><path stroke="#e9a09a" d="M148.31 80.30v11.05"/><path stroke="#f1cac7" d="M148.31 91.20v11.05"/><path stroke="#eaa5a0" d="M148.31 102.10v11.05"/><path stroke="#8bced8" d="M149.35 25.80v11.05"/><path stroke="#faf9f9" d="M149.35 36.70v11.05"/><path stroke="#eaa49f" d="M149.35 47.60v11.05"/><path stroke="#eaa29c" d="M149.35 58.50v11.05"/><path stroke="#eba8a3" d="M149.35 69.40v11.05"/><path stroke="#f7e8e7" d="M149.35 80.30v11.05"/><path stroke="#f8efef" d="M149.35 91.20v11.05"/><path stroke="#eeb7b3" d="M149.35 102.10v11.05"/><path stroke="#59bbc8" d="M150.40 25.80v11.05"/><path stroke="#8aced7" d="M150.40 36.70v11.05"/><path stroke="#e37f77" d="M150.40 47.60v11.05"/><path stroke="#e89a94" d="M150.40 58.50v11.05"/><path stroke="#e68d86" d="M150.40 69.40v11.05"/><path stroke="#e99f99" d="M150.40 80.30v11.05"/><path stroke="#e7938c" d="M150.40 91.20v11.05"/><path stroke="#e5867e" d="M150.40 102.10v11.05"/><path stroke="#9ad4dc" d="M151.44 25.80v11.05"/><path stroke="#cce8ec" d="M151.44 36.70v11.05"/><path stroke="#db5146" d="M151.44 47.60v11.05"/><path stroke="#dc554a" d="M151.44 58.50v11.05"/><path stroke="#e2786f" d="M151.44 69.40v11.05"/><path stroke="#e58880" d="M151.44 80.30v11.05"/><path stroke="#e99e98" d="M151.44 91.20v11.05"/><path stroke="#ecaea8" d="M151.44 102.10v11.05"/><path stroke="#6ac1cd" d="M152.49 25.80v11.05"/><path stroke="#abdbe2" d="M152.49 36.70v11.05"/><path stroke="#ecaea9" d="M152.49 47.60v11.05"/><path stroke="#e06c62" d="M152.49 58.50v11.05"/><path stroke="#e1746b" d="M152.49 69.40v11.05"/><path stroke="#f1c7c3" d="M152.49 80.30v11.05"/><path stroke="#e79089" d="M152.49 91.20v11.05"/><path stroke="#eaa5a0" d="M152.49 102.10v11.05"/><path stroke="#afdce3" d="M153.53 25.80v11.05"/><path stroke="#cbe8ec" d="M153.53 36.70v11.05"/><path stroke="#e06e65" d="M153.53 47.60v11.05"/><path stroke="#edb3af" d="M153.53 58.50v11.05"/><path stroke="#e5857e" d="M153.53 69.40v11.05"/><path stroke="#ecaca6" d="M153.53 80.30v11.05"/><path stroke="#f0c3bf" d="M153.53 91.20v11.05"/><path stroke="#f2cdc9" d="M153.53 102.10v11.05"/><path stroke="#74c5d1" d="M154.58 25.80v11.05"/><path stroke="#a4d8df" d="M154.58 36.70v11.05"/><path stroke="#e89892" d="M154.58 47.60v11.05"/><path stroke="#e48179" d="M154.58 58.50v11.05"/><path stroke="#e48179" d="M154.58 69.40v11.05"/><path stroke="#e58a83" d="M154.58 80.30v11.05"/><path stroke="#e99e98" d="M154.58 91.20v11.05"/><path stroke="#ecaea9" d="M154.58 102.10v11.05"/><path stroke="#82cbd5" d="M155.62 25.80v11.05"/><path stroke="#dceef1" d="M155.62 36.70v11.05"/><path stroke="#e37d74" d="M155.62 47.60v11.05"/><path stroke="#e5877f" d="M155.62 58.50v11.05"/><path stroke="#e68f88" d="M155.62 69.40v11.05"/><path stroke="#e37f77" d="M155.62 80.30v11.05"/><path stroke="#f1cbc8" d="M155.62 91.20v11.05"/><path stroke="#ecafaa" d="M155.62 102.10v11.05"/><path stroke="#95d2db" d="M156.67 25.80v11.05"/><path stroke="#e8f3f4" d="M156.67 36.70v11.05"/><path stroke="#e7918a" d="M156.67 47.60v11.05"/><path stroke="#dd5d52" d="M156.67 58.50v11.05"/><path stroke="#e06c62" d="M156.67 69.40v11.05"/><path stroke="#efbdb9" d="M156.67 80.30v11.05"/><path stroke="#e7928b" d="M156.67 91.20v11.05"/><path stroke="#f1cac6" d="M156.67 102.10v11.05"/><path stroke="#8dcfd8" d="M157.71 25.80v11.05"/><path stroke="#cbe8ec" d="M157.71 36.70v11.05"/><path stroke="#e17067" d="M157.71 47.60v11.05"/><path stroke="#e27971" d="M157.71 58.50v11.05"/><path stroke="#df695f" d="M157.71 69.40v11.05"/><path stroke="#e9a09a" d="M157.71 80.30v11.05"/><path stroke="#e69089" d="M157.71 91.20v11.05"/><path stroke="#ecaca7" d="M157.71 102.10v11.05"/><path stroke="#52b8c6" d="M158.76 25.80v11.05"/><path stroke="#edf5f6" d="M158.76 36.70v11.05"/><path stroke="#e4827a" d="M158.76 47.60v11.05"/><path stroke="#eba7a1" d="M158.76 58.50v11.05"/><path stroke="#e37b72" d="M158.76 69.40v11.05"/><path stroke="#e7918a" d="M158.76 80.30v11.05"/><path stroke="#e7918a" d="M158.76 91.20v11.05"/><path stroke="#f4dbd9" d="M158.76 102.10v11.05"/><path stroke="#9ed6de" d="M159.80 25.80v11.05"/><path stroke="#f3d4d2" d="M159.80 36.70v11.05"/><path stroke="#e2776e" d="M159.80 47.60v11.05"/><path stroke="#de6055" d="M159.80 58.50v11.05"/><path stroke="#e2786f" d="M159.80 69.40v11.05"/><path stroke="#ecaca7" d="M159.80 80.30v11.05"/><path stroke="#e48179" d="M159.80 91.20v11.05"/><path stroke="#e68d85" d="M159.80 102.10v11.05"/><path stroke="#b9e0e6" d="M160.85 25.80v11.05"/><path stroke="#c4e5e9" d="M160.85 36.70v11.05"/><path stroke="#e89992" d="M160.85 47.60v11.05"/><path stroke="#e37e75" d="M160.85 58.50v11.05"/><path stroke="#e48179" d="M160.85 69.40v11.05"/><path stroke="#eaa49e" d="M160.85 80.30v11.05"/><path stroke="#e69088" d="M160.85 91.20v11.05"/><path stroke="#e99f99" d="M160.85 102.10v11.05"/><path stroke="#9ad4dc" d="M161.89 25.80v11.05"/><path stroke="#c5e5ea" d="M161.89 36.70v11.05"/><path stroke="#e4847c" d="M161.89 47.60v11.05"/><path stroke="#e1746b" d="M161.89 58.50v11.05"/><path stroke="#e06b61" d="M161.89 69.40v11.05"/><path stroke="#edb6b2" d="M161.89 80.30v11.05"/><path stroke="#f5e1df" d="M161.89 91.20v11.05"/><path stroke="#e7928b" d="M161.89 102.10v11.05"/><path stroke="#b6dfe5" d="M162.94 25.80v11.05"/><path stroke="#9ad4dc" d="M162.94 36.70v11.05"/><path stroke="#e68c84" d="M162.94 47.60v11.05"/><path stroke="#e37f77" d="M162.94 58.50v11.05"/><path stroke="#eba7a2" d="M162.94 69.40v11.05"/><path stroke="#ecada8" d="M162.94 80.30v11.05"/><path stroke="#e99c96" d="M162.94 91.20v11.05"/><path stroke="#e89892" d="M162.94 102.10v11.05"/><path stroke="#91d1da" d="M163.98 25.80v11.05"/><path stroke="#afdce3" d="M163.98 36.70v11.05"/><path stroke="#df675d" d="M163.98 47.60v11.05"/><path stroke="#dc594f" d="M163.98 58.50v11.05"/><path stroke="#e06a61" d="M163.98 69.40v11.05"/><path stroke="#ecb1ac" d="M163.98 80.30v11.05"/><path stroke="#e58982" d="M163.98 91.20v11.05"/><path stroke="#e69089" d="M163.98 102.10v11.05"/><path stroke="#94d2da" d="M165.03 25.80v11.05"/><path stroke="#ddeff1" d="M165.03 36.70v11.05"/><path stroke="#e06d64" d="M165.03 47.60v11.05"/><path stroke="#e5877f" d="M165.03 58.50v11.05"/><path stroke="#ecaea9" d="M165.03 69.40v11.05"/><path stroke="#e7918a" d="M165.03 80.30v11.05"/><path stroke="#e99e98" d="M165.03 91.20v11.05"/><path stroke="#edb4b0" d="M165.03 102.10v11.05"/><path stroke="#95d2db" d="M166.07 25.80v11.05"/><path stroke="#d5ebef" d="M166.07 36.70v11.05"/><path stroke="#e4827a" d="M166.07 47.60v11.05"/><path stroke="#df6a60" d="M166.07 58.50v11.05"/><path stroke="#da4e42" d="M166.07 69.40v11.05"/><path stroke="#e99d96" d="M166.07 80.30v11.05"/><path stroke="#e06d64" d="M166.07 91.20v11.05"/><path stroke="#e48179" d="M166.07 102.10v11.05"/><path stroke="#b2dee4" d="M167.12 25.80v11.05"/><path stroke="#f6e5e3" d="M167.12 36.70v11.05"/><path stroke="#e48078" d="M167.12 47.60v11.05"/><path stroke="#e27a72" d="M167.12 58.50v11.05"/><path stroke="#e89790" d="M167.12 69.40v11.05"/><path stroke="#e58a83" d="M167.12 80.30v11.05"/><path stroke="#e4837b" d="M167.12 91.20v11.05"/><path stroke="#eaa19b" d="M167.12 102.10v11.05"/><path stroke="#9dd5dd" d="M168.16 25.80v11.05"/><path stroke="#dceef1" d="M168.16 36.70v11.05"/><path stroke="#eaa19b" d="M168.16 47.60v11.05"/><path stroke="#de655b" d="M168.16 58.50v11.05"/><path stroke="#e58a83" d="M168.16 69.40v11.05"/><path stroke="#eeb9b5" d="M168.16 80.30v11.05"/><path stroke="#f0c3bf" d="M168.16 91.20v11.05"/><path stroke="#f2d0cd" d="M168.16 102.10v11.05"/><path stroke="#c1e3e8" d="M169.21 25.80v11.05"/><path stroke="#b1dde3" d="M169.21 36.70v11.05"/><path stroke="#df675d" d="M169.21 47.60v11.05"/><path stroke="#de6359" d="M169.21 58.50v11.05"/><path stroke="#e58a83" d="M169.21 69.40v11.05"/><path stroke="#efbeba" d="M169.21 80.30v11.05"/><path stroke="#efbeba" d="M169.21 91.20v11.05"/><path stroke="#f0c5c2" d="M169.21 102.10v11.05"/><path stroke="#9ad4dc" d="M170.25 25.80v11.05"/><path stroke="#99d4dc" d="M170.25 36.70v11.05"/><path stroke="#e37c74" d="M170.25 47.60v11.05"/><path stroke="#e99f99" d="M170.25 58.50v11.05"/><path stroke="#df695f" d="M170.25 69.40v11.05"/><path stroke="#efbdb9" d="M170.25 80.30v11.05"/><path stroke="#f0c2be" d="M170.25 91.20v11.05"/><path stroke="#f3d2cf" d="M170.25 102.10v11.05"/><path stroke="#bee2e7" d="M171.29 25.80v11.05"/><path stroke="#edf5f6" d="M171.29 36.70v11.05"/><path stroke="#e37f76" d="M171.29 47.60v11.05"/><path stroke="#e48078" d="M171.29 58.50v11.05"/><path stroke="#edb6b1" d="M171.29 69.40v11.05"/><path stroke="#edb5b0" d="M171.29 80.30v11.05"/><path stroke="#f1c9c5" d="M171.29 91.20v11.05"/><path stroke="#f5e0df" d="M171.29 102.10v11.05"/><path stroke="#94d2db" d="M172.34 25.80v11.05"/><path stroke="#c6e6ea" d="M172.34 36.70v11.05"/><path stroke="#e89790" d="M172.34 47.60v11.05"/><path stroke="#eba9a4" d="M172.34 58.50v11.05"/><path stroke="#e17067" d="M172.34 69.40v11.05"/><path stroke="#e2776e" d="M172.34 80.30v11.05"/><path stroke="#eba7a2" d="M172.34 91.20v11.05"/><path stroke="#f3d4d1" d="M172.34 102.10v11.05"/><path stroke="#93d1da" d="M173.38 25.80v11.05"/><path stroke="#eaf4f5" d="M173.38 36.70v11.05"/><path stroke="#e99f99" d="M173.38 47.60v11.05"/><path stroke="#e68c85" d="M173.38 58.50v11.05"/><path stroke="#e37f77" d="M173.38 69.40v11.05"/><path stroke="#eaa29c" d="M173.38 80.30v11.05"/><path stroke="#f5dfdd" d="M173.38 91.20v11.05"/><path stroke="#eebab6" d="M173.38 102.10v11.05"/><path stroke="#84ccd6" d="M174.43 25.80v11.05"/><path stroke="#d4ebee" d="M174.43 36.70v11.05"/><path stroke="#e99c96" d="M174.43 47.60v11.05"/><path stroke="#e27a72" d="M174.43 58.50v11.05"/><path stroke="#e06f65" d="M174.43 69.40v11.05"/><path stroke="#edb4af" d="M174.43 80.30v11.05"/><path stroke="#f6e4e3" d="M174.43 91.20v11.05"/><path stroke="#e58a82" d="M174.43 102.10v11.05"/><path stroke="#cde8ec" d="M175.47 25.80v11.05"/><path stroke="#b6dfe5" d="M175.47 36.70v11.05"/><path stroke="#df6960" d="M175.47 47.60v11.05"/><path stroke="#da4e43" d="M175.47 58.50v11.05"/><path stroke="#da4e42" d="M175.47 69.40v11.05"/><path stroke="#eaa29c" d="M175.47 80.30v11.05"/><path stroke="#eba6a1" d="M175.47 91.20v11.05"/><path stroke="#efbcb8" d="M175.47 102.10v11.05"/><path stroke="#c8e6eb" d="M176.52 25.80v11.05"/><path stroke="#e8f3f4" d="M176.52 36.70v11.05"/><path stroke="#e89892" d="M176.52 47.60v11.05"/><path stroke="#de655b" d="M176.52 58.50v11.05"/><path stroke="#e58982" d="M176.52 69.40v11.05"/><path stroke="#e4847c" d="M176.52 80.30v11.05"/><path stroke="#e99f99" d="M176.52 91.20v11.05"/><path stroke="#e37d74" d="M176.52 102.10v11.05"/><path stroke="#a5d9e0" d="M177.56 25.80v11.05"/><path stroke="#f3f7f8" d="M177.56 36.70v11.05"/><path stroke="#db5145" d="M177.56 47.60v11.05"/><path stroke="#e38078" d="M177.56 58.50v11.05"/><path stroke="#e17067" d="M177.56 69.40v11.05"/><path stroke="#e1736a" d="M177.56 80.30v11.05"/><path stroke="#e48179" d="M177.56 91.20v11.05"/><path stroke="#e99e97" d="M177.56 102.10v11.05"/><path stroke="#7fcad4" d="M178.61 25.80v11.05"/><path stroke="#ddeff1" d="M178.61 36.70v11.05"/><path stroke="#e68d85" d="M178.61 47.60v11.05"/><path stroke="#dc584d" d="M178.61 58.50v11.05"/><path stroke="#ecb0ab" d="M178.61 69.40v11.05"/><path stroke="#e7928b" d="M178.61 80.30v11.05"/><path stroke="#ecaca7" d="M178.61 91.20v11.05"/><path stroke="#f5f8f8" d="M178.61 102.10v11.05"/><path stroke="#a8dae1" d="M179.65 25.80v11.05"/><path stroke="#cce8ec" d="M179.65 36.70v11.05"/><path stroke="#e7938c" d="M179.65 47.60v11.05"/><path stroke="#e48078" d="M179.65 58.50v11.05"/><path stroke="#eba9a4" d="M179.65 69.40v11.05"/><path stroke="#e99e97" d="M179.65 80.30v11.05"/><path stroke="#f2cecb" d="M179.65 91.20v11.05"/><path stroke="#f3d6d4" d="M179.65 102.10v11.05"/><path stroke="#a1d7de" d="M180.70 25.80v11.05"/><path stroke="#f0f6f7" d="M180.70 36.70v11.05"/><path stroke="#dd5c51" d="M180.70 47.60v11.05"/><path stroke="#e27a72" d="M180.70 58.50v11.05"/><path stroke="#e58881" d="M180.70 69.40v11.05"/><path stroke="#e5867f" d="M180.70 80.30v11.05"/><path stroke="#eeb7b2" d="M180.70 91.20v11.05"/><path stroke="#e7938c" d="M180.70 102.10v11.05"/><path stroke="#b1dde4" d="M181.74 25.80v11.05"/><path stroke="#cae7eb" d="M181.74 36.70v11.05"/><path stroke="#eba7a1" d="M181.74 47.60v11.05"/><path stroke="#df695f" d="M181.74 58.50v11.05"/><path stroke="#edb1ac" d="M181.74 69.40v11.05"/><path stroke="#e48078" d="M181.74 80.30v11.05"/><path stroke="#ecafaa" d="M181.74 91.20v11.05"/><path stroke="#e99d97" d="M181.74 102.10v11.05"/><path stroke="#c3e4e9" d="M182.79 25.80v11.05"/><path stroke="#f7e9e8" d="M182.79 36.70v11.05"/><path stroke="#e7948d" d="M182.79 47.60v11.05"/><path stroke="#e69088" d="M182.79 58.50v11.05"/><path stroke="#dc554a" d="M182.79 69.40v11.05"/><path stroke="#eba7a2" d="M182.79 80.30v11.05"/><path stroke="#f1cac7" d="M182.79 91.20v11.05"/><path stroke="#f4dbd9" d="M182.79 102.10v11.05"/><path stroke="#bae1e6" d="M183.83 25.80v11.05"/><path stroke="#f0f6f7" d="M183.83 36.70v11.05"/><path stroke="#dc5a4f" d="M183.83 47.60v11.05"/><path stroke="#e4837b" d="M183.83 58.50v11.05"/><path stroke="#e27a72" d="M183.83 69.40v11.05"/><path stroke="#e1746b" d="M183.83 80.30v11.05"/><path stroke="#f1cac7" d="M183.83 91.20v11.05"/><path stroke="#e7968f" d="M183.83 102.10v11.05"/><path stroke="#9cd5dd" d="M184.88 25.80v11.05"/><path stroke="#d4ebee" d="M184.88 36.70v11.05"/><path stroke="#e58780" d="M184.88 47.60v11.05"/><path stroke="#e7958e" d="M184.88 58.50v11.05"/><path stroke="#e06b61" d="M184.88 69.40v11.05"/><path stroke="#efbdb9" d="M184.88 80.30v11.05"/><path stroke="#e68e87" d="M184.88 91.20v11.05"/><path stroke="#e2786f" d="M184.88 102.10v11.05"/><path stroke="#9bd5dd" d="M185.92 25.80v11.05"/><path stroke="#a1d7de" d="M185.92 36.70v11.05"/><path stroke="#e58780" d="M185.92 47.60v11.05"/><path stroke="#eaa59f" d="M185.92 58.50v11.05"/><path stroke="#eba7a2" d="M185.92 69.40v11.05"/><path stroke="#edb2ad" d="M185.92 80.30v11.05"/><path stroke="#edb6b1" d="M185.92 91.20v11.05"/><path stroke="#f4d9d7" d="M185.92 102.10v11.05"/><path stroke="#a3d8df" d="M186.97 25.80v11.05"/><path stroke="#eef5f6" d="M186.97 36.70v11.05"/><path stroke="#e9a09a" d="M186.97 47.60v11.05"/><path stroke="#e38077" d="M186.97 58.50v11.05"/><path stroke="#f0c1be" d="M186.97 69.40v11.05"/><path stroke="#ecada8" d="M186.97 80.30v11.05"/><path stroke="#e37b73" d="M186.97 91.20v11.05"/><path stroke="#eeb9b4" d="M186.97 102.10v11.05"/><path stroke="#afdce3" d="M188.01 25.80v11.05"/><path stroke="#c4e5e9" d="M188.01 36.70v11.05"/><path stroke="#eeb9b5" d="M188.01 47.60v11.05"/><path stroke="#eaa19b" d="M188.01 58.50v11.05"/><path stroke="#e58982" d="M188.01 69.40v11.05"/><path stroke="#eaa59f" d="M188.01 80.30v11.05"/><path stroke="#f0c4c0" d="M188.01 91.20v11.05"/><path stroke="#f7e7e6" d="M188.01 102.10v11.05"/><path stroke="#cce8ec" d="M189.06 25.80v11.05"/><path stroke="#ecf5f6" d="M189.06 36.70v11.05"/><path stroke="#eba8a2" d="M189.06 47.60v11.05"/><path stroke="#efbdb9" d="M189.06 58.50v11.05"/><path stroke="#efc0bc" d="M189.06 69.40v11.05"/><path stroke="#e06b61" d="M189.06 80.30v11.05"/><path stroke="#f5e0de" d="M189.06 91.20v11.05"/><path stroke="#f1cac7" d="M189.06 102.10v11.05"/><path stroke="#b2dee4" d="M190.10 25.80v11.05"/><path stroke="#e7f3f4" d="M190.10 36.70v11.05"/><path stroke="#eaa29c" d="M190.10 47.60v11.05"/><path stroke="#e89690" d="M190.10 58.50v11.05"/><path stroke="#de5f55" d="M190.10 69.40v11.05"/><path stroke="#edb2ae" d="M190.10 80.30v11.05"/><path stroke="#e89891" d="M190.10 91.20v11.05"/><path stroke="#f8eeed" d="M190.10 102.10v11.05"/><path stroke="#b9e1e6" d="M191.15 25.80v11.05"/><path stroke="#f6e6e5" d="M191.15 36.70v11.05"/><path stroke="#eaa29c" d="M191.15 47.60v11.05"/><path stroke="#e2776e" d="M191.15 58.50v11.05"/><path stroke="#e58981" d="M191.15 69.40v11.05"/><path stroke="#eeb8b3" d="M191.15 80.30v11.05"/><path stroke="#eba8a2" d="M191.15 91.20v11.05"/><path stroke="#f4dbd9" d="M191.15 102.10v11.05"/><path stroke="#afdde3" d="M192.19 25.80v11.05"/><path stroke="#96d3db" d="M192.19 36.70v11.05"/><path stroke="#e7928b" d="M192.19 47.60v11.05"/><path stroke="#eaa19b" d="M192.19 58.50v11.05"/><path stroke="#efc1bd" d="M192.19 69.40v11.05"/><path stroke="#edb5b1" d="M192.19 80.30v11.05"/><path stroke="#eba6a0" d="M192.19 91.20v11.05"/><path stroke="#f3d1cf" d="M192.19 102.10v11.05"/><path stroke="#a4d8df" d="M193.24 25.80v11.05"/><path stroke="#d3ebee" d="M193.24 36.70v11.05"/><path stroke="#db5449" d="M193.24 47.60v11.05"/><path stroke="#df6960" d="M193.24 58.50v11.05"/><path stroke="#df685f" d="M193.24 69.40v11.05"/><path stroke="#eba8a2" d="M193.24 80.30v11.05"/><path stroke="#e68c85" d="M193.24 91.20v11.05"/><path stroke="#eaa49f" d="M193.24 102.10v11.05"/><path stroke="#bee2e7" d="M194.28 25.80v11.05"/><path stroke="#f3d6d3" d="M194.28 36.70v11.05"/><path stroke="#e68d85" d="M194.28 47.60v11.05"/><path stroke="#e68f88" d="M194.28 58.50v11.05"/><path stroke="#edb1ac" d="M194.28 69.40v11.05"/><path stroke="#e27a71" d="M194.28 80.30v11.05"/><path stroke="#efc0bc" d="M194.28 91.20v11.05"/><path stroke="#f3d4d2" d="M194.28 102.10v11.05"/><path stroke="#a7d9e0" d="M195.33 25.80v11.05"/><path stroke="#c6e5ea" d="M195.33 36.70v11.05"/><path stroke="#e89791" d="M195.33 47.60v11.05"/><path stroke="#e89a94" d="M195.33 58.50v11.05"/><path stroke="#ecaca7" d="M195.33 69.40v11.05"/><path stroke="#f0c5c2" d="M195.33 80.30v11.05"/><path stroke="#efbcb8" d="M195.33 91.20v11.05"/><path stroke="#f3d5d2" d="M195.33 102.10v11.05"/><path stroke="#c1e4e9" d="M196.37 25.80v11.05"/><path stroke="#f9f2f2" d="M196.37 36.70v11.05"/><path stroke="#edb5b1" d="M196.37 47.60v11.05"/><path stroke="#e68c84" d="M196.37 58.50v11.05"/><path stroke="#eba6a1" d="M196.37 69.40v11.05"/><path stroke="#e58a83" d="M196.37 80.30v11.05"/><path stroke="#f5dedc" d="M196.37 91.20v11.05"/><path stroke="#f2d0ce" d="M196.37 102.10v11.05"/><path stroke="#b1dde3" d="M197.42 25.80v11.05"/><path stroke="#f5e0de" d="M197.42 36.70v11.05"/><path stroke="#e7938c" d="M197.42 47.60v11.05"/><path stroke="#e06f66" d="M197.42 58.50v11.05"/><path stroke="#efbeba" d="M197.42 69.40v11.05"/><path stroke="#f3d5d2" d="M197.42 80.30v11.05"/><path stroke="#e7938c" d="M197.42 91.20v11.05"/><path stroke="#edb1ac" d="M197.42 102.10v11.05"/><path stroke="#c3e4e9" d="M198.46 25.80v11.05"/><path stroke="#f7e8e7" d="M198.46 36.70v11.05"/><path stroke="#e99b95" d="M198.46 47.60v11.05"/><path stroke="#df665c" d="M198.46 58.50v11.05"/><path stroke="#e99c96" d="M198.46 69.40v11.05"/><path stroke="#e48078" d="M198.46 80.30v11.05"/><path stroke="#ebaaa5" d="M198.46 91.20v11.05"/><path stroke="#f9f3f3" d="M198.46 102.10v11.05"/><path stroke="#cfe9ed" d="M199.51 25.80v11.05"/><path stroke="#ecf4f6" d="M199.51 36.70v11.05"/><path stroke="#e99e98" d="M199.51 47.60v11.05"/><path stroke="#e68b84" d="M199.51 58.50v11.05"/><path stroke="#ecafa9" d="M199.51 69.40v11.05"/><path stroke="#efbeba" d="M199.51 80.30v11.05"/><path stroke="#efbfbb" d="M199.51 91.20v11.05"/><path stroke="#f0c6c3" d="M199.51 102.10v11.05"/><path stroke="#cbe8ec" d="M200.55 25.80v11.05"/><path stroke="#edb2ad" d="M200.55 36.70v11.05"/><path stroke="#da4b40" d="M200.55 47.60v11.05"/><path stroke="#d9493d" d="M200.55 58.50v11.05"/><path stroke="#df665c" d="M200.55 69.40v11.05"/><path stroke="#e68b84" d="M200.55 80.30v11.05"/><path stroke="#e99d96" d="M200.55 91.20v11.05"/><path stroke="#ecaea9" d="M200.55 102.10v11.05"/><path stroke="#b8e0e6" d="M201.60 25.80v11.05"/><path stroke="#e3f1f3" d="M201.60 36.70v11.05"/><path stroke="#df6a60" d="M201.60 47.60v11.05"/><path stroke="#e37e76" d="M201.60 58.50v11.05"/><path stroke="#ebaaa4" d="M201.60 69.40v11.05"/><path stroke="#f5dddb" d="M201.60 80.30v11.05"/><path stroke="#efbdb8" d="M201.60 91.20v11.05"/><path stroke="#f2d1ce" d="M201.60 102.10v11.05"/><path stroke="#9cd5dd" d="M202.64 25.80v11.05"/><path stroke="#afdde3" d="M202.64 36.70v11.05"/><path stroke="#e5867e" d="M202.64 47.60v11.05"/><path stroke="#e68f88" d="M202.64 58.50v11.05"/><path stroke="#dd5d52" d="M202.64 69.40v11.05"/><path stroke="#ecaea9" d="M202.64 80.30v11.05"/><path stroke="#f0c3c0" d="M202.64 91.20v11.05"/><path stroke="#e89b95" d="M202.64 102.10v11.05"/><path stroke="#c7e6ea" d="M203.69 25.80v11.05"/><path stroke="#f5f8f8" d="M203.69 36.70v11.05"/><path stroke="#e7928b" d="M203.69 47.60v11.05"/><path stroke="#dd5e54" d="M203.69 58.50v11.05"/><path stroke="#e27a71" d="M203.69 69.40v11.05"/><path stroke="#e17168" d="M203.69 80.30v11.05"/><path stroke="#eebbb7" d="M203.69 91.20v11.05"/><path stroke="#eeb9b4" d="M203.69 102.10v11.05"/><path stroke="#d4ebee" d="M204.73 25.80v11.05"/><path stroke="#cee9ec" d="M204.73 36.70v11.05"/><path stroke="#e4837b" d="M204.73 47.60v11.05"/><path stroke="#e1736a" d="M204.73 58.50v11.05"/><path stroke="#e37b73" d="M204.73 69.40v11.05"/><path stroke="#f0c4c1" d="M204.73 80.30v11.05"/><path stroke="#e99e97" d="M204.73 91.20v11.05"/><path stroke="#f4dcda" d="M204.73 102.10v11.05"/><path stroke="#9dd5dd" d="M205.78 25.80v11.05"/><path stroke="#f3d4d2" d="M205.78 36.70v11.05"/><path stroke="#df6a60" d="M205.78 47.60v11.05"/><path stroke="#e89791" d="M205.78 58.50v11.05"/><path stroke="#edb4b0" d="M205.78 69.40v11.05"/><path stroke="#edb3ae" d="M205.78 80.30v11.05"/><path stroke="#e1746b" d="M205.78 91.20v11.05"/><path stroke="#eaa59f" d="M205.78 102.10v11.05"/></g>
<text x="208.4" y="33.35" font-size="5.6" text-anchor="start" fill="#1a1a1a" stroke="#1a1a1a" font-style="italic">CBX7</text>
<text x="208.4" y="44.25" font-size="5.6" text-anchor="start" fill="#1a1a1a" stroke="#1a1a1a" font-style="italic">CBX6</text>
<text x="208.4" y="55.15" font-size="5.6" text-anchor="start" fill="#1a1a1a" stroke="#1a1a1a" font-style="italic">CBX2</text>
<text x="208.4" y="66.05" font-size="5.6" text-anchor="start" fill="#1a1a1a" stroke="#1a1a1a" font-style="italic">CBX8</text>
<text x="208.4" y="76.95" font-size="5.6" text-anchor="start" fill="#1a1a1a" stroke="#1a1a1a" font-style="italic">CBX3</text>
<text x="208.4" y="87.85" font-size="5.6" text-anchor="start" fill="#1a1a1a" stroke="#1a1a1a" font-style="italic">CBX5</text>
<text x="208.4" y="98.75" font-size="5.6" text-anchor="start" fill="#1a1a1a" stroke="#1a1a1a" font-style="italic">CBX4</text>
<text x="208.4" y="109.65" font-size="5.6" text-anchor="start" fill="#1a1a1a" stroke="#1a1a1a" font-style="italic">CBX1</text>
<text x="232.5" y="31.2" font-size="5.8" text-anchor="start" fill="#1a1a1a" stroke="#1a1a1a">Group</text>
<rect x="232.5" y="36" width="6" height="6" fill="#5bbdcb" stroke="none" stroke-width="0.5"/>
<rect x="232.5" y="42.2" width="6" height="6" fill="#d8493b" stroke="none" stroke-width="0.5"/>
<text x="241" y="41.3" font-size="5.6" text-anchor="start" fill="#1a1a1a" stroke="#1a1a1a">Normal</text>
<text x="241" y="47.5" font-size="5.6" text-anchor="start" fill="#1a1a1a" stroke="#1a1a1a">Tumor</text>
<text x="232" y="59.7" font-size="5.6" text-anchor="start" fill="#1a1a1a" stroke="#1a1a1a">Log2(Value+1)</text>
<rect x="232.5" y="65" width="6" height="41" fill="url(#cbar)" stroke="none" stroke-width="0.5"/>
<line x1="232.5" y1="66.5" x2="234" y2="66.5" stroke="#fff" stroke-width="0.4"/>
<line x1="237" y1="66.5" x2="238.5" y2="66.5" stroke="#fff" stroke-width="0.4"/>
<text x="241" y="68.5" font-size="5.6" text-anchor="start" fill="#1a1a1a" stroke="#1a1a1a">2</text>
<line x1="232.5" y1="75.95" x2="234" y2="75.95" stroke="#fff" stroke-width="0.4"/>
<line x1="237" y1="75.95" x2="238.5" y2="75.95" stroke="#fff" stroke-width="0.4"/>
<text x="241" y="77.95" font-size="5.6" text-anchor="start" fill="#1a1a1a" stroke="#1a1a1a">1</text>
<line x1="232.5" y1="85.4" x2="234" y2="85.4" stroke="#fff" stroke-width="0.4"/>
<line x1="237" y1="85.4" x2="238.5" y2="85.4" stroke="#fff" stroke-width="0.4"/>
<text x="241" y="87.4" font-size="5.6" text-anchor="start" fill="#1a1a1a" stroke="#1a1a1a">0</text>
<line x1="232.5" y1="94.85" x2="234" y2="94.85" stroke="#fff" stroke-width="0.4"/>
<line x1="237" y1="94.85" x2="238.5" y2="94.85" stroke="#fff" stroke-width="0.4"/>
<text x="241" y="96.85" font-size="5.6" text-anchor="start" fill="#1a1a1a" stroke="#1a1a1a">−1</text>
<line x1="232.5" y1="104.3" x2="234" y2="104.3" stroke="#fff" stroke-width="0.4"/>
<line x1="237" y1="104.3" x2="238.5" y2="104.3" stroke="#fff" stroke-width="0.4"/>
<text x="241" y="106.3" font-size="5.6" text-anchor="start" fill="#1a1a1a" stroke="#1a1a1a">−2</text>
<text x="263.4" y="6.7" font-size="9.6" text-anchor="start" fill="#111" stroke="#111">B</text>
<line x1="301" y1="20.8" x2="301" y2="123.3" stroke="#222" stroke-width="0.6"/>
<line x1="300.7" y1="123.4" x2="458.3" y2="123.4" stroke="#222" stroke-width="0.75"/>
<line x1="299.2" y1="120.7" x2="301" y2="120.7" stroke="#222" stroke-width="0.5"/>
<text x="298.4" y="122.9" font-size="6.4" text-anchor="end" fill="#111" stroke="#111">0</text>
<line x1="299.2" y1="100.7" x2="301" y2="100.7" stroke="#222" stroke-width="0.5"/>
<text x="298.4" y="102.9" font-size="6.4" text-anchor="end" fill="#111" stroke="#111">2</text>
<line x1="299.2" y1="80.7" x2="301" y2="80.7" stroke="#222" stroke-width="0.5"/>
<text x="298.4" y="82.9" font-size="6.4" text-anchor="end" fill="#111" stroke="#111">4</text>
<line x1="299.2" y1="60.7" x2="301" y2="60.7" stroke="#222" stroke-width="0.5"/>
<text x="298.4" y="62.9" font-size="6.4" text-anchor="end" fill="#111" stroke="#111">6</text>
<line x1="299.2" y1="40.7" x2="301" y2="40.7" stroke="#222" stroke-width="0.5"/>
<text x="298.4" y="42.9" font-size="6.4" text-anchor="end" fill="#111" stroke="#111">8</text>
<line x1="299.2" y1="20.7" x2="301" y2="20.7" stroke="#222" stroke-width="0.5"/>
<text x="298.4" y="22.9" font-size="6.4" text-anchor="end" fill="#111" stroke="#111">10</text>
<text x="282.1" y="72.7" font-size="6.1" text-anchor="middle" fill="#1a1a1a" stroke="#1a1a1a" transform="rotate(-90 282.1 72.7)" textLength="59" lengthAdjust="spacingAndGlyphs">The expression levels</text>
<text x="289.8" y="71.6" font-size="6.2" text-anchor="middle" fill="#1a1a1a" stroke="#1a1a1a" transform="rotate(-90 289.8 71.6)" textLength="42.8" lengthAdjust="spacingAndGlyphs">Log2(FPKM+1)</text>
<rect x="304.7" y="21.5" width="5.8" height="5.2" fill="#e8646d" stroke="#222" stroke-width="0.45"/>
<rect x="304.7" y="28.5" width="5.8" height="5.4" fill="#7fd5e2" stroke="#222" stroke-width="0.45"/>
<text x="313.8" y="26.6" font-size="6.2" text-anchor="start" fill="#1a1a1a" stroke="#1a1a1a">Normal</text>
<text x="313.8" y="33.4" font-size="6.2" text-anchor="start" fill="#1a1a1a" stroke="#1a1a1a">Tumor</text>
<line x1="308.95" y1="51.7" x2="308.95" y2="120.2" stroke="#000" stroke-width="0.9"/>
<polygon points="310.28,51.70 310.53,52.46 310.80,53.22 311.10,53.98 311.40,54.74 311.71,55.51 312.01,56.27 312.29,57.03 312.55,57.79 312.79,58.55 312.98,59.31 313.02,60.07 312.90,60.83 312.77,61.59 312.62,62.36 312.46,63.12 312.29,63.88 312.11,64.64 311.92,65.40 311.73,66.16 311.53,66.92 311.34,67.68 311.14,68.44 310.95,69.21 310.77,69.97 310.59,70.73 310.43,71.49 310.27,72.25 310.13,73.01 309.99,73.77 309.87,74.53 309.76,75.29 309.66,76.06 309.58,76.82 309.50,77.58 309.43,78.34 309.37,79.10 309.32,79.86 309.27,80.62 309.24,81.38 309.20,82.14 309.17,82.91 308.73,82.91 308.70,82.14 308.66,81.38 308.63,80.62 308.58,79.86 308.53,79.10 308.47,78.34 308.40,77.58 308.32,76.82 308.24,76.06 308.14,75.29 308.03,74.53 307.91,73.77 307.77,73.01 307.63,72.25 307.47,71.49 307.31,70.73 307.13,69.97 306.95,69.21 306.76,68.44 306.56,67.68 306.37,66.92 306.17,66.16 305.98,65.40 305.79,64.64 305.61,63.88 305.44,63.12 305.28,62.36 305.13,61.59 305.00,60.83 304.88,60.07 304.92,59.31 305.11,58.55 305.35,57.79 305.61,57.03 305.89,56.27 306.19,55.51 306.50,54.74 306.80,53.98 307.10,53.22 307.37,52.46 307.62,51.70" fill="#e8646d" stroke="#1a1a1a" stroke-width="0.5" stroke-linejoin="round"/>
<circle cx="308.95" cy="66.7" r="1.35" fill="#fff" stroke="#222" stroke-width="0.35"/>
<line x1="316.65" y1="57.7" x2="316.65" y2="106.7" stroke="#000" stroke-width="0.9"/>
<polygon points="316.85,59.88 316.87,60.42 316.90,60.97 316.93,61.51 316.96,62.06 317.00,62.60 317.05,63.14 317.10,63.69 317.15,64.23 317.22,64.78 317.29,65.32 317.37,65.87 317.45,66.41 317.55,66.96 317.65,67.50 317.77,68.04 317.89,68.59 318.02,69.13 318.16,69.68 318.31,70.22 318.46,70.77 318.62,71.31 318.78,71.86 318.94,72.40 319.11,72.94 319.28,73.49 319.44,74.03 319.60,74.58 319.76,75.12 319.91,75.67 320.05,76.21 320.18,76.76 320.30,77.30 320.41,77.84 320.51,78.39 320.53,78.93 320.45,79.48 320.36,80.02 320.27,80.57 320.17,81.11 320.06,81.66 319.94,82.20 319.82,82.74 319.69,83.29 319.56,83.83 319.42,84.38 319.29,84.92 319.15,85.47 319.01,86.01 318.87,86.56 318.73,87.10 318.60,87.64 318.47,88.19 318.34,88.73 318.21,89.28 318.10,89.82 317.98,90.37 317.87,90.91 317.77,91.46 317.68,92.00 317.59,92.54 317.50,93.09 317.43,93.63 317.36,94.18 317.29,94.72 317.23,95.27 317.18,95.81 317.13,96.36 317.08,96.90 317.04,97.44 317.00,97.99 316.97,98.53 316.94,99.08 316.92,99.62 316.89,100.17 316.87,100.71 316.85,101.26 316.45,101.26 316.43,100.71 316.41,100.17 316.38,99.62 316.36,99.08 316.33,98.53 316.30,97.99 316.26,97.44 316.22,96.90 316.17,96.36 316.12,95.81 316.07,95.27 316.01,94.72 315.94,94.18 315.87,93.63 315.80,93.09 315.71,92.54 315.62,92.00 315.53,91.46 315.43,90.91 315.32,90.37 315.20,89.82 315.09,89.28 314.96,88.73 314.83,88.19 314.70,87.64 314.57,87.10 314.43,86.56 314.29,86.01 314.15,85.47 314.01,84.92 313.88,84.38 313.74,83.83 313.61,83.29 313.48,82.74 313.36,82.20 313.24,81.66 313.13,81.11 313.03,80.57 312.94,80.02 312.85,79.48 312.77,78.93 312.79,78.39 312.89,77.84 313.00,77.30 313.12,76.76 313.25,76.21 313.39,75.67 313.54,75.12 313.70,74.58 313.86,74.03 314.02,73.49 314.19,72.94 314.36,72.40 314.52,71.86 314.68,71.31 314.84,70.77 314.99,70.22 315.14,69.68 315.28,69.13 315.41,68.59 315.53,68.04 315.65,67.50 315.75,66.96 315.85,66.41 315.93,65.87 316.01,65.32 316.08,64.78 316.15,64.23 316.20,63.69 316.25,63.14 316.30,62.60 316.34,62.06 316.37,61.51 316.40,60.97 316.43,60.42 316.45,59.88" fill="#7fd5e2" stroke="#1a1a1a" stroke-width="0.5" stroke-linejoin="round"/>
<circle cx="316.65" cy="81.2" r="1.35" fill="#fff" stroke="#222" stroke-width="0.35"/>
<path d="M308.95 51.1 V49.5 H316.65 V51.1" fill="none" stroke="#222" stroke-width="0.55"/>
<text x="312.8" y="49.6" font-size="4.9" text-anchor="middle" fill="#222" stroke="#222">***</text>
<line x1="312.8" y1="123" x2="312.8" y2="124.8" stroke="#222" stroke-width="0.5"/>
<text x="315" y="132" font-size="6" text-anchor="end" fill="#e2352a" stroke="#e2352a" transform="rotate(-30 315 132)">CBX7</text>
<line x1="328.04" y1="53.7" x2="328.04" y2="120.2" stroke="#000" stroke-width="0.9"/>
<polygon points="328.27,54.44 328.31,55.18 328.37,55.92 328.43,56.66 328.52,57.39 328.61,58.13 328.73,58.87 328.87,59.61 329.03,60.35 329.21,61.09 329.41,61.83 329.63,62.57 329.87,63.31 330.11,64.04 330.36,64.78 330.61,65.52 330.86,66.26 331.09,67.00 331.30,67.74 331.49,68.48 331.66,69.22 331.71,69.96 331.58,70.69 331.43,71.43 331.26,72.17 331.08,72.91 330.89,73.65 330.68,74.39 330.47,75.13 330.25,75.87 330.04,76.61 329.83,77.34 329.63,78.08 329.45,78.82 329.27,79.56 329.11,80.30 328.96,81.04 328.83,81.78 328.72,82.52 328.62,83.26 328.53,83.99 328.46,84.73 328.40,85.47 328.35,86.21 328.30,86.95 328.27,87.69 327.81,87.69 327.78,86.95 327.73,86.21 327.68,85.47 327.62,84.73 327.55,83.99 327.46,83.26 327.36,82.52 327.25,81.78 327.12,81.04 326.97,80.30 326.81,79.56 326.63,78.82 326.45,78.08 326.25,77.34 326.04,76.61 325.83,75.87 325.61,75.13 325.40,74.39 325.19,73.65 325.00,72.91 324.82,72.17 324.65,71.43 324.50,70.69 324.37,69.96 324.42,69.22 324.59,68.48 324.78,67.74 324.99,67.00 325.22,66.26 325.47,65.52 325.72,64.78 325.97,64.04 326.21,63.31 326.45,62.57 326.67,61.83 326.87,61.09 327.05,60.35 327.21,59.61 327.35,58.87 327.47,58.13 327.56,57.39 327.65,56.66 327.71,55.92 327.77,55.18 327.81,54.44" fill="#e8646d" stroke="#1a1a1a" stroke-width="0.5" stroke-linejoin="round"/>
<circle cx="328.04" cy="72.7" r="1.35" fill="#fff" stroke="#222" stroke-width="0.35"/>
<line x1="335.74" y1="48.7" x2="335.74" y2="107.7" stroke="#000" stroke-width="0.9"/>
<polygon points="335.95,63.78 335.99,64.43 336.05,65.09 336.12,65.74 336.20,66.40 336.31,67.06 336.44,67.71 336.59,68.37 336.76,69.02 336.96,69.68 337.19,70.33 337.44,70.99 337.70,71.64 337.98,72.30 338.26,72.96 338.53,73.61 338.79,74.27 339.04,74.92 339.25,75.58 339.44,76.23 339.52,76.89 339.42,77.54 339.30,78.20 339.17,78.86 339.03,79.51 338.88,80.17 338.72,80.82 338.55,81.48 338.38,82.13 338.20,82.79 338.02,83.44 337.85,84.10 337.67,84.76 337.50,85.41 337.34,86.07 337.19,86.72 337.04,87.38 336.90,88.03 336.78,88.69 336.66,89.34 336.55,90.00 336.46,90.66 336.37,91.31 336.30,91.97 336.23,92.62 336.17,93.28 336.12,93.93 336.07,94.59 336.03,95.24 336.00,95.90 335.97,96.56 335.94,97.21 335.54,97.21 335.51,96.56 335.48,95.90 335.45,95.24 335.41,94.59 335.36,93.93 335.31,93.28 335.25,92.62 335.18,91.97 335.11,91.31 335.02,90.66 334.93,90.00 334.82,89.34 334.70,88.69 334.58,88.03 334.44,87.38 334.29,86.72 334.14,86.07 333.98,85.41 333.81,84.76 333.63,84.10 333.46,83.44 333.28,82.79 333.10,82.13 332.93,81.48 332.76,80.82 332.60,80.17 332.45,79.51 332.31,78.86 332.18,78.20 332.06,77.54 331.96,76.89 332.04,76.23 332.23,75.58 332.44,74.92 332.69,74.27 332.95,73.61 333.22,72.96 333.50,72.30 333.78,71.64 334.04,70.99 334.29,70.33 334.52,69.68 334.72,69.02 334.89,68.37 335.04,67.71 335.17,67.06 335.28,66.40 335.36,65.74 335.43,65.09 335.49,64.43 335.53,63.78" fill="#7fd5e2" stroke="#1a1a1a" stroke-width="0.5" stroke-linejoin="round"/>
<circle cx="335.74" cy="77.7" r="1.35" fill="#fff" stroke="#222" stroke-width="0.35"/>
<path d="M328.04 48.9 V47.3 H335.74 V48.9" fill="none" stroke="#222" stroke-width="0.55"/>
<text x="331.89" y="47.4" font-size="4.9" text-anchor="middle" fill="#222" stroke="#222">***</text>
<line x1="331.89" y1="123" x2="331.89" y2="124.8" stroke="#222" stroke-width="0.5"/>
<text x="334.09" y="132" font-size="6" text-anchor="end" fill="#1a1a1a" stroke="#1a1a1a" transform="rotate(-30 334.09 132)">CBX6</text>
<line x1="347.13" y1="100.7" x2="347.13" y2="120.2" stroke="#000" stroke-width="0.9"/>
<polygon points="347.34,101.57 347.36,101.78 347.38,102.00 347.40,102.22 347.42,102.43 347.45,102.65 347.48,102.87 347.51,103.08 347.54,103.30 347.58,103.52 347.62,103.73 347.66,103.95 347.71,104.17 347.76,104.38 347.82,104.60 347.88,104.82 347.94,105.03 348.01,105.25 348.08,105.47 348.16,105.68 348.24,105.90 348.33,106.12 348.42,106.33 348.51,106.55 348.61,106.77 348.72,106.98 348.82,107.20 348.93,107.42 349.04,107.63 349.16,107.85 349.27,108.07 349.39,108.28 349.51,108.50 349.63,108.72 349.74,108.93 349.86,109.15 349.97,109.37 350.08,109.58 350.19,109.80 350.30,110.02 350.40,110.23 350.49,110.45 350.58,110.67 350.67,110.88 350.75,111.10 350.82,111.32 350.89,111.53 350.92,111.75 350.84,111.97 350.75,112.18 350.65,112.40 350.55,112.62 350.43,112.83 350.31,113.05 350.18,113.27 350.05,113.48 349.91,113.70 349.77,113.92 349.63,114.13 349.49,114.35 349.34,114.57 349.20,114.78 349.06,115.00 348.92,115.22 348.79,115.43 348.66,115.65 348.54,115.87 348.42,116.08 348.31,116.30 348.21,116.52 348.11,116.73 348.02,116.95 347.93,117.17 347.86,117.38 347.79,117.60 347.72,117.82 347.66,118.03 347.61,118.25 347.56,118.47 347.52,118.68 347.48,118.90 347.45,119.12 347.42,119.33 347.39,119.55 347.36,119.77 347.34,119.98 346.92,119.98 346.90,119.77 346.87,119.55 346.84,119.33 346.81,119.12 346.78,118.90 346.74,118.68 346.70,118.47 346.65,118.25 346.60,118.03 346.54,117.82 346.47,117.60 346.40,117.38 346.33,117.17 346.24,116.95 346.15,116.73 346.05,116.52 345.95,116.30 345.84,116.08 345.72,115.87 345.60,115.65 345.47,115.43 345.34,115.22 345.20,115.00 345.06,114.78 344.92,114.57 344.77,114.35 344.63,114.13 344.49,113.92 344.35,113.70 344.21,113.48 344.08,113.27 343.95,113.05 343.83,112.83 343.71,112.62 343.61,112.40 343.51,112.18 343.42,111.97 343.34,111.75 343.37,111.53 343.44,111.32 343.51,111.10 343.59,110.88 343.68,110.67 343.77,110.45 343.86,110.23 343.96,110.02 344.07,109.80 344.18,109.58 344.29,109.37 344.40,109.15 344.52,108.93 344.63,108.72 344.75,108.50 344.87,108.28 344.99,108.07 345.10,107.85 345.22,107.63 345.33,107.42 345.44,107.20 345.54,106.98 345.65,106.77 345.75,106.55 345.84,106.33 345.93,106.12 346.02,105.90 346.10,105.68 346.18,105.47 346.25,105.25 346.32,105.03 346.38,104.82 346.44,104.60 346.50,104.38 346.55,104.17 346.60,103.95 346.64,103.73 346.68,103.52 346.72,103.30 346.75,103.08 346.78,102.87 346.81,102.65 346.84,102.43 346.86,102.22 346.88,102.00 346.90,101.78 346.92,101.57" fill="#e8646d" stroke="#1a1a1a" stroke-width="0.5" stroke-linejoin="round"/>
<circle cx="347.13" cy="112.7" r="1.35" fill="#fff" stroke="#222" stroke-width="0.35"/>
<line x1="354.83" y1="71.7" x2="354.83" y2="118.2" stroke="#000" stroke-width="0.9"/>
<polygon points="355.03,83.07 355.06,83.58 355.09,84.10 355.12,84.62 355.16,85.13 355.20,85.65 355.25,86.17 355.31,86.68 355.37,87.20 355.44,87.72 355.52,88.23 355.61,88.75 355.71,89.27 355.82,89.78 355.93,90.30 356.06,90.82 356.19,91.33 356.34,91.85 356.49,92.37 356.64,92.88 356.80,93.40 356.97,93.92 357.13,94.43 357.30,94.95 357.46,95.47 357.63,95.98 357.78,96.50 357.93,97.02 358.07,97.53 358.20,98.05 358.32,98.57 358.43,99.08 358.52,99.60 358.45,100.12 358.34,100.63 358.20,101.15 358.06,101.67 357.90,102.18 357.73,102.70 357.55,103.22 357.37,103.73 357.18,104.25 356.99,104.77 356.81,105.28 356.63,105.80 356.45,106.32 356.29,106.83 356.13,107.35 355.98,107.87 355.85,108.38 355.72,108.90 355.61,109.42 355.51,109.93 355.43,110.45 355.35,110.97 355.28,111.48 355.22,112.00 355.17,112.52 355.13,113.03 355.09,113.55 355.06,114.07 354.60,114.07 354.57,113.55 354.53,113.03 354.49,112.52 354.44,112.00 354.38,111.48 354.31,110.97 354.23,110.45 354.15,109.93 354.05,109.42 353.94,108.90 353.81,108.38 353.68,107.87 353.53,107.35 353.37,106.83 353.21,106.32 353.03,105.80 352.85,105.28 352.67,104.77 352.48,104.25 352.29,103.73 352.11,103.22 351.93,102.70 351.76,102.18 351.60,101.67 351.46,101.15 351.32,100.63 351.21,100.12 351.14,99.60 351.23,99.08 351.34,98.57 351.46,98.05 351.59,97.53 351.73,97.02 351.88,96.50 352.03,95.98 352.20,95.47 352.36,94.95 352.53,94.43 352.69,93.92 352.86,93.40 353.02,92.88 353.17,92.37 353.32,91.85 353.47,91.33 353.60,90.82 353.73,90.30 353.84,89.78 353.95,89.27 354.05,88.75 354.14,88.23 354.22,87.72 354.29,87.20 354.35,86.68 354.41,86.17 354.46,85.65 354.50,85.13 354.54,84.62 354.57,84.10 354.60,83.58 354.63,83.07" fill="#7fd5e2" stroke="#1a1a1a" stroke-width="0.5" stroke-linejoin="round"/>
<circle cx="354.83" cy="99.7" r="1.35" fill="#fff" stroke="#222" stroke-width="0.35"/>
<path d="M347.13 70.9 V69.3 H354.83 V70.9" fill="none" stroke="#222" stroke-width="0.55"/>
<text x="350.98" y="69.4" font-size="4.9" text-anchor="middle" fill="#222" stroke="#222">***</text>
<line x1="350.98" y1="123" x2="350.98" y2="124.8" stroke="#222" stroke-width="0.5"/>
<text x="353.18" y="132" font-size="6" text-anchor="end" fill="#1a1a1a" stroke="#1a1a1a" transform="rotate(-30 353.18 132)">CBX2</text>
<line x1="366.22" y1="93.3" x2="366.22" y2="120.2" stroke="#000" stroke-width="0.9"/>
<polygon points="366.44,101.07 366.47,101.37 366.50,101.67 366.53,101.97 366.57,102.27 366.61,102.57 366.66,102.86 366.72,103.16 366.78,103.46 366.85,103.76 366.93,104.06 367.01,104.36 367.10,104.66 367.20,104.96 367.31,105.26 367.42,105.55 367.54,105.85 367.66,106.15 367.79,106.45 367.93,106.75 368.07,107.05 368.21,107.35 368.35,107.65 368.48,107.95 368.62,108.24 368.76,108.54 368.89,108.84 369.01,109.14 369.12,109.44 369.23,109.74 369.33,110.04 369.42,110.34 369.50,110.64 369.44,110.93 369.33,111.23 369.21,111.53 369.08,111.83 368.93,112.13 368.78,112.43 368.61,112.73 368.44,113.03 368.27,113.33 368.10,113.62 367.93,113.92 367.77,114.22 367.61,114.52 367.46,114.82 367.32,115.12 367.19,115.42 367.07,115.72 366.97,116.02 366.87,116.31 366.78,116.61 366.71,116.91 366.64,117.21 366.59,117.51 366.54,117.81 366.49,118.11 366.46,118.41 366.43,118.71 366.01,118.71 365.98,118.41 365.95,118.11 365.90,117.81 365.85,117.51 365.80,117.21 365.73,116.91 365.66,116.61 365.57,116.31 365.47,116.02 365.37,115.72 365.25,115.42 365.12,115.12 364.98,114.82 364.83,114.52 364.67,114.22 364.51,113.92 364.34,113.62 364.17,113.33 364.00,113.03 363.83,112.73 363.66,112.43 363.51,112.13 363.36,111.83 363.23,111.53 363.11,111.23 363.00,110.93 362.94,110.64 363.02,110.34 363.11,110.04 363.21,109.74 363.32,109.44 363.43,109.14 363.55,108.84 363.68,108.54 363.82,108.24 363.96,107.95 364.09,107.65 364.23,107.35 364.37,107.05 364.51,106.75 364.65,106.45 364.78,106.15 364.90,105.85 365.02,105.55 365.13,105.26 365.24,104.96 365.34,104.66 365.43,104.36 365.51,104.06 365.59,103.76 365.66,103.46 365.72,103.16 365.78,102.86 365.83,102.57 365.87,102.27 365.91,101.97 365.94,101.67 365.97,101.37 366.00,101.07" fill="#e8646d" stroke="#1a1a1a" stroke-width="0.5" stroke-linejoin="round"/>
<circle cx="366.22" cy="110.7" r="1.35" fill="#fff" stroke="#222" stroke-width="0.35"/>
<line x1="373.92" y1="76" x2="373.92" y2="109.8" stroke="#000" stroke-width="0.9"/>
<polygon points="374.12,85.39 374.15,85.76 374.18,86.14 374.21,86.52 374.25,86.89 374.30,87.27 374.36,87.64 374.42,88.02 374.50,88.39 374.58,88.77 374.67,89.14 374.78,89.52 374.90,89.90 375.02,90.27 375.16,90.65 375.32,91.02 375.48,91.40 375.65,91.77 375.83,92.15 376.01,92.52 376.20,92.90 376.40,93.28 376.59,93.65 376.78,94.03 376.96,94.40 377.13,94.78 377.30,95.15 377.45,95.53 377.59,95.90 377.71,96.28 377.82,96.66 377.72,97.03 377.57,97.41 377.40,97.78 377.21,98.16 377.00,98.53 376.79,98.91 376.56,99.28 376.33,99.66 376.10,100.04 375.88,100.41 375.66,100.79 375.45,101.16 375.26,101.54 375.09,101.91 374.93,102.29 374.79,102.66 374.66,103.04 374.55,103.42 374.45,103.79 374.37,104.17 374.31,104.54 374.25,104.92 374.20,105.29 374.16,105.67 374.13,106.04 373.71,106.04 373.68,105.67 373.64,105.29 373.59,104.92 373.53,104.54 373.47,104.17 373.39,103.79 373.29,103.42 373.18,103.04 373.05,102.66 372.91,102.29 372.75,101.91 372.58,101.54 372.39,101.16 372.18,100.79 371.96,100.41 371.74,100.04 371.51,99.66 371.28,99.28 371.05,98.91 370.84,98.53 370.63,98.16 370.44,97.78 370.27,97.41 370.12,97.03 370.02,96.66 370.13,96.28 370.25,95.90 370.39,95.53 370.54,95.15 370.71,94.78 370.88,94.40 371.06,94.03 371.25,93.65 371.44,93.28 371.64,92.90 371.83,92.52 372.01,92.15 372.19,91.77 372.36,91.40 372.52,91.02 372.68,90.65 372.82,90.27 372.94,89.90 373.06,89.52 373.17,89.14 373.26,88.77 373.34,88.39 373.42,88.02 373.48,87.64 373.54,87.27 373.59,86.89 373.63,86.52 373.66,86.14 373.69,85.76 373.72,85.39" fill="#7fd5e2" stroke="#1a1a1a" stroke-width="0.5" stroke-linejoin="round"/>
<circle cx="373.92" cy="96.7" r="1.35" fill="#fff" stroke="#222" stroke-width="0.35"/>
<path d="M366.22 75.3 V73.7 H373.92 V75.3" fill="none" stroke="#222" stroke-width="0.55"/>
<text x="370.07" y="73.8" font-size="4.9" text-anchor="middle" fill="#222" stroke="#222">***</text>
<line x1="370.07" y1="123" x2="370.07" y2="124.8" stroke="#222" stroke-width="0.5"/>
<text x="372.27" y="132" font-size="6" text-anchor="end" fill="#1a1a1a" stroke="#1a1a1a" transform="rotate(-30 372.27 132)">CBX8</text>
<line x1="385.31" y1="55.3" x2="385.31" y2="120.2" stroke="#000" stroke-width="0.9"/>
<polygon points="385.52,55.30 385.57,56.02 385.64,56.74 385.74,57.46 385.87,58.18 386.04,58.91 386.25,59.63 386.50,60.35 386.80,61.07 387.14,61.79 387.51,62.51 387.89,63.23 388.28,63.95 388.64,64.67 388.97,65.40 389.25,66.12 389.40,66.84 389.19,67.56 388.95,68.28 388.67,69.00 388.36,69.72 388.03,70.44 387.70,71.16 387.37,71.89 387.06,72.61 386.78,73.33 386.52,74.05 386.30,74.77 386.11,75.49 385.95,76.21 385.82,76.93 385.72,77.65 385.64,78.38 385.57,79.10 385.53,79.82 385.09,79.82 385.05,79.10 384.98,78.38 384.90,77.65 384.80,76.93 384.67,76.21 384.51,75.49 384.32,74.77 384.10,74.05 383.84,73.33 383.56,72.61 383.25,71.89 382.92,71.16 382.59,70.44 382.26,69.72 381.95,69.00 381.67,68.28 381.43,67.56 381.22,66.84 381.37,66.12 381.65,65.40 381.98,64.67 382.34,63.95 382.73,63.23 383.11,62.51 383.48,61.79 383.82,61.07 384.12,60.35 384.37,59.63 384.58,58.91 384.75,58.18 384.88,57.46 384.98,56.74 385.05,56.02 385.10,55.30" fill="#e8646d" stroke="#1a1a1a" stroke-width="0.5" stroke-linejoin="round"/>
<circle cx="385.31" cy="68.7" r="1.35" fill="#fff" stroke="#222" stroke-width="0.35"/>
<line x1="393.01" y1="30.7" x2="393.01" y2="69.7" stroke="#000" stroke-width="0.9"/>
<polygon points="393.21,45.00 393.25,45.43 393.28,45.87 393.33,46.30 393.39,46.73 393.46,47.17 393.55,47.60 393.65,48.03 393.77,48.47 393.90,48.90 394.06,49.33 394.24,49.77 394.44,50.20 394.66,50.63 394.90,51.07 395.15,51.50 395.42,51.93 395.69,52.37 395.96,52.80 396.23,53.23 396.49,53.67 396.73,54.10 396.96,54.53 397.16,54.97 397.33,55.40 397.39,55.83 397.21,56.27 396.99,56.70 396.75,57.13 396.48,57.57 396.19,58.00 395.90,58.43 395.59,58.87 395.30,59.30 395.01,59.73 394.74,60.17 394.50,60.60 394.27,61.03 394.07,61.47 393.90,61.90 393.75,62.33 393.62,62.77 393.52,63.20 393.43,63.63 393.36,64.07 393.30,64.50 393.25,64.93 393.22,65.37 392.80,65.37 392.77,64.93 392.72,64.50 392.66,64.07 392.59,63.63 392.50,63.20 392.40,62.77 392.27,62.33 392.12,61.90 391.95,61.47 391.75,61.03 391.52,60.60 391.28,60.17 391.01,59.73 390.72,59.30 390.43,58.87 390.12,58.43 389.83,58.00 389.54,57.57 389.27,57.13 389.03,56.70 388.81,56.27 388.63,55.83 388.69,55.40 388.86,54.97 389.06,54.53 389.29,54.10 389.53,53.67 389.79,53.23 390.06,52.80 390.33,52.37 390.60,51.93 390.87,51.50 391.12,51.07 391.36,50.63 391.58,50.20 391.78,49.77 391.96,49.33 392.12,48.90 392.25,48.47 392.37,48.03 392.47,47.60 392.56,47.17 392.63,46.73 392.69,46.30 392.74,45.87 392.77,45.43 392.81,45.00" fill="#7fd5e2" stroke="#1a1a1a" stroke-width="0.5" stroke-linejoin="round"/>
<circle cx="393.01" cy="54.7" r="1.35" fill="#fff" stroke="#222" stroke-width="0.35"/>
<path d="M385.31 28.5 V26.9 H393.01 V28.5" fill="none" stroke="#222" stroke-width="0.55"/>
<text x="389.16" y="27" font-size="4.9" text-anchor="middle" fill="#222" stroke="#222">***</text>
<line x1="389.16" y1="123" x2="389.16" y2="124.8" stroke="#222" stroke-width="0.5"/>
<text x="391.36" y="132" font-size="6" text-anchor="end" fill="#1a1a1a" stroke="#1a1a1a" transform="rotate(-30 391.36 132)">CBX3</text>
<line x1="404.4" y1="63" x2="404.4" y2="120.2" stroke="#000" stroke-width="0.9"/>
<polygon points="404.63,73.17 404.67,73.80 404.74,74.44 404.82,75.08 404.91,75.71 405.04,76.35 405.18,76.98 405.36,77.62 405.57,78.25 405.81,78.89 406.07,79.52 406.36,80.16 406.66,80.80 406.98,81.43 407.29,82.07 407.59,82.70 407.88,83.34 408.13,83.97 408.35,84.61 408.51,85.24 408.34,85.88 408.13,86.52 407.90,87.15 407.64,87.79 407.36,88.42 407.07,89.06 406.78,89.69 406.49,90.33 406.21,90.96 405.96,91.60 405.72,92.24 405.51,92.87 405.32,93.51 405.16,94.14 405.03,94.78 404.91,95.41 404.82,96.05 404.75,96.68 404.69,97.32 404.64,97.96 404.60,98.59 404.20,98.59 404.16,97.96 404.11,97.32 404.05,96.68 403.98,96.05 403.89,95.41 403.77,94.78 403.64,94.14 403.48,93.51 403.29,92.87 403.08,92.24 402.84,91.60 402.59,90.96 402.31,90.33 402.02,89.69 401.73,89.06 401.44,88.42 401.16,87.79 400.90,87.15 400.67,86.52 400.46,85.88 400.29,85.24 400.45,84.61 400.67,83.97 400.92,83.34 401.21,82.70 401.51,82.07 401.82,81.43 402.14,80.80 402.44,80.16 402.73,79.52 402.99,78.89 403.23,78.25 403.44,77.62 403.62,76.98 403.76,76.35 403.89,75.71 403.98,75.08 404.06,74.44 404.13,73.80 404.17,73.17" fill="#e8646d" stroke="#1a1a1a" stroke-width="0.5" stroke-linejoin="round"/>
<circle cx="404.4" cy="85.7" r="1.35" fill="#fff" stroke="#222" stroke-width="0.35"/>
<line x1="412.1" y1="54.7" x2="412.1" y2="91.4" stroke="#000" stroke-width="0.9"/>
<polygon points="412.32,60.82 412.35,61.22 412.39,61.63 412.43,62.04 412.47,62.45 412.53,62.86 412.59,63.26 412.66,63.67 412.74,64.08 412.84,64.49 412.94,64.89 413.06,65.30 413.19,65.71 413.33,66.12 413.48,66.53 413.65,66.93 413.82,67.34 414.01,67.75 414.20,68.16 414.40,68.56 414.60,68.97 414.80,69.38 415.00,69.79 415.20,70.20 415.39,70.60 415.57,71.01 415.73,71.42 415.89,71.83 416.03,72.23 416.15,72.64 416.18,73.05 416.07,73.46 415.95,73.87 415.81,74.27 415.66,74.68 415.50,75.09 415.33,75.50 415.16,75.90 414.97,76.31 414.79,76.72 414.60,77.13 414.41,77.54 414.23,77.94 414.05,78.35 413.87,78.76 413.71,79.17 413.55,79.57 413.40,79.98 413.27,80.39 413.14,80.80 413.02,81.21 412.92,81.61 412.82,82.02 412.74,82.43 412.66,82.84 412.59,83.24 412.54,83.65 412.48,84.06 412.44,84.47 412.40,84.88 412.37,85.28 412.34,85.69 412.31,86.10 411.89,86.10 411.86,85.69 411.83,85.28 411.80,84.88 411.76,84.47 411.72,84.06 411.66,83.65 411.61,83.24 411.54,82.84 411.46,82.43 411.38,82.02 411.28,81.61 411.18,81.21 411.06,80.80 410.93,80.39 410.80,79.98 410.65,79.57 410.49,79.17 410.33,78.76 410.15,78.35 409.97,77.94 409.79,77.54 409.60,77.13 409.41,76.72 409.23,76.31 409.04,75.90 408.87,75.50 408.70,75.09 408.54,74.68 408.39,74.27 408.25,73.87 408.13,73.46 408.02,73.05 408.05,72.64 408.17,72.23 408.31,71.83 408.47,71.42 408.63,71.01 408.81,70.60 409.00,70.20 409.20,69.79 409.40,69.38 409.60,68.97 409.80,68.56 410.00,68.16 410.19,67.75 410.38,67.34 410.55,66.93 410.72,66.53 410.87,66.12 411.01,65.71 411.14,65.30 411.26,64.89 411.36,64.49 411.46,64.08 411.54,63.67 411.61,63.26 411.67,62.86 411.73,62.45 411.77,62.04 411.81,61.63 411.85,61.22 411.88,60.82" fill="#7fd5e2" stroke="#1a1a1a" stroke-width="0.5" stroke-linejoin="round"/>
<circle cx="412.1" cy="73.7" r="1.35" fill="#fff" stroke="#222" stroke-width="0.35"/>
<path d="M404.4 53.8 V52.2 H412.1 V53.8" fill="none" stroke="#222" stroke-width="0.55"/>
<text x="408.25" y="52.3" font-size="4.9" text-anchor="middle" fill="#222" stroke="#222">***</text>
<line x1="408.25" y1="123" x2="408.25" y2="124.8" stroke="#222" stroke-width="0.5"/>
<text x="410.45" y="132" font-size="6" text-anchor="end" fill="#1a1a1a" stroke="#1a1a1a" transform="rotate(-30 410.45 132)">CBX5</text>
<line x1="423.49" y1="55.7" x2="423.49" y2="120.2" stroke="#000" stroke-width="0.9"/>
<polygon points="423.71,76.48 423.77,77.20 423.84,77.92 423.95,78.63 424.09,79.35 424.26,80.07 424.48,80.78 424.74,81.50 425.05,82.22 425.39,82.93 425.76,83.65 426.15,84.37 426.52,85.08 426.88,85.80 427.20,86.52 427.47,87.23 427.55,87.95 427.36,88.67 427.13,89.38 426.87,90.10 426.59,90.82 426.29,91.53 425.98,92.25 425.67,92.97 425.38,93.68 425.10,94.40 424.85,95.12 424.62,95.83 424.43,96.55 424.26,97.27 424.11,97.98 424.00,98.70 423.90,99.42 423.82,100.13 423.76,100.85 423.72,101.57 423.26,101.57 423.22,100.85 423.16,100.13 423.08,99.42 422.98,98.70 422.87,97.98 422.72,97.27 422.55,96.55 422.36,95.83 422.13,95.12 421.88,94.40 421.60,93.68 421.31,92.97 421.00,92.25 420.69,91.53 420.39,90.82 420.11,90.10 419.85,89.38 419.62,88.67 419.43,87.95 419.51,87.23 419.78,86.52 420.10,85.80 420.46,85.08 420.83,84.37 421.22,83.65 421.59,82.93 421.93,82.22 422.24,81.50 422.50,80.78 422.72,80.07 422.89,79.35 423.03,78.63 423.14,77.92 423.21,77.20 423.27,76.48" fill="#e8646d" stroke="#1a1a1a" stroke-width="0.5" stroke-linejoin="round"/>
<circle cx="423.49" cy="88.7" r="1.35" fill="#fff" stroke="#222" stroke-width="0.35"/>
<line x1="431.19" y1="62.7" x2="431.19" y2="102.7" stroke="#000" stroke-width="0.9"/>
<polygon points="431.40,68.48 431.43,68.92 431.46,69.37 431.50,69.81 431.54,70.26 431.59,70.70 431.65,71.14 431.72,71.59 431.80,72.03 431.89,72.48 431.99,72.92 432.11,73.37 432.23,73.81 432.37,74.26 432.52,74.70 432.69,75.14 432.86,75.59 433.05,76.03 433.24,76.48 433.44,76.92 433.64,77.37 433.85,77.81 434.05,78.26 434.25,78.70 434.44,79.14 434.62,79.59 434.80,80.03 434.95,80.48 435.10,80.92 435.23,81.37 435.29,81.81 435.18,82.26 435.07,82.70 434.94,83.14 434.80,83.59 434.65,84.03 434.49,84.48 434.33,84.92 434.16,85.37 433.98,85.81 433.80,86.26 433.62,86.70 433.44,87.14 433.27,87.59 433.10,88.03 432.93,88.48 432.78,88.92 432.63,89.37 432.49,89.81 432.36,90.26 432.24,90.70 432.12,91.14 432.02,91.59 431.93,92.03 431.85,92.48 431.77,92.92 431.71,93.37 431.65,93.81 431.59,94.26 431.55,94.70 431.51,95.14 431.47,95.59 431.44,96.03 431.42,96.48 431.39,96.92 430.99,96.92 430.96,96.48 430.94,96.03 430.91,95.59 430.87,95.14 430.83,94.70 430.79,94.26 430.73,93.81 430.67,93.37 430.61,92.92 430.53,92.48 430.45,92.03 430.36,91.59 430.26,91.14 430.14,90.70 430.02,90.26 429.89,89.81 429.75,89.37 429.60,88.92 429.45,88.48 429.28,88.03 429.11,87.59 428.94,87.14 428.76,86.70 428.58,86.26 428.40,85.81 428.22,85.37 428.05,84.92 427.89,84.48 427.73,84.03 427.58,83.59 427.44,83.14 427.31,82.70 427.20,82.26 427.09,81.81 427.15,81.37 427.28,80.92 427.43,80.48 427.58,80.03 427.76,79.59 427.94,79.14 428.13,78.70 428.33,78.26 428.53,77.81 428.74,77.37 428.94,76.92 429.14,76.48 429.33,76.03 429.52,75.59 429.69,75.14 429.86,74.70 430.01,74.26 430.15,73.81 430.27,73.37 430.39,72.92 430.49,72.48 430.58,72.03 430.66,71.59 430.73,71.14 430.79,70.70 430.84,70.26 430.88,69.81 430.92,69.37 430.95,68.92 430.98,68.48" fill="#7fd5e2" stroke="#1a1a1a" stroke-width="0.5" stroke-linejoin="round"/>
<circle cx="431.19" cy="81.7" r="1.35" fill="#fff" stroke="#222" stroke-width="0.35"/>
<path d="M423.49 56.1 V54.5 H431.19 V56.1" fill="none" stroke="#222" stroke-width="0.55"/>
<text x="427.34" y="54.6" font-size="4.9" text-anchor="middle" fill="#222" stroke="#222">***</text>
<line x1="427.34" y1="123" x2="427.34" y2="124.8" stroke="#222" stroke-width="0.5"/>
<text x="429.54" y="132" font-size="6" text-anchor="end" fill="#1a1a1a" stroke="#1a1a1a" transform="rotate(-30 429.54 132)">CBX4</text>
<line x1="442.58" y1="58.7" x2="442.58" y2="120.2" stroke="#000" stroke-width="0.9"/>
<polygon points="442.96,58.70 443.09,59.38 443.27,60.07 443.50,60.75 443.78,61.43 444.13,62.12 444.52,62.80 444.95,63.48 445.39,64.17 445.82,64.85 446.20,65.53 446.52,66.22 446.65,66.90 446.43,67.58 446.18,68.27 445.89,68.95 445.57,69.63 445.23,70.32 444.89,71.00 444.56,71.68 444.25,72.37 443.97,73.05 443.72,73.73 443.50,74.42 443.32,75.10 443.17,75.78 443.05,76.47 442.95,77.15 442.88,77.83 442.82,78.52 442.34,78.52 442.28,77.83 442.21,77.15 442.11,76.47 441.99,75.78 441.84,75.10 441.66,74.42 441.44,73.73 441.19,73.05 440.91,72.37 440.60,71.68 440.27,71.00 439.93,70.32 439.59,69.63 439.27,68.95 438.98,68.27 438.73,67.58 438.51,66.90 438.64,66.22 438.96,65.53 439.34,64.85 439.77,64.17 440.21,63.48 440.64,62.80 441.03,62.12 441.38,61.43 441.66,60.75 441.89,60.07 442.07,59.38 442.20,58.70" fill="#e8646d" stroke="#1a1a1a" stroke-width="0.5" stroke-linejoin="round"/>
<circle cx="442.58" cy="68.7" r="1.35" fill="#fff" stroke="#222" stroke-width="0.35"/>
<line x1="450.28" y1="47.7" x2="450.28" y2="83.7" stroke="#000" stroke-width="0.9"/>
<polygon points="450.48,50.10 450.52,50.50 450.55,50.90 450.60,51.30 450.65,51.70 450.71,52.10 450.78,52.50 450.87,52.90 450.97,53.30 451.09,53.70 451.22,54.10 451.37,54.50 451.54,54.90 451.73,55.30 451.93,55.70 452.14,56.10 452.37,56.50 452.61,56.90 452.86,57.30 453.10,57.70 453.35,58.10 453.58,58.50 453.81,58.90 454.02,59.30 454.21,59.70 454.39,60.10 454.54,60.50 454.55,60.90 454.42,61.30 454.28,61.70 454.13,62.10 453.96,62.50 453.78,62.90 453.58,63.30 453.38,63.70 453.18,64.10 452.97,64.50 452.76,64.90 452.56,65.30 452.36,65.70 452.16,66.10 451.98,66.50 451.80,66.90 451.64,67.30 451.49,67.70 451.35,68.10 451.22,68.50 451.11,68.90 451.01,69.30 450.92,69.70 450.84,70.10 450.77,70.50 450.71,70.90 450.65,71.30 450.61,71.70 450.57,72.10 450.53,72.50 450.51,72.90 450.48,73.30 450.08,73.30 450.05,72.90 450.03,72.50 449.99,72.10 449.95,71.70 449.91,71.30 449.85,70.90 449.79,70.50 449.72,70.10 449.64,69.70 449.55,69.30 449.45,68.90 449.34,68.50 449.21,68.10 449.07,67.70 448.92,67.30 448.76,66.90 448.58,66.50 448.40,66.10 448.20,65.70 448.00,65.30 447.80,64.90 447.59,64.50 447.38,64.10 447.18,63.70 446.98,63.30 446.78,62.90 446.60,62.50 446.43,62.10 446.28,61.70 446.14,61.30 446.01,60.90 446.02,60.50 446.17,60.10 446.35,59.70 446.54,59.30 446.75,58.90 446.98,58.50 447.21,58.10 447.46,57.70 447.70,57.30 447.95,56.90 448.19,56.50 448.42,56.10 448.63,55.70 448.83,55.30 449.02,54.90 449.19,54.50 449.34,54.10 449.47,53.70 449.59,53.30 449.69,52.90 449.78,52.50 449.85,52.10 449.91,51.70 449.96,51.30 450.01,50.90 450.04,50.50 450.08,50.10" fill="#7fd5e2" stroke="#1a1a1a" stroke-width="0.5" stroke-linejoin="round"/>
<circle cx="450.28" cy="61.7" r="1.35" fill="#fff" stroke="#222" stroke-width="0.35"/>
<path d="M442.58 46.9 V45.3 H450.28 V46.9" fill="none" stroke="#222" stroke-width="0.55"/>
<text x="446.43" y="45.4" font-size="4.9" text-anchor="middle" fill="#222" stroke="#222">***</text>
<line x1="446.43" y1="123" x2="446.43" y2="124.8" stroke="#222" stroke-width="0.5"/>
<text x="448.63" y="132" font-size="6" text-anchor="end" fill="#1a1a1a" stroke="#1a1a1a" transform="rotate(-30 448.63 132)">CBX1</text>
<text x="0.4" y="127.6" font-size="9.6" text-anchor="start" fill="#111" stroke="#111">C</text>
<line x1="18.3" y1="146" x2="18.3" y2="255.9" stroke="#444" stroke-width="0.6"/>
<line x1="18.3" y1="255.7" x2="120.9" y2="255.7" stroke="#444" stroke-width="0.6"/>
<line x1="16.7" y1="253" x2="18.3" y2="253" stroke="#444" stroke-width="0.5"/>
<text x="16.2" y="255.2" font-size="6.3" text-anchor="end" fill="#1a1a1a" stroke="#1a1a1a">7</text>
<line x1="16.7" y1="235.4" x2="18.3" y2="235.4" stroke="#444" stroke-width="0.5"/>
<text x="16.2" y="237.6" font-size="6.3" text-anchor="end" fill="#1a1a1a" stroke="#1a1a1a">8</text>
<line x1="16.7" y1="217.8" x2="18.3" y2="217.8" stroke="#444" stroke-width="0.5"/>
<text x="16.2" y="220" font-size="6.3" text-anchor="end" fill="#1a1a1a" stroke="#1a1a1a">9</text>
<line x1="16.7" y1="200.2" x2="18.3" y2="200.2" stroke="#444" stroke-width="0.5"/>
<text x="16.2" y="202.4" font-size="6.3" text-anchor="end" fill="#1a1a1a" stroke="#1a1a1a">10</text>
<line x1="16.7" y1="182.6" x2="18.3" y2="182.6" stroke="#444" stroke-width="0.5"/>
<text x="16.2" y="184.8" font-size="6.3" text-anchor="end" fill="#1a1a1a" stroke="#1a1a1a">11</text>
<line x1="16.7" y1="165" x2="18.3" y2="165" stroke="#444" stroke-width="0.5"/>
<text x="16.2" y="167.2" font-size="6.3" text-anchor="end" fill="#1a1a1a" stroke="#1a1a1a">12</text>
<line x1="16.7" y1="147.4" x2="18.3" y2="147.4" stroke="#444" stroke-width="0.5"/>
<text x="16.2" y="149.6" font-size="6.3" text-anchor="end" fill="#1a1a1a" stroke="#1a1a1a">13</text>
<text x="71.8" y="138.4" font-size="6.1" text-anchor="middle" fill="#1a1a1a" stroke="#1a1a1a">TCGA</text>
<text x="6.2" y="200.5" font-size="6.2" text-anchor="middle" fill="#1a1a1a" stroke="#1a1a1a" transform="rotate(-90 6.2 200.5)" textLength="89" lengthAdjust="spacingAndGlyphs">CBX7 mRNA Expression(log2)</text>
<line x1="46.4" y1="255.7" x2="46.4" y2="257.3" stroke="#444" stroke-width="0.5"/>
<text x="47.2" y="261.6" font-size="5.9" text-anchor="end" fill="#1a1a1a" stroke="#1a1a1a" transform="rotate(-28 47.2 261.6)">Normal</text>
<line x1="92.8" y1="255.7" x2="92.8" y2="257.3" stroke="#444" stroke-width="0.5"/>
<text x="93.6" y="261.6" font-size="5.9" text-anchor="end" fill="#1a1a1a" stroke="#1a1a1a" transform="rotate(-28 93.6 261.6)">Tumor</text>
<path d="M46.4 155.4 V153.1 H92.8 V155.4" fill="none" stroke="#333" stroke-width="0.55"/>
<text x="70.5" y="151.4" font-size="6" text-anchor="middle" fill="#1a1a1a" stroke="#1a1a1a" textLength="29.3" lengthAdjust="spacingAndGlyphs">p=1.5e−13</text>
<path d="M46.5 163.3h0M46.3 159.6h0M46.6 158.5h0M47.7 158.3h0M46.4 157.4h0" stroke="#3bb8c8" stroke-width="1.2" stroke-linecap="round"/>
<line x1="36.4" y1="159.3" x2="56.4" y2="159.3" stroke="#555" stroke-width="0.6"/>
<line x1="39.9" y1="157.2" x2="52.9" y2="157.2" stroke="#555" stroke-width="0.48"/>
<line x1="39.9" y1="161.4" x2="52.9" y2="161.4" stroke="#555" stroke-width="0.48"/>
<line x1="46.4" y1="157.2" x2="46.4" y2="161.4" stroke="#555" stroke-width="0.4"/>
<path d="M92.9 231.0h0M94.0 231.0h0M91.6 230.9h0M95.5 230.9h0M90.0 231.1h0M96.9 230.9h0M92.6 205.3h0M94.2 205.5h0M91.4 205.4h0M95.5 205.6h0M90.2 205.5h0M92.7 238.3h0M94.2 238.5h0M92.9 233.8h0M94.3 233.9h0M91.6 234.1h0M95.5 233.8h0M93.0 214.5h0M94.3 214.4h0M91.3 214.6h0M95.4 214.4h0M90.0 214.5h0M96.7 214.5h0M92.8 228.0h0M93.6 228.1h0M92.0 228.1h0M94.6 228.1h0M90.9 228.1h0M95.4 228.1h0M90.2 228.0h0M96.5 228.0h0M89.1 227.8h0M97.6 227.9h0M92.7 209.8h0M93.7 210.1h0M91.6 209.8h0M94.9 209.9h0M90.6 210.0h0M95.9 210.0h0M89.8 209.8h0M97.0 210.1h0M88.5 209.8h0M92.8 219.0h0M93.7 218.8h0M91.7 218.9h0M94.9 219.1h0M90.6 219.0h0M96.0 218.9h0M89.9 219.2h0M96.8 219.0h0M88.8 219.0h0M92.8 232.7h0M94.3 232.4h0M91.3 232.4h0M92.8 211.7h0M93.8 211.7h0M92.0 211.6h0M94.5 211.5h0M91.1 211.7h0M95.5 211.5h0M90.1 211.4h0M96.5 211.3h0M89.1 211.5h0M97.2 211.4h0M93.0 208.6h0M94.3 208.6h0M91.6 208.7h0M95.7 208.3h0M92.9 241.4h0M94.2 241.4h0M91.5 241.7h0M95.5 241.4h0M90.1 241.5h0M93.0 196.4h0M94.1 196.6h0M91.3 196.5h0M95.7 196.5h0M90.0 196.5h0M96.9 196.4h0M92.6 212.9h0M93.7 213.0h0M91.7 212.9h0M94.7 213.0h0M90.9 213.0h0M95.9 213.1h0M89.6 213.1h0M96.9 213.0h0M88.8 213.0h0M92.7 223.4h0M94.0 223.5h0M91.4 223.5h0M95.3 223.4h0M92.9 235.4h0M94.2 235.5h0M92.7 229.7h0M94.0 229.6h0M91.3 229.3h0M95.6 229.5h0M90.0 229.5h0M96.7 229.6h0M88.7 229.4h0M93.0 243.1h0M92.7 221.9h0M94.1 222.1h0M91.5 222.1h0M95.6 222.0h0M90.2 222.1h0M97.0 222.0h0M92.9 226.6h0M94.1 226.4h0M91.8 226.3h0M95.2 226.5h0M90.5 226.7h0M96.3 226.5h0M89.5 226.6h0M97.4 226.5h0M92.8 199.5h0M94.2 199.4h0M91.4 199.5h0M95.5 199.4h0M90.2 199.6h0M92.8 217.5h0M93.8 217.4h0M91.5 217.5h0M95.1 217.3h0M90.7 217.4h0M96.4 217.6h0M89.5 217.4h0M97.4 217.7h0M92.6 197.8h0M94.2 198.0h0M91.6 198.1h0M95.5 198.2h0M92.8 207.0h0M94.0 207.0h0M91.6 207.0h0M95.0 207.2h0M90.6 207.0h0M96.1 206.9h0M89.3 207.0h0M97.4 207.2h0M93.0 216.0h0M93.4 216.0h0M92.3 215.9h0M94.1 216.1h0M91.4 215.9h0M95.0 216.1h0M90.8 215.8h0M95.6 216.1h0M90.3 216.2h0M96.2 216.0h0M89.4 215.9h0M96.7 216.0h0M88.7 215.9h0M97.5 216.0h0M92.7 202.7h0M94.2 202.3h0M91.4 202.6h0M95.4 202.6h0M92.6 224.9h0M94.3 225.0h0M91.5 224.9h0M95.5 225.0h0M90.0 225.1h0M96.9 225.2h0M92.8 220.5h0M94.0 220.4h0M91.6 220.3h0M95.3 220.4h0M90.1 220.6h0M92.8 246.1h0M94.0 245.8h0M91.6 245.9h0M92.9 203.9h0M94.0 203.9h0M91.3 204.2h0M92.8 236.9h0M94.1 237.0h0M91.3 237.2h0M92.8 240.2h0M92.8 247.5h0M92.7 194.8h0M94.3 195.1h0M92.7 193.7h0M94.3 193.4h0M91.5 193.7h0M92.8 169.7h0M94.0 169.5h0M92.9 167.9h0M92.7 171.2h0M92.8 172.6h0M92.7 178.4h0M92.7 175.4h0" stroke="#e0604e" stroke-width="1.5" stroke-linecap="round"/>
<line x1="82.4" y1="217.9" x2="103.2" y2="217.9" stroke="#888" stroke-width="1" opacity="0.8"/>
<line x1="85.8" y1="217" x2="99.8" y2="217" stroke="#888" stroke-width="0.8" opacity="0.8"/>
<line x1="85.8" y1="219.2" x2="99.8" y2="219.2" stroke="#888" stroke-width="0.8" opacity="0.8"/>
<line x1="92.8" y1="217" x2="92.8" y2="219.2" stroke="#888" stroke-width="0.4" opacity="0.8"/>
<line x1="138.4" y1="146.1" x2="138.4" y2="255.7" stroke="#444" stroke-width="0.6"/>
<line x1="138.4" y1="255.5" x2="238" y2="255.5" stroke="#444" stroke-width="0.6"/>
<line x1="136.8" y1="236.8" x2="138.4" y2="236.8" stroke="#444" stroke-width="0.5"/>
<text x="136.2" y="236.8" font-size="6.3" text-anchor="middle" fill="#1a1a1a" stroke="#1a1a1a" transform="rotate(-90 136.2 236.8)">2</text>
<line x1="136.8" y1="201.74" x2="138.4" y2="201.74" stroke="#444" stroke-width="0.5"/>
<text x="136.2" y="201.74" font-size="6.3" text-anchor="middle" fill="#1a1a1a" stroke="#1a1a1a" transform="rotate(-90 136.2 201.74)">4</text>
<line x1="136.8" y1="166.68" x2="138.4" y2="166.68" stroke="#444" stroke-width="0.5"/>
<text x="136.2" y="166.68" font-size="6.3" text-anchor="middle" fill="#1a1a1a" stroke="#1a1a1a" transform="rotate(-90 136.2 166.68)">6</text>
<text x="191.6" y="138" font-size="6.1" text-anchor="middle" fill="#1a1a1a" stroke="#1a1a1a">CGGA</text>
<text x="127.3" y="197.9" font-size="6.2" text-anchor="middle" fill="#1a1a1a" stroke="#1a1a1a" transform="rotate(-90 127.3 197.9)" textLength="86" lengthAdjust="spacingAndGlyphs">CBX7 mRNA Expression(log2)</text>
<line x1="166.6" y1="255.5" x2="166.6" y2="257.1" stroke="#444" stroke-width="0.5"/>
<text x="167.4" y="261.4" font-size="5.9" text-anchor="end" fill="#1a1a1a" stroke="#1a1a1a" transform="rotate(-28 167.4 261.4)">Normal</text>
<line x1="213.8" y1="255.5" x2="213.8" y2="257.1" stroke="#444" stroke-width="0.5"/>
<text x="214.6" y="261.4" font-size="5.9" text-anchor="end" fill="#1a1a1a" stroke="#1a1a1a" transform="rotate(-28 214.6 261.4)">Tumor</text>
<path d="M166.6 155.3 V153.3 H213.8 V155.3" fill="none" stroke="#333" stroke-width="0.55"/>
<text x="195" y="151.5" font-size="6" text-anchor="middle" fill="#1a1a1a" stroke="#1a1a1a" textLength="29" lengthAdjust="spacingAndGlyphs">p=1.4e−15</text>
<path d="M166.8 202.7h0M166.6 190.6h0M166.6 186.0h0M166.6 182.2h0M166.4 178.9h0M166.5 175.1h0M166.5 173.9h0M166.5 170.2h0M166.7 164.3h0M166.5 181.3h0M166.4 177.5h0" stroke="#3bb8c8" stroke-width="1.2" stroke-linecap="round"/>
<line x1="156.2" y1="179.2" x2="177" y2="179.2" stroke="#444" stroke-width="0.6"/>
<line x1="159.8" y1="176.4" x2="173.4" y2="176.4" stroke="#444" stroke-width="0.48"/>
<line x1="159.8" y1="181" x2="173.4" y2="181" stroke="#444" stroke-width="0.48"/>
<line x1="166.6" y1="176.4" x2="166.6" y2="181" stroke="#444" stroke-width="0.4"/>
<path d="M213.6 212.6h0M215.1 212.7h0M212.5 212.6h0M216.6 212.9h0M211.2 212.8h0M213.7 210.1h0M214.8 210.0h0M212.7 210.0h0M215.9 210.1h0M212.0 209.9h0M216.7 210.0h0M210.8 209.9h0M217.7 209.8h0M209.7 210.0h0M219.0 210.2h0M208.9 210.2h0M220.0 210.0h0M213.9 219.6h0M214.7 219.8h0M212.9 219.8h0M215.6 219.8h0M212.3 219.7h0M216.1 220.0h0M211.2 219.7h0M217.1 219.8h0M210.4 219.9h0M217.7 219.8h0M209.8 219.8h0M218.6 219.8h0M208.8 219.7h0M219.6 219.8h0M208.0 219.9h0M213.7 236.4h0M215.2 236.5h0M213.8 205.8h0M215.0 205.8h0M212.3 205.8h0M216.5 205.6h0M211.1 205.6h0M217.8 205.9h0M213.8 211.5h0M215.3 211.2h0M212.6 211.5h0M216.3 211.5h0M211.1 211.3h0M218.0 211.4h0M209.9 211.3h0M213.9 221.0h0M215.0 221.1h0M212.3 221.2h0M216.4 221.1h0M211.2 221.2h0M218.0 221.2h0M213.9 226.8h0M214.0 197.5h0M215.0 197.5h0M212.4 197.5h0M216.6 197.5h0M210.9 197.3h0M217.9 197.6h0M209.8 197.2h0M213.8 191.6h0M215.2 191.9h0M212.3 192.0h0M216.6 191.7h0M213.7 222.6h0M215.3 222.6h0M212.3 222.4h0M216.3 222.7h0M211.0 222.6h0M217.7 222.7h0M209.8 222.5h0M219.3 222.6h0M208.5 222.7h0M214.0 214.0h0M215.1 214.1h0M212.5 214.3h0M216.6 214.0h0M211.0 214.3h0M217.9 214.2h0M209.8 214.1h0M219.3 214.2h0M208.6 214.2h0M213.6 216.9h0M215.0 217.2h0M212.5 216.8h0M216.3 216.9h0M211.1 217.0h0M217.8 216.9h0M209.6 217.0h0M219.1 216.8h0M208.5 217.2h0M213.6 223.9h0M215.2 223.9h0M212.4 224.0h0M216.4 224.0h0M211.1 224.2h0M218.0 223.8h0M209.8 224.1h0M219.3 224.1h0M208.5 224.1h0M213.7 200.1h0M215.3 200.3h0M212.6 200.3h0M216.4 200.3h0M213.9 207.2h0M214.7 207.1h0M213.0 207.2h0M215.2 207.1h0M212.1 207.4h0M216.2 207.1h0M211.3 207.1h0M216.9 207.1h0M210.4 207.3h0M217.8 207.2h0M209.8 207.1h0M218.5 207.0h0M208.9 207.1h0M219.5 207.2h0M208.4 207.1h0M214.0 218.4h0M214.7 218.3h0M212.7 218.6h0M215.9 218.5h0M211.6 218.5h0M216.9 218.4h0M210.7 218.3h0M218.1 218.2h0M209.3 218.3h0M219.3 218.3h0M208.3 218.3h0M213.8 229.7h0M215.2 229.5h0M213.9 215.8h0M214.9 215.4h0M212.8 215.8h0M215.9 215.5h0M211.5 215.6h0M217.2 215.7h0M210.7 215.5h0M218.1 215.7h0M209.5 215.6h0M219.3 215.5h0M208.2 215.6h0M213.6 228.3h0M215.1 228.2h0M212.5 228.1h0M216.5 228.0h0M211.3 228.2h0M214.0 201.4h0M215.2 201.7h0M212.4 201.4h0M216.4 201.5h0M211.2 201.4h0M218.0 201.6h0M213.8 203.0h0M215.0 203.1h0M212.6 202.9h0M216.3 202.9h0M211.5 203.1h0M217.5 202.9h0M210.3 203.2h0M218.6 202.9h0M209.0 203.2h0M219.7 202.8h0M213.8 204.5h0M215.1 204.3h0M212.8 204.3h0M216.3 204.2h0M211.2 204.3h0M217.2 204.4h0M210.2 204.3h0M218.8 204.3h0M208.9 204.3h0M219.9 204.6h0M213.7 195.8h0M215.3 195.9h0M212.6 196.0h0M216.6 195.9h0M211.2 196.0h0M217.8 196.2h0M209.6 196.1h0M219.0 196.1h0M213.8 225.5h0M215.0 225.4h0M212.4 225.6h0M216.7 225.5h0M213.7 230.9h0M215.1 231.0h0M213.7 194.5h0M215.3 194.7h0M212.4 194.8h0M213.7 193.2h0M215.0 193.3h0M212.6 193.1h0M213.9 233.9h0M215.1 233.7h0M213.8 232.6h0M215.0 232.5h0M212.5 232.4h0M213.8 186.4h0M213.7 238.2h0M215.1 238.1h0M212.6 237.9h0M216.6 238.2h0M211.0 237.8h0M213.6 208.8h0M215.0 208.8h0M212.3 208.7h0M216.3 208.5h0M211.2 208.4h0M213.7 235.4h0M215.2 235.4h0M212.6 235.0h0M213.7 198.9h0M215.2 198.6h0M213.8 188.9h0M213.8 181.8h0M215.0 182.2h0M213.7 175.2h0M215.0 175.0h0M213.7 166.6h0M215.0 166.7h0M213.7 184.9h0M213.8 173.4h0M213.7 170.8h0M214.0 163.7h0M215.0 164.0h0M214.0 177.9h0M215.1 177.7h0M213.7 253.2h0M215.0 253.4h0M213.8 250.6h0M213.7 244.8h0M213.9 254.9h0M213.8 242.2h0M213.9 248.0h0" stroke="#e0604e" stroke-width="1.5" stroke-linecap="round"/>
<line x1="203.4" y1="212.5" x2="224.2" y2="212.5" stroke="#888" stroke-width="1" opacity="0.8"/>
<line x1="206.8" y1="211.6" x2="220.8" y2="211.6" stroke="#888" stroke-width="0.8" opacity="0.8"/>
<line x1="206.8" y1="213.4" x2="220.8" y2="213.4" stroke="#888" stroke-width="0.8" opacity="0.8"/>
<line x1="213.8" y1="211.6" x2="213.8" y2="213.4" stroke="#888" stroke-width="0.4" opacity="0.8"/>
<text x="249.6" y="157.4" font-size="9.6" text-anchor="start" fill="#111" stroke="#111">D</text>
<line x1="258.4" y1="163.4" x2="258.4" y2="276.2" stroke="#444" stroke-width="0.6"/>
<line x1="258.4" y1="276" x2="358.8" y2="276" stroke="#444" stroke-width="0.6"/>
<line x1="256.8" y1="261.8" x2="258.4" y2="261.8" stroke="#444" stroke-width="0.5"/>
<text x="256.3" y="263.9" font-size="6.1" text-anchor="end" fill="#1a1a1a" stroke="#1a1a1a">8</text>
<line x1="256.8" y1="237.72" x2="258.4" y2="237.72" stroke="#444" stroke-width="0.5"/>
<text x="256.3" y="239.82" font-size="6.1" text-anchor="end" fill="#1a1a1a" stroke="#1a1a1a">10</text>
<line x1="256.8" y1="213.64" x2="258.4" y2="213.64" stroke="#444" stroke-width="0.5"/>
<text x="256.3" y="215.74" font-size="6.1" text-anchor="end" fill="#1a1a1a" stroke="#1a1a1a">12</text>
<line x1="256.8" y1="189.56" x2="258.4" y2="189.56" stroke="#444" stroke-width="0.5"/>
<text x="256.3" y="191.66" font-size="6.1" text-anchor="end" fill="#1a1a1a" stroke="#1a1a1a">14</text>
<line x1="256.8" y1="165.48" x2="258.4" y2="165.48" stroke="#444" stroke-width="0.5"/>
<text x="256.3" y="167.58" font-size="6.1" text-anchor="end" fill="#1a1a1a" stroke="#1a1a1a">16</text>
<text x="313" y="157.8" font-size="6" text-anchor="middle" fill="#1a1a1a" stroke="#1a1a1a">TCGA</text>
<text x="247" y="214.6" font-size="6.2" text-anchor="middle" fill="#1a1a1a" stroke="#1a1a1a" transform="rotate(-90 247 214.6)" textLength="85.2" lengthAdjust="spacingAndGlyphs">CBX7 mRNA Expression(log2)</text>
<line x1="273.5" y1="276" x2="273.5" y2="277.7" stroke="#444" stroke-width="0.5"/>
<text x="274.7" y="281.6" font-size="5.9" text-anchor="end" fill="#1a1a1a" stroke="#1a1a1a" transform="rotate(-30 274.7 281.6)">Non</text>
<line x1="297.8" y1="276" x2="297.8" y2="277.7" stroke="#444" stroke-width="0.5"/>
<text x="299" y="281.6" font-size="5.9" text-anchor="end" fill="#1a1a1a" stroke="#1a1a1a" transform="rotate(-30 299 281.6)">II</text>
<line x1="322.5" y1="276" x2="322.5" y2="277.7" stroke="#444" stroke-width="0.5"/>
<text x="323.7" y="281.6" font-size="5.9" text-anchor="end" fill="#1a1a1a" stroke="#1a1a1a" transform="rotate(-30 323.7 281.6)">III</text>
<line x1="347" y1="276" x2="347" y2="277.7" stroke="#444" stroke-width="0.5"/>
<text x="348.2" y="281.6" font-size="5.9" text-anchor="end" fill="#1a1a1a" stroke="#1a1a1a" transform="rotate(-30 348.2 281.6)">IV</text>
<path d="M273.6 211.3h0M274.7 211.1h0M273.5 210.2h0M274.7 210.0h0M272.2 209.9h0M273.7 208.6h0M274.8 209.0h0M273.4 212.4h0" stroke="#45b9c4" stroke-width="1.3" stroke-linecap="round"/>
<line x1="268.5" y1="210.03" x2="278.5" y2="210.03" stroke="#777" stroke-width="0.6" opacity="0.8"/>
<path d="M297.7 234.1h0M299.4 234.1h0M296.3 233.9h0M300.5 234.0h0M294.8 234.0h0M302.1 234.0h0M293.4 234.1h0M303.5 234.2h0M292.0 233.8h0M305.0 234.0h0M290.5 234.0h0M306.4 233.9h0M297.9 232.4h0M299.3 232.6h0M296.4 232.5h0M300.9 232.5h0M295.1 232.3h0M302.1 232.6h0M297.6 223.6h0M299.1 223.5h0M296.2 223.7h0M300.7 223.6h0M294.9 223.6h0M302.2 223.4h0M293.3 223.6h0M303.5 223.7h0M291.9 223.3h0M304.9 223.6h0M290.7 223.5h0M306.6 223.4h0M298.0 226.6h0M298.6 226.3h0M296.9 226.3h0M299.8 226.4h0M295.8 226.5h0M300.6 226.5h0M294.8 226.7h0M301.5 226.6h0M293.9 226.6h0M302.7 226.5h0M292.9 226.5h0M303.5 226.4h0M292.1 226.3h0M304.4 226.6h0M291.1 226.6h0M305.2 226.6h0M290.1 226.7h0M306.5 226.7h0M289.3 226.4h0M297.7 225.1h0M298.9 225.2h0M296.5 225.0h0M300.2 225.0h0M295.6 224.8h0M301.0 224.9h0M294.6 225.1h0M302.2 225.2h0M293.1 225.0h0M303.6 224.9h0M292.4 225.1h0M304.4 224.9h0M291.0 224.9h0M305.8 224.9h0M290.0 224.9h0M306.6 225.0h0M297.6 220.5h0M299.4 220.5h0M296.3 220.3h0M300.7 220.3h0M295.0 220.4h0M297.8 238.4h0M299.2 238.6h0M296.2 238.4h0M300.9 238.4h0M295.0 238.6h0M302.1 238.4h0M293.3 238.7h0M303.4 238.5h0M292.0 238.3h0M305.0 238.4h0M297.8 229.5h0M298.7 229.4h0M296.8 229.4h0M299.7 229.4h0M295.9 229.5h0M301.0 229.3h0M295.0 229.5h0M301.9 229.5h0M293.9 229.4h0M302.9 229.4h0M292.7 229.3h0M303.8 229.5h0M291.7 229.7h0M304.6 229.5h0M290.7 229.5h0M305.9 229.6h0M289.6 229.4h0M306.8 229.7h0M297.6 231.0h0M299.3 231.1h0M296.3 231.1h0M300.7 231.2h0M294.7 231.2h0M302.1 231.0h0M293.3 230.9h0M303.7 231.1h0M291.9 230.9h0M304.9 230.9h0M297.7 235.4h0M299.2 235.7h0M296.7 235.5h0M300.2 235.6h0M295.6 235.6h0M301.5 235.4h0M294.3 235.6h0M302.7 235.3h0M293.1 235.4h0M303.7 235.7h0M291.9 235.6h0M304.9 235.6h0M290.8 235.7h0M306.3 235.6h0M289.5 235.5h0M297.8 210.1h0M297.9 216.1h0M299.2 216.2h0M296.4 216.2h0M300.5 216.2h0M297.9 227.9h0M299.4 227.9h0M296.2 228.0h0M300.6 228.0h0M295.1 228.1h0M302.2 228.0h0M293.6 228.1h0M303.7 228.2h0M292.1 228.0h0M297.6 222.1h0M299.4 221.9h0M296.4 222.1h0M300.8 221.8h0M294.9 221.8h0M302.0 222.1h0M297.8 249.0h0M299.2 248.9h0M297.7 241.4h0M299.4 241.5h0M296.3 241.3h0M300.6 241.6h0M294.9 241.6h0M297.9 217.3h0M299.3 217.3h0M296.5 217.4h0M300.6 217.7h0M294.8 217.4h0M302.3 217.5h0M298.0 211.5h0M299.2 211.7h0M296.4 211.7h0M297.7 240.1h0M299.1 240.0h0M297.6 236.9h0M299.4 237.0h0M296.5 236.9h0M300.6 236.8h0M294.9 237.1h0M302.2 237.0h0M293.6 237.2h0M303.7 236.8h0M292.0 237.0h0M305.2 236.9h0M297.9 219.1h0M299.2 219.0h0M297.9 247.7h0M297.8 212.9h0M298.0 242.8h0M297.9 214.6h0M297.8 244.5h0M297.9 250.7h0M297.9 205.6h0" stroke="#e0604e" stroke-width="1.56" stroke-linecap="round"/>
<path d="M322.7 226.6h0M323.8 226.3h0M321.2 226.3h0M325.0 226.6h0M320.2 226.4h0M326.0 226.4h0M319.0 226.7h0M327.2 226.3h0M317.6 226.4h0M328.6 226.6h0M316.5 226.3h0M329.5 226.4h0M315.5 226.5h0M331.0 226.7h0M314.3 226.5h0M332.1 226.4h0M322.3 232.5h0M324.0 232.4h0M321.0 232.3h0M325.6 232.6h0M319.8 232.7h0M326.8 232.6h0M318.1 232.6h0M328.4 232.4h0M316.5 232.4h0M329.8 232.5h0M322.3 220.6h0M324.1 220.5h0M320.9 220.7h0M325.4 220.3h0M322.4 219.0h0M324.1 219.0h0M321.1 218.9h0M325.3 219.2h0M319.6 218.8h0M326.9 218.9h0M318.0 219.0h0M328.3 219.1h0M322.6 231.0h0M323.7 231.1h0M321.0 231.0h0M325.2 231.1h0M319.9 230.9h0M326.6 231.1h0M318.4 230.9h0M328.1 231.0h0M316.9 230.9h0M329.5 230.9h0M315.7 231.1h0M330.8 231.1h0M314.5 230.8h0M331.8 231.2h0M322.6 236.8h0M323.2 236.9h0M321.8 236.9h0M324.3 237.2h0M320.8 237.2h0M325.0 236.9h0M319.7 237.1h0M325.8 237.2h0M319.1 236.9h0M326.9 236.9h0M318.2 236.8h0M327.8 237.2h0M317.5 236.8h0M328.7 237.0h0M316.6 237.0h0M329.5 237.0h0M315.7 236.8h0M330.1 237.0h0M314.6 237.0h0M330.9 237.1h0M313.7 237.1h0M332.1 237.0h0M322.3 243.1h0M323.8 243.0h0M320.9 243.2h0M325.4 242.9h0M319.4 243.1h0M327.0 243.1h0M318.0 242.9h0M322.4 240.1h0M323.8 240.0h0M321.2 240.1h0M325.2 239.8h0M319.4 240.1h0M326.9 240.0h0M318.1 240.0h0M328.3 240.1h0M316.9 240.1h0M322.6 234.2h0M324.0 234.1h0M321.0 234.1h0M325.4 234.0h0M319.9 233.9h0M326.7 234.0h0M318.5 233.9h0M327.8 233.9h0M317.0 233.8h0M329.3 234.2h0M315.8 234.2h0M330.7 234.1h0M314.6 234.1h0M331.9 233.9h0M322.5 245.8h0M323.8 246.2h0M321.2 245.9h0M325.5 246.1h0M319.8 246.1h0M326.9 245.8h0M318.3 245.9h0M328.4 245.9h0M316.7 246.2h0M329.6 246.0h0M322.6 223.5h0M324.1 223.5h0M321.2 223.6h0M325.6 223.3h0M319.5 223.4h0M327.0 223.3h0M318.1 223.6h0M328.5 223.4h0M322.5 255.1h0M324.0 255.1h0M321.2 254.9h0M325.3 254.8h0M322.6 238.4h0M323.7 238.7h0M321.3 238.5h0M325.1 238.5h0M320.0 238.4h0M326.1 238.3h0M318.5 238.4h0M327.4 238.3h0M317.4 238.7h0M328.9 238.4h0M316.3 238.4h0M329.9 238.4h0M314.9 238.6h0M331.3 238.6h0M313.5 238.7h0M322.4 241.6h0M323.8 241.6h0M320.9 241.6h0M325.5 241.6h0M319.5 241.3h0M326.7 241.7h0M318.0 241.6h0M328.3 241.6h0M316.6 241.4h0M329.6 241.7h0M315.2 241.6h0M322.5 227.9h0M323.8 227.8h0M321.2 227.9h0M325.6 227.9h0M319.7 227.9h0M327.0 227.9h0M318.1 228.0h0M328.1 227.9h0M316.8 227.9h0M329.7 228.1h0M322.4 224.9h0M323.8 225.0h0M321.0 225.1h0M325.4 225.1h0M319.4 225.1h0M322.6 247.4h0M323.8 247.5h0M320.9 247.5h0M325.5 247.3h0M322.3 252.0h0M323.8 251.9h0M322.5 235.3h0M323.8 235.4h0M321.0 235.7h0M325.4 235.3h0M319.5 235.6h0M326.9 235.6h0M318.3 235.6h0M328.1 235.7h0M316.7 235.4h0M322.4 222.1h0M323.8 221.8h0M321.0 222.2h0M325.4 222.1h0M319.4 222.0h0M326.8 221.9h0M318.2 221.9h0M328.1 222.2h0M322.5 250.4h0M323.8 250.6h0M321.1 250.3h0M322.5 229.6h0M324.0 229.4h0M321.0 229.5h0M325.5 229.4h0M319.7 229.7h0M326.9 229.6h0M318.1 229.7h0M328.2 229.4h0M322.5 216.2h0M323.8 215.9h0M322.3 244.5h0M323.8 244.4h0M321.1 244.5h0M325.6 244.5h0M319.7 244.3h0M327.0 244.4h0M318.1 244.5h0M322.7 213.0h0M322.7 249.0h0M323.8 249.1h0M322.4 253.7h0M323.9 253.4h0M321.2 253.4h0M322.5 203.9h0M322.6 205.3h0" stroke="#3dbf98" stroke-width="1.56" stroke-linecap="round"/>
<path d="M346.9 253.6h0M348.4 253.6h0M345.4 253.6h0M350.0 253.3h0M344.1 253.4h0M351.4 253.6h0M342.8 253.4h0M352.6 253.6h0M347.0 245.9h0M348.3 246.0h0M345.4 246.1h0M349.8 245.9h0M344.1 246.0h0M351.4 245.8h0M342.7 245.9h0M352.7 246.1h0M341.3 246.0h0M354.4 245.9h0M346.9 249.1h0M347.7 248.9h0M346.0 249.1h0M348.8 249.1h0M345.5 249.1h0M349.5 248.9h0M344.6 248.8h0M350.4 248.8h0M343.5 249.0h0M351.1 249.2h0M342.9 249.0h0M351.9 248.8h0M342.0 249.0h0M352.8 249.1h0M341.1 249.1h0M353.6 248.8h0M340.2 249.0h0M354.5 249.1h0M339.3 248.9h0M347.0 250.6h0M348.0 250.4h0M346.0 250.7h0M349.1 250.5h0M345.0 250.5h0M349.9 250.4h0M344.0 250.7h0M350.9 250.4h0M343.2 250.5h0M351.6 250.3h0M342.4 250.6h0M352.6 250.3h0M341.3 250.3h0M353.8 250.3h0M340.3 250.6h0M354.4 250.3h0M339.3 250.4h0M347.0 258.1h0M348.3 257.9h0M345.7 258.0h0M349.8 257.8h0M344.0 258.2h0M351.2 257.9h0M347.1 247.7h0M348.6 247.5h0M345.7 247.5h0M349.8 247.5h0M344.2 247.6h0M351.2 247.4h0M342.8 247.3h0M352.9 247.4h0M341.1 247.4h0M354.2 247.7h0M346.9 244.6h0M348.0 244.4h0M346.0 244.4h0M349.0 244.5h0M345.0 244.6h0M350.2 244.3h0M343.9 244.5h0M351.4 244.7h0M342.7 244.6h0M352.5 244.4h0M341.6 244.4h0M353.3 244.5h0M340.4 244.4h0M354.6 244.5h0M339.6 244.7h0M347.1 242.9h0M348.6 243.1h0M345.7 243.1h0M350.0 243.1h0M344.0 243.1h0M351.3 243.1h0M346.9 262.5h0M346.9 256.6h0M348.3 256.6h0M345.8 256.7h0M349.5 256.7h0M344.4 256.6h0M351.1 256.3h0M343.1 256.5h0M352.3 256.4h0M341.8 256.6h0M353.8 256.4h0M340.3 256.4h0M354.8 256.4h0M346.8 241.6h0M348.3 241.3h0M345.4 241.6h0M349.8 241.5h0M344.1 241.6h0M351.5 241.4h0M347.1 238.7h0M348.4 238.7h0M345.6 238.4h0M350.0 238.5h0M343.9 238.5h0M347.1 264.0h0M348.4 264.0h0M345.7 264.1h0M349.8 263.9h0M346.9 252.2h0M348.5 251.8h0M345.7 251.8h0M349.9 252.0h0M344.2 252.0h0M351.2 252.0h0M342.8 252.1h0M352.7 251.9h0M341.3 252.1h0M354.1 252.2h0M347.2 232.5h0M348.4 232.6h0M345.7 232.4h0M346.9 254.9h0M348.5 254.9h0M345.6 255.0h0M350.0 254.9h0M344.3 255.2h0M351.4 255.1h0M342.5 255.2h0M347.0 231.1h0M348.6 230.9h0M347.2 259.4h0M348.3 259.5h0M345.7 259.7h0M350.1 259.5h0M347.2 261.0h0M348.3 261.1h0M345.7 261.0h0M349.9 260.9h0M344.0 261.0h0M351.4 261.0h0M342.5 260.8h0M346.9 235.6h0M348.5 235.4h0M346.9 240.0h0M348.3 240.0h0M347.2 233.9h0M348.5 234.1h0M347.1 265.6h0M348.5 265.4h0M347.1 237.2h0M346.8 226.7h0M347.0 220.3h0M346.8 267.1h0" stroke="#5a72b3" stroke-width="1.56" stroke-linecap="round"/>
<line x1="292.3" y1="228.09" x2="303.3" y2="228.09" stroke="#222" stroke-width="0.8"/>
<line x1="317" y1="234.11" x2="328" y2="234.11" stroke="#222" stroke-width="0.8"/>
<line x1="341.5" y1="249.76" x2="352.5" y2="249.76" stroke="#222" stroke-width="0.8"/>
<path d="M273.7 199.9 V198.5 H322 V199.9" fill="none" stroke="#555" stroke-width="0.55"/>
<text x="299.9" y="197.1" font-size="6.1" text-anchor="middle" fill="#1a1a1a" stroke="#1a1a1a" textLength="18.4" lengthAdjust="spacingAndGlyphs"><tspan font-style="italic">p</tspan>=0.01</text>
<path d="M273.7 192.3 V190.9 H347.4 V192.3" fill="none" stroke="#555" stroke-width="0.55"/>
<text x="314.8" y="189.5" font-size="6.1" text-anchor="middle" fill="#1a1a1a" stroke="#1a1a1a" textLength="30.4" lengthAdjust="spacingAndGlyphs"><tspan font-style="italic">p</tspan>=3.8e−07</text>
<path d="M297.4 186.1 V184.7 H347.4 V186.1" fill="none" stroke="#555" stroke-width="0.55"/>
<text x="313.8" y="183.3" font-size="6.1" text-anchor="middle" fill="#1a1a1a" stroke="#1a1a1a" textLength="24.5" lengthAdjust="spacingAndGlyphs"><tspan font-style="italic">p</tspan>=1e−07</text>
<path d="M297.4 179 V177.6 H347.4 V179" fill="none" stroke="#555" stroke-width="0.55"/>
<text x="327.1" y="176.2" font-size="6.1" text-anchor="middle" fill="#1a1a1a" stroke="#1a1a1a" textLength="30.2" lengthAdjust="spacingAndGlyphs"><tspan font-style="italic">p</tspan>=4.1e−57</text>
<path d="M322.4 171 V169.6 H347.4 V171" fill="none" stroke="#555" stroke-width="0.55"/>
<text x="339.3" y="168.2" font-size="6.1" text-anchor="middle" fill="#1a1a1a" stroke="#1a1a1a" textLength="29.4" lengthAdjust="spacingAndGlyphs"><tspan font-style="italic">p</tspan>=1.2e−28</text>
<line x1="371.6" y1="161.2" x2="371.6" y2="273.5" stroke="#444" stroke-width="0.6"/>
<line x1="371.6" y1="273.3" x2="470" y2="273.3" stroke="#444" stroke-width="0.6"/>
<line x1="370" y1="247.1" x2="371.6" y2="247.1" stroke="#444" stroke-width="0.5"/>
<text x="369.5" y="249.2" font-size="6.1" text-anchor="end" fill="#1a1a1a" stroke="#1a1a1a">2.5</text>
<line x1="370" y1="220.3" x2="371.6" y2="220.3" stroke="#444" stroke-width="0.5"/>
<text x="369.5" y="222.4" font-size="6.1" text-anchor="end" fill="#1a1a1a" stroke="#1a1a1a">5.0</text>
<line x1="370" y1="193.5" x2="371.6" y2="193.5" stroke="#444" stroke-width="0.5"/>
<text x="369.5" y="195.6" font-size="6.1" text-anchor="end" fill="#1a1a1a" stroke="#1a1a1a">7.5</text>
<line x1="370" y1="166.7" x2="371.6" y2="166.7" stroke="#444" stroke-width="0.5"/>
<text x="369.5" y="168.8" font-size="6.1" text-anchor="end" fill="#1a1a1a" stroke="#1a1a1a">10</text>
<text x="422.3" y="155.2" font-size="6" text-anchor="middle" fill="#1a1a1a" stroke="#1a1a1a">CGGA</text>
<text x="356.6" y="211" font-size="6.2" text-anchor="middle" fill="#1a1a1a" stroke="#1a1a1a" transform="rotate(-90 356.6 211)" textLength="86" lengthAdjust="spacingAndGlyphs">CBX7 mRNA Expression(log2)</text>
<line x1="385.5" y1="273.3" x2="385.5" y2="275" stroke="#444" stroke-width="0.5"/>
<text x="386.7" y="278.9" font-size="5.9" text-anchor="end" fill="#1a1a1a" stroke="#1a1a1a" transform="rotate(-30 386.7 278.9)">Non</text>
<line x1="408.9" y1="273.3" x2="408.9" y2="275" stroke="#444" stroke-width="0.5"/>
<text x="410.1" y="278.9" font-size="5.9" text-anchor="end" fill="#1a1a1a" stroke="#1a1a1a" transform="rotate(-30 410.1 278.9)">II</text>
<line x1="432.9" y1="273.3" x2="432.9" y2="275" stroke="#444" stroke-width="0.5"/>
<text x="434.1" y="278.9" font-size="5.9" text-anchor="end" fill="#1a1a1a" stroke="#1a1a1a" transform="rotate(-30 434.1 278.9)">III</text>
<line x1="456.8" y1="273.3" x2="456.8" y2="275" stroke="#444" stroke-width="0.5"/>
<text x="458" y="278.9" font-size="5.9" text-anchor="end" fill="#1a1a1a" stroke="#1a1a1a" transform="rotate(-30 458 278.9)">IV</text>
<path d="M385.6 231.5h0M385.5 225.7h0M385.7 221.9h0M385.6 220.7h0M385.4 218.3h0M385.5 217.2h0M385.4 215.9h0M386.6 215.8h0M385.4 214.7h0M385.5 213.5h0M385.5 211.2h0M385.7 210.0h0M385.7 208.8h0M385.4 219.6h0" stroke="#45b9c4" stroke-width="1.3" stroke-linecap="round"/>
<line x1="380" y1="217.08" x2="391" y2="217.08" stroke="#555" stroke-width="0.55"/>
<line x1="382" y1="214.94" x2="389" y2="214.94" stroke="#555" stroke-width="0.44"/>
<line x1="382" y1="219.23" x2="389" y2="219.23" stroke="#555" stroke-width="0.44"/>
<line x1="385.5" y1="214.94" x2="385.5" y2="219.23" stroke="#555" stroke-width="0.4"/>
<path d="M408.7 226.4h0M409.9 226.4h0M407.8 226.7h0M410.9 226.6h0M406.8 226.7h0M411.8 226.7h0M405.9 226.7h0M413.0 226.6h0M404.9 226.6h0M413.9 226.3h0M404.1 226.6h0M415.0 226.6h0M402.8 226.5h0M416.0 226.7h0M402.1 226.4h0M417.0 226.5h0M400.9 226.4h0M417.8 226.5h0M408.9 224.9h0M409.8 225.0h0M408.0 225.0h0M410.8 225.2h0M406.8 225.2h0M412.1 224.9h0M405.9 225.2h0M412.9 225.0h0M404.8 224.8h0M413.8 224.8h0M403.8 225.1h0M414.9 225.2h0M403.0 224.9h0M416.1 225.1h0M401.9 225.1h0M417.0 224.9h0M400.9 224.9h0M418.1 224.9h0M409.1 218.8h0M410.2 219.0h0M407.3 219.0h0M411.6 219.1h0M406.1 219.1h0M413.4 219.2h0M404.6 219.1h0M414.5 218.8h0M403.1 219.2h0M408.8 223.5h0M410.2 223.5h0M407.6 223.5h0M411.9 223.3h0M405.9 223.4h0M413.4 223.3h0M404.7 223.4h0M414.9 223.5h0M408.8 222.2h0M409.8 222.1h0M407.8 222.1h0M411.0 221.8h0M407.1 221.9h0M411.6 221.9h0M406.1 222.2h0M412.9 222.2h0M405.2 222.1h0M413.5 222.1h0M404.2 221.9h0M414.7 221.9h0M403.1 221.9h0M415.4 222.0h0M402.4 221.9h0M416.5 222.0h0M401.3 222.0h0M417.4 221.8h0M400.2 222.0h0M408.8 231.1h0M409.7 231.1h0M407.8 230.8h0M410.8 231.0h0M406.9 231.1h0M411.6 231.1h0M406.2 231.0h0M412.7 231.2h0M405.2 230.9h0M413.5 230.8h0M404.1 230.8h0M414.6 231.0h0M403.1 231.0h0M415.7 230.9h0M402.1 230.9h0M416.4 231.2h0M401.4 231.0h0M417.3 230.8h0M400.2 231.1h0M409.0 233.9h0M410.3 233.8h0M407.5 233.9h0M411.5 234.1h0M406.2 234.0h0M412.9 234.1h0M404.7 234.1h0M414.3 234.2h0M403.2 233.9h0M415.8 233.9h0M401.8 234.1h0M417.4 233.9h0M400.5 234.1h0M408.8 235.5h0M410.3 235.5h0M407.5 235.3h0M411.5 235.7h0M406.5 235.3h0M412.8 235.5h0M404.9 235.6h0M414.0 235.6h0M403.7 235.7h0M415.5 235.5h0M402.3 235.5h0M416.5 235.6h0M401.3 235.5h0M418.1 235.3h0M409.0 220.6h0M410.2 220.4h0M407.3 220.5h0M411.9 220.4h0M406.1 220.4h0M413.3 220.4h0M404.7 220.5h0M414.5 220.3h0M403.2 220.6h0M416.2 220.4h0M401.8 220.6h0M408.7 232.5h0M409.9 232.3h0M407.8 232.4h0M410.9 232.7h0M406.9 232.7h0M411.9 232.6h0M406.1 232.7h0M412.7 232.7h0M405.1 232.4h0M413.6 232.5h0M404.1 232.4h0M414.6 232.5h0M403.1 232.4h0M415.5 232.5h0M402.2 232.6h0M416.4 232.5h0M401.2 232.6h0M417.5 232.6h0M400.4 232.4h0M409.1 216.0h0M410.3 215.9h0M408.9 228.1h0M410.2 228.0h0M407.8 227.9h0M411.3 227.9h0M406.4 227.9h0M412.6 228.1h0M405.2 227.9h0M413.8 228.1h0M404.2 228.1h0M415.0 227.9h0M402.7 227.9h0M415.9 228.2h0M401.7 228.1h0M417.5 228.1h0M400.4 227.9h0M408.7 229.6h0M409.9 229.5h0M407.9 229.4h0M410.7 229.6h0M407.3 229.6h0M411.7 229.5h0M406.2 229.4h0M412.7 229.4h0M405.2 229.4h0M413.6 229.6h0M404.3 229.6h0M414.5 229.5h0M403.4 229.6h0M415.1 229.3h0M402.8 229.5h0M416.1 229.5h0M401.6 229.3h0M417.0 229.5h0M400.6 229.4h0M418.0 229.4h0M409.0 240.0h0M410.2 239.8h0M407.5 240.0h0M411.7 239.9h0M406.1 240.2h0M413.1 240.0h0M404.6 239.9h0M414.5 239.9h0M403.2 240.0h0M408.9 238.3h0M410.2 238.4h0M407.4 238.4h0M412.0 238.3h0M406.2 238.4h0M413.4 238.4h0M404.6 238.5h0M408.7 217.6h0M410.5 217.4h0M407.6 217.5h0M412.0 217.3h0M406.0 217.4h0M413.3 217.6h0M404.7 217.5h0M414.7 217.6h0M402.9 217.4h0M416.3 217.5h0M409.1 244.3h0M410.3 244.4h0M408.7 236.8h0M410.2 236.9h0M407.4 237.0h0M411.7 237.1h0M406.0 237.2h0M413.1 237.0h0M408.9 209.9h0M409.0 242.9h0M410.5 242.9h0M408.8 241.5h0M410.4 241.4h0M407.3 241.7h0M408.8 211.3h0M410.4 211.5h0M408.8 214.4h0M410.5 214.4h0M407.4 214.7h0M411.7 214.5h0M408.8 247.6h0M409.0 213.0h0M408.9 251.9h0M410.5 252.0h0M409.0 245.9h0M409.0 256.3h0M410.2 256.7h0M409.0 255.1h0M408.9 249.0h0" stroke="#e0604e" stroke-width="1.56" stroke-linecap="round"/>
<path d="M432.8 231.1h0M434.0 230.9h0M432.0 231.1h0M435.0 230.8h0M430.9 230.9h0M435.9 230.9h0M429.8 231.1h0M436.8 231.1h0M428.8 231.0h0M438.0 230.8h0M428.0 230.8h0M439.1 230.8h0M427.0 230.9h0M439.8 231.0h0M425.9 231.0h0M440.7 231.0h0M424.8 231.2h0M441.9 231.0h0M423.8 231.2h0M432.8 228.1h0M434.0 228.0h0M432.0 227.9h0M434.7 227.8h0M430.9 228.1h0M435.8 228.0h0M430.0 227.9h0M436.8 228.0h0M428.9 228.2h0M438.1 227.9h0M427.9 228.0h0M438.7 228.0h0M427.1 227.9h0M439.9 228.1h0M425.7 228.2h0M440.7 227.9h0M425.0 227.8h0M441.9 227.9h0M423.9 227.8h0M432.8 241.4h0M434.1 241.3h0M431.4 241.5h0M435.5 241.6h0M430.2 241.4h0M436.9 241.6h0M428.6 241.6h0M438.2 241.7h0M427.4 241.5h0M439.8 241.3h0M425.9 241.6h0M441.1 241.6h0M424.7 241.5h0M442.3 241.5h0M432.8 243.0h0M434.3 242.9h0M431.5 242.8h0M435.9 243.0h0M429.9 242.8h0M437.3 243.0h0M428.6 242.9h0M438.7 243.2h0M427.0 243.2h0M440.3 243.2h0M433.1 233.9h0M434.5 234.0h0M431.3 234.2h0M435.9 234.1h0M430.0 233.8h0M437.4 233.9h0M428.5 234.0h0M438.6 234.0h0M427.2 233.8h0M440.2 233.8h0M425.6 234.1h0M441.7 233.8h0M432.8 220.7h0M434.3 220.5h0M431.4 220.6h0M435.9 220.6h0M430.0 220.5h0M432.9 224.9h0M434.5 225.2h0M431.6 225.2h0M435.8 225.1h0M429.9 225.1h0M437.3 225.2h0M428.7 225.2h0M438.6 225.1h0M427.1 224.9h0M432.8 223.6h0M434.5 223.6h0M431.5 223.4h0M435.7 223.5h0M429.9 223.4h0M437.1 223.4h0M428.6 223.4h0M438.8 223.4h0M427.2 223.4h0M432.8 237.0h0M434.2 237.0h0M431.4 236.8h0M435.9 237.0h0M429.8 237.2h0M437.1 236.9h0M428.4 236.8h0M438.8 237.0h0M427.1 236.9h0M440.1 237.2h0M425.6 237.2h0M441.8 236.8h0M433.0 226.3h0M434.4 226.6h0M431.5 226.5h0M435.9 226.4h0M430.0 226.4h0M437.2 226.4h0M428.6 226.5h0M438.8 226.6h0M427.1 226.7h0M440.3 226.5h0M425.6 226.7h0M441.5 226.3h0M432.8 235.6h0M434.5 235.6h0M431.5 235.7h0M435.9 235.5h0M430.0 235.6h0M437.2 235.3h0M428.6 235.6h0M438.6 235.6h0M427.3 235.4h0M440.0 235.5h0M425.6 235.7h0M441.8 235.5h0M424.3 235.6h0M432.8 238.7h0M434.2 238.3h0M431.4 238.3h0M435.8 238.5h0M430.2 238.5h0M437.4 238.6h0M428.6 238.4h0M438.6 238.5h0M427.1 238.6h0M440.2 238.4h0M425.7 238.7h0M441.5 238.4h0M432.7 244.3h0M434.2 244.5h0M431.6 244.6h0M436.0 244.6h0M430.0 244.5h0M437.1 244.5h0M428.5 244.5h0M432.7 232.5h0M434.1 232.5h0M431.6 232.3h0M435.5 232.6h0M430.4 232.3h0M436.7 232.6h0M429.3 232.6h0M437.8 232.7h0M427.9 232.4h0M439.4 232.6h0M426.7 232.4h0M440.5 232.5h0M425.2 232.6h0M441.8 232.4h0M424.1 232.7h0M432.9 255.2h0M432.9 213.2h0M434.2 213.0h0M432.9 229.6h0M434.0 229.5h0M432.0 229.6h0M434.6 229.6h0M431.4 229.3h0M435.4 229.7h0M430.1 229.6h0M436.2 229.6h0M429.6 229.4h0M437.2 229.4h0M428.7 229.5h0M438.1 229.4h0M427.8 229.7h0M439.1 229.7h0M426.8 229.5h0M439.8 229.4h0M426.1 229.4h0M440.7 229.6h0M425.3 229.3h0M441.4 229.5h0M424.4 229.4h0M442.5 229.5h0M432.9 219.2h0M434.2 218.9h0M431.3 218.9h0M435.7 219.1h0M430.0 218.8h0M433.0 216.0h0M434.2 216.1h0M431.6 215.9h0M436.0 216.1h0M429.9 215.8h0M437.4 216.1h0M432.7 250.6h0M433.0 222.1h0M434.5 222.2h0M431.4 222.1h0M436.0 221.9h0M430.1 222.1h0M437.4 222.0h0M432.8 217.4h0M434.4 217.4h0M431.6 217.7h0M432.8 252.1h0M434.4 251.8h0M433.0 247.6h0M434.3 247.3h0M431.4 247.6h0M435.8 247.6h0M429.9 247.3h0M432.8 214.7h0M432.8 245.8h0M434.5 245.8h0M431.5 245.8h0M435.7 246.1h0M430.1 246.0h0M432.9 248.8h0M434.3 248.9h0M433.0 240.1h0M434.5 240.0h0M431.5 239.9h0M435.8 239.9h0M429.9 240.1h0M432.8 260.9h0M434.3 261.1h0M433.0 253.5h0M432.9 264.2h0M433.1 211.5h0M432.9 268.6h0" stroke="#3dbf98" stroke-width="1.56" stroke-linecap="round"/>
<path d="M456.7 240.0h0M457.9 240.1h0M455.4 240.0h0M459.5 239.9h0M454.2 240.1h0M460.6 240.2h0M452.9 240.0h0M462.0 239.9h0M451.9 240.2h0M463.0 240.0h0M450.6 239.8h0M464.5 240.1h0M449.3 240.0h0M465.5 240.2h0M447.8 240.1h0M456.9 232.4h0M458.3 232.5h0M455.5 232.3h0M459.9 232.5h0M454.0 232.5h0M461.3 232.4h0M452.5 232.3h0M462.6 232.3h0M451.1 232.6h0M464.0 232.7h0M449.7 232.7h0M465.3 232.6h0M456.9 231.0h0M458.1 231.2h0M455.3 231.0h0M459.8 230.9h0M453.7 231.2h0M461.1 230.8h0M456.7 238.7h0M458.1 238.4h0M455.5 238.7h0M459.2 238.5h0M454.3 238.5h0M460.5 238.3h0M453.2 238.3h0M461.7 238.3h0M452.2 238.6h0M462.8 238.3h0M450.9 238.5h0M463.9 238.4h0M449.7 238.6h0M465.0 238.7h0M448.5 238.4h0M466.2 238.5h0M456.9 244.5h0M458.4 244.5h0M455.4 244.7h0M459.6 244.3h0M453.8 244.4h0M461.0 244.5h0M452.3 244.7h0M462.6 244.7h0M451.1 244.6h0M456.9 266.9h0M456.9 227.9h0M458.3 228.0h0M455.5 227.9h0M459.6 228.1h0M454.0 228.2h0M461.0 227.9h0M452.3 228.1h0M462.7 228.1h0M451.1 228.0h0M456.8 249.2h0M458.3 249.1h0M455.4 249.0h0M459.8 249.0h0M453.8 249.0h0M461.1 249.0h0M452.5 248.9h0M462.6 249.0h0M450.9 249.2h0M463.9 248.8h0M449.6 249.0h0M465.5 249.0h0M456.7 256.4h0M458.1 256.6h0M457.0 242.9h0M458.1 242.9h0M455.4 243.2h0M459.5 242.9h0M454.2 243.1h0M460.7 243.0h0M453.0 242.9h0M462.0 243.1h0M451.9 242.8h0M463.2 243.2h0M450.6 243.0h0M464.3 242.8h0M449.3 242.8h0M465.8 243.1h0M447.9 243.2h0M457.0 235.5h0M457.6 235.5h0M455.8 235.4h0M458.9 235.6h0M454.7 235.4h0M459.6 235.5h0M453.9 235.5h0M460.7 235.4h0M453.1 235.4h0M461.7 235.7h0M452.0 235.5h0M462.3 235.5h0M451.1 235.6h0M463.4 235.3h0M450.0 235.5h0M464.3 235.4h0M449.2 235.7h0M465.4 235.4h0M448.3 235.4h0M466.4 235.4h0M456.7 250.5h0M458.4 250.4h0M455.2 250.4h0M459.6 250.4h0M453.9 250.6h0M461.1 250.5h0M452.4 250.6h0M462.8 250.5h0M457.0 251.9h0M458.4 252.0h0M455.4 252.0h0M459.6 251.9h0M454.1 251.9h0M461.2 252.0h0M452.5 251.9h0M462.5 251.9h0M451.1 252.0h0M456.6 226.6h0M458.2 226.3h0M455.3 226.4h0M459.8 226.5h0M456.7 245.9h0M458.2 245.9h0M455.3 246.1h0M459.8 246.1h0M454.1 246.1h0M461.0 245.8h0M456.7 241.4h0M458.1 241.6h0M455.6 241.5h0M459.2 241.7h0M454.4 241.4h0M460.4 241.7h0M452.9 241.6h0M461.7 241.6h0M451.7 241.7h0M463.1 241.3h0M450.3 241.6h0M464.6 241.6h0M449.3 241.4h0M465.6 241.3h0M448.1 241.3h0M456.8 229.4h0M458.1 229.5h0M455.5 229.4h0M459.6 229.6h0M454.0 229.5h0M461.0 229.6h0M452.3 229.4h0M456.7 261.0h0M456.8 222.0h0M458.3 222.2h0M455.3 221.8h0M456.9 263.8h0M458.2 263.9h0M456.8 225.1h0M458.1 224.9h0M455.5 225.1h0M459.5 225.1h0M454.0 225.0h0M461.0 225.1h0M452.4 224.9h0M456.7 223.5h0M458.1 223.5h0M455.4 223.5h0M459.7 223.6h0M453.7 223.4h0M461.3 223.6h0M457.0 255.1h0M458.3 255.1h0M455.4 254.8h0M459.6 254.8h0M454.1 254.9h0M461.1 255.0h0M456.6 265.6h0M458.4 265.6h0M455.5 265.4h0M456.7 220.6h0M458.3 220.4h0M455.3 220.4h0M456.9 237.0h0M458.2 236.9h0M455.5 237.0h0M459.4 237.2h0M454.2 237.1h0M460.6 237.1h0M453.1 237.0h0M461.8 236.9h0M451.9 237.1h0M463.1 236.8h0M450.3 237.2h0M464.2 237.1h0M449.2 237.0h0M465.7 237.0h0M448.0 236.8h0M457.0 247.3h0M458.1 247.6h0M455.4 247.6h0M459.8 247.7h0M453.7 247.3h0M461.0 247.6h0M452.3 247.5h0M462.7 247.4h0M451.0 247.7h0M464.1 247.5h0M456.8 217.4h0M458.4 217.6h0M456.9 259.4h0M458.3 259.5h0M456.9 233.9h0M458.4 234.1h0M455.3 234.0h0M459.8 234.0h0M454.1 233.8h0M461.3 234.1h0M456.8 253.6h0M458.1 253.4h0M455.4 253.6h0M459.6 253.7h0M454.0 253.3h0M461.0 253.3h0M456.8 215.9h0M458.2 216.0h0M456.6 258.2h0M458.4 258.0h0M455.3 257.9h0M456.8 218.9h0M457.0 211.7h0M456.9 213.1h0M456.6 268.3h0M458.2 268.4h0M456.8 207.2h0M456.9 262.7h0" stroke="#5a72b3" stroke-width="1.56" stroke-linecap="round"/>
<line x1="403.4" y1="228.88" x2="414.4" y2="228.88" stroke="#222" stroke-width="0.8"/>
<line x1="427.4" y1="233.16" x2="438.4" y2="233.16" stroke="#222" stroke-width="0.8"/>
<line x1="451.3" y1="239.6" x2="462.3" y2="239.6" stroke="#222" stroke-width="0.8"/>
<path d="M385.3 203.4 V202 H409.3 V203.4" fill="none" stroke="#555" stroke-width="0.55"/>
<text x="401.75" y="200.6" font-size="5.9" text-anchor="middle" fill="#1a1a1a" stroke="#1a1a1a" textLength="29.1" lengthAdjust="spacingAndGlyphs"><tspan font-style="italic">p</tspan>=0.00074</text>
<path d="M385.3 195 V193.6 H432 V195" fill="none" stroke="#555" stroke-width="0.55"/>
<text x="411.15" y="192.2" font-size="5.9" text-anchor="middle" fill="#1a1a1a" stroke="#1a1a1a" textLength="22.7" lengthAdjust="spacingAndGlyphs"><tspan font-style="italic">p</tspan>=4e−08</text>
<path d="M385.3 189.4 V188 H456.6 V189.4" fill="none" stroke="#555" stroke-width="0.55"/>
<text x="425.65" y="186.6" font-size="5.9" text-anchor="middle" fill="#1a1a1a" stroke="#1a1a1a" textLength="28.9" lengthAdjust="spacingAndGlyphs"><tspan font-style="italic">p</tspan>=3.2e−15</text>
<path d="M409.3 182.6 V181.2 H456.6 V182.6" fill="none" stroke="#555" stroke-width="0.55"/>
<text x="425.15" y="179.8" font-size="5.9" text-anchor="middle" fill="#1a1a1a" stroke="#1a1a1a" textLength="29.9" lengthAdjust="spacingAndGlyphs"><tspan font-style="italic">p</tspan>=1.6e−07</text>
<path d="M409.3 175.6 V174.2 H456.6 V175.6" fill="none" stroke="#555" stroke-width="0.55"/>
<text x="437.15" y="172.8" font-size="5.9" text-anchor="middle" fill="#1a1a1a" stroke="#1a1a1a" textLength="29.3" lengthAdjust="spacingAndGlyphs"><tspan font-style="italic">p</tspan>=3.5e−35</text>
<path d="M432 169 V167.6 H456.6 V169" fill="none" stroke="#555" stroke-width="0.55"/>
<text x="449" y="166.2" font-size="5.9" text-anchor="middle" fill="#1a1a1a" stroke="#1a1a1a" textLength="28.4" lengthAdjust="spacingAndGlyphs"><tspan font-style="italic">p</tspan>=1.6e−11</text>
<text x="0.4" y="279.8" font-size="9.6" text-anchor="start" fill="#111" stroke="#111">E</text>
<line x1="38.8" y1="303" x2="38.8" y2="378" stroke="#555" stroke-width="0.6"/>
<line x1="38.8" y1="377.8" x2="237" y2="377.8" stroke="#555" stroke-width="0.6"/>
<line x1="37.2" y1="374.4" x2="38.8" y2="374.4" stroke="#555" stroke-width="0.5"/>
<text x="36.8" y="376.5" font-size="6.1" text-anchor="end" fill="#1a1a1a" stroke="#1a1a1a">0.00</text>
<line x1="37.2" y1="357.6" x2="38.8" y2="357.6" stroke="#555" stroke-width="0.5"/>
<text x="36.8" y="359.7" font-size="6.1" text-anchor="end" fill="#1a1a1a" stroke="#1a1a1a">0.25</text>
<line x1="37.2" y1="340.8" x2="38.8" y2="340.8" stroke="#555" stroke-width="0.5"/>
<text x="36.8" y="342.9" font-size="6.1" text-anchor="end" fill="#1a1a1a" stroke="#1a1a1a">0.50</text>
<line x1="37.2" y1="324" x2="38.8" y2="324" stroke="#555" stroke-width="0.5"/>
<text x="36.8" y="326.1" font-size="6.1" text-anchor="end" fill="#1a1a1a" stroke="#1a1a1a">0.75</text>
<line x1="37.2" y1="307.2" x2="38.8" y2="307.2" stroke="#555" stroke-width="0.5"/>
<text x="36.8" y="309.3" font-size="6.1" text-anchor="end" fill="#1a1a1a" stroke="#1a1a1a">1.00</text>
<line x1="48" y1="377.8" x2="48" y2="379.5" stroke="#555" stroke-width="0.5"/>
<text x="48" y="386" font-size="6.1" text-anchor="middle" fill="#1a1a1a" stroke="#1a1a1a">0</text>
<line x1="57.04" y1="377.8" x2="57.04" y2="379.5" stroke="#555" stroke-width="0.5"/>
<text x="57.04" y="386" font-size="6.1" text-anchor="middle" fill="#1a1a1a" stroke="#1a1a1a">1</text>
<line x1="66.08" y1="377.8" x2="66.08" y2="379.5" stroke="#555" stroke-width="0.5"/>
<text x="66.08" y="386" font-size="6.1" text-anchor="middle" fill="#1a1a1a" stroke="#1a1a1a">2</text>
<line x1="75.12" y1="377.8" x2="75.12" y2="379.5" stroke="#555" stroke-width="0.5"/>
<text x="75.12" y="386" font-size="6.1" text-anchor="middle" fill="#1a1a1a" stroke="#1a1a1a">3</text>
<line x1="84.16" y1="377.8" x2="84.16" y2="379.5" stroke="#555" stroke-width="0.5"/>
<text x="84.16" y="386" font-size="6.1" text-anchor="middle" fill="#1a1a1a" stroke="#1a1a1a">4</text>
<line x1="93.2" y1="377.8" x2="93.2" y2="379.5" stroke="#555" stroke-width="0.5"/>
<text x="93.2" y="386" font-size="6.1" text-anchor="middle" fill="#1a1a1a" stroke="#1a1a1a">5</text>
<line x1="102.24" y1="377.8" x2="102.24" y2="379.5" stroke="#555" stroke-width="0.5"/>
<text x="102.24" y="386" font-size="6.1" text-anchor="middle" fill="#1a1a1a" stroke="#1a1a1a">6</text>
<line x1="111.28" y1="377.8" x2="111.28" y2="379.5" stroke="#555" stroke-width="0.5"/>
<text x="111.28" y="386" font-size="6.1" text-anchor="middle" fill="#1a1a1a" stroke="#1a1a1a">7</text>
<line x1="120.32" y1="377.8" x2="120.32" y2="379.5" stroke="#555" stroke-width="0.5"/>
<text x="120.32" y="386" font-size="6.1" text-anchor="middle" fill="#1a1a1a" stroke="#1a1a1a">8</text>
<line x1="129.36" y1="377.8" x2="129.36" y2="379.5" stroke="#555" stroke-width="0.5"/>
<text x="129.36" y="386" font-size="6.1" text-anchor="middle" fill="#1a1a1a" stroke="#1a1a1a">9</text>
<line x1="138.4" y1="377.8" x2="138.4" y2="379.5" stroke="#555" stroke-width="0.5"/>
<text x="138.4" y="386" font-size="6.1" text-anchor="middle" fill="#1a1a1a" stroke="#1a1a1a">10</text>
<line x1="147.44" y1="377.8" x2="147.44" y2="379.5" stroke="#555" stroke-width="0.5"/>
<text x="147.44" y="386" font-size="6.1" text-anchor="middle" fill="#1a1a1a" stroke="#1a1a1a">11</text>
<line x1="156.48" y1="377.8" x2="156.48" y2="379.5" stroke="#555" stroke-width="0.5"/>
<text x="156.48" y="386" font-size="6.1" text-anchor="middle" fill="#1a1a1a" stroke="#1a1a1a">12</text>
<line x1="165.52" y1="377.8" x2="165.52" y2="379.5" stroke="#555" stroke-width="0.5"/>
<text x="165.52" y="386" font-size="6.1" text-anchor="middle" fill="#1a1a1a" stroke="#1a1a1a">13</text>
<line x1="174.56" y1="377.8" x2="174.56" y2="379.5" stroke="#555" stroke-width="0.5"/>
<text x="174.56" y="386" font-size="6.1" text-anchor="middle" fill="#1a1a1a" stroke="#1a1a1a">14</text>
<line x1="183.6" y1="377.8" x2="183.6" y2="379.5" stroke="#555" stroke-width="0.5"/>
<text x="183.6" y="386" font-size="6.1" text-anchor="middle" fill="#1a1a1a" stroke="#1a1a1a">15</text>
<line x1="192.64" y1="377.8" x2="192.64" y2="379.5" stroke="#555" stroke-width="0.5"/>
<text x="192.64" y="386" font-size="6.1" text-anchor="middle" fill="#1a1a1a" stroke="#1a1a1a">16</text>
<line x1="201.68" y1="377.8" x2="201.68" y2="379.5" stroke="#555" stroke-width="0.5"/>
<text x="201.68" y="386" font-size="6.1" text-anchor="middle" fill="#1a1a1a" stroke="#1a1a1a">17</text>
<line x1="210.72" y1="377.8" x2="210.72" y2="379.5" stroke="#555" stroke-width="0.5"/>
<text x="210.72" y="386" font-size="6.1" text-anchor="middle" fill="#1a1a1a" stroke="#1a1a1a">18</text>
<line x1="219.76" y1="377.8" x2="219.76" y2="379.5" stroke="#555" stroke-width="0.5"/>
<text x="219.76" y="386" font-size="6.1" text-anchor="middle" fill="#1a1a1a" stroke="#1a1a1a">19</text>
<line x1="228.8" y1="377.8" x2="228.8" y2="379.5" stroke="#555" stroke-width="0.5"/>
<text x="228.8" y="386" font-size="6.1" text-anchor="middle" fill="#1a1a1a" stroke="#1a1a1a">20</text>
<text x="136.2" y="395.5" font-size="5.9" text-anchor="middle" fill="#1a1a1a" stroke="#1a1a1a" textLength="39.4" lengthAdjust="spacingAndGlyphs">Time(months)</text>
<text x="125" y="291.4" font-size="6" text-anchor="middle" fill="#1a1a1a" stroke="#1a1a1a">CGGA</text>
<path d="M48.0 307.2 50.1 307.2 50.1 307.2 52.2 307.2 52.2 307.6 54.4 307.6 54.4 308.8 56.5 308.8 56.5 309.7 58.6 309.7 58.6 310.6 60.7 310.6 60.7 311.5 62.8 311.5 62.8 312.9 65.0 312.9 65.0 314.3 67.1 314.3 67.1 315.7 69.2 315.7 69.2 317.2 71.3 317.2 71.3 318.3 73.5 318.3 73.5 319.1 75.6 319.1 75.6 319.9 77.7 319.9 77.7 320.9 79.8 320.9 79.8 322.2 81.9 322.2 81.9 323.5 84.1 323.5 84.1 324.8 86.2 324.8 86.2 326.1 88.3 326.1 88.3 327.3 90.4 327.3 90.4 328.1 92.5 328.1 92.5 329.0 94.7 329.0 94.7 329.8 96.8 329.8 96.8 330.6 98.9 330.6 98.9 331.2 101.0 331.2 101.0 331.6 103.2 331.6 103.2 332.0 105.3 332.0 105.3 332.4 107.4 332.4 107.4 332.8 109.5 332.8 109.5 333.3 111.6 333.3 111.6 333.7 113.8 333.7 113.8 334.2 115.9 334.2 115.9 334.7 118.0 334.7 118.0 335.2 120.1 335.2 120.1 336.1 122.2 336.1 122.2 337.8 124.4 337.8 124.4 338.8 126.5 338.8 126.5 339.3 128.6 339.3 128.6 339.9 130.7 339.9 130.7 340.4 132.9 340.4 132.9 340.9 135.0 340.9 135.0 341.4 137.1 341.4 137.1 341.8 139.2 341.8 139.2 342.5 141.3 342.5 141.3 343.3 143.5 343.3 143.5 344.1 145.6 344.1 145.6 344.9 147.7 344.9 147.7 345.7 149.8 345.7 149.8 346.8 151.9 346.8 151.9 348.0 154.1 348.0 154.1 349.7 156.2 349.7 156.2 351.4 158.3 351.4 158.3 353.0 160.4 353.0 160.4 354.6 162.6 354.6 162.6 353.1 164.7 353.1 164.7 353.3 166.8 353.3 166.8 353.3 168.9 353.3 168.9 353.3 171.0 353.3 171.0 353.3 173.2 353.3 173.2 353.3 175.3 353.3 175.3 353.3 177.4 353.3 177.4 353.3 179.5 353.3 179.5 353.3 181.6 353.3 181.6 353.3 183.8 353.3 183.8 353.3 185.9 353.3 185.9 353.3 188.0 353.3 188.0 353.3 190.1 353.3 190.1 353.3 192.3 353.3 192.3 353.3 194.4 353.3 194.4 353.3 196.5 353.3 196.5 353.3 198.6 353.3 198.6 353.3 200.7 353.3 200.7 353.3 202.9 353.3 202.9 353.3 205.0 353.3 205.0 353.3 207.1 353.3 207.1 353.3 207.1 353.3L207.1 374.4 207.1 374.4 207.1 374.4 205.0 374.4 205.0 374.4 202.9 374.4 202.9 374.4 200.7 374.4 200.7 374.4 198.6 374.4 198.6 374.4 196.5 374.4 196.5 374.4 194.4 374.4 194.4 374.4 192.3 374.4 192.3 374.4 190.1 374.4 190.1 374.4 188.0 374.4 188.0 374.4 185.9 374.4 185.9 374.4 183.8 374.4 183.8 374.4 181.6 374.4 181.6 374.4 179.5 374.4 179.5 374.4 177.4 374.4 177.4 374.4 175.3 374.4 175.3 374.4 173.2 374.4 173.2 374.4 171.0 374.4 171.0 374.4 168.9 374.4 168.9 374.4 166.8 374.4 166.8 374.4 164.7 374.4 164.7 374.4 162.6 374.4 162.6 374.4 160.4 374.4 160.4 372.8 158.3 372.8 158.3 370.9 156.2 370.9 156.2 368.8 154.1 368.8 154.1 366.8 151.9 366.8 151.9 365.4 149.8 365.4 149.8 364.0 147.7 364.0 147.7 362.8 145.6 362.8 145.6 361.7 143.5 361.7 143.5 360.6 141.3 360.6 141.3 359.5 139.2 359.5 139.2 358.6 137.1 358.6 137.1 357.8 135.0 357.8 135.0 357.0 132.9 357.0 132.9 356.2 130.7 356.2 130.7 355.4 128.6 355.4 128.6 354.6 126.5 354.6 126.5 353.8 124.4 353.8 124.4 352.5 122.2 352.5 122.2 350.4 120.1 350.4 120.1 349.2 118.0 349.2 118.0 348.5 115.9 348.5 115.9 347.7 113.8 347.7 113.8 346.9 111.6 346.9 111.6 346.1 109.5 346.1 109.5 345.4 107.4 345.4 107.4 344.7 105.3 344.7 105.3 344.0 103.2 344.0 103.2 343.3 101.0 343.3 101.0 342.6 98.9 342.6 98.9 341.7 96.8 341.7 96.8 340.6 94.7 340.6 94.7 339.5 92.5 339.5 92.5 338.3 90.4 338.3 90.4 337.2 88.3 337.2 88.3 335.7 86.2 335.7 86.2 334.1 84.1 334.1 84.1 332.5 81.9 332.5 81.9 330.9 79.8 330.9 79.8 329.3 77.7 329.3 77.7 328.0 75.6 328.0 75.6 326.9 73.5 326.9 73.5 325.8 71.3 325.8 71.3 324.4 69.2 324.4 69.2 322.7 67.1 322.7 67.1 320.9 65.0 320.9 65.0 319.2 62.8 319.2 62.8 317.6 60.7 317.6 60.7 316.4 58.6 316.4 58.6 315.1 56.5 315.1 56.5 313.9 54.4 313.9 54.4 312.4 52.2 312.4 52.2 310.9 50.1 310.9 50.1 309.4 48.0 309.4Z" fill="#d4787a" opacity="0.6"/>
<path d="M48.0 307.2 49.6 307.2 49.6 307.2 51.1 307.2 51.1 310.3 52.7 310.3 52.7 315.1 54.2 315.1 54.2 319.7 55.8 319.7 55.8 324.3 57.3 324.3 57.3 328.9 58.9 328.9 58.9 334.8 60.5 334.8 60.5 342.9 62.0 342.9 62.0 346.9 63.6 346.9 63.6 347.9 65.1 347.9 65.1 348.9 66.7 348.9 66.7 349.3 68.2 349.3 68.2 350.3 69.8 350.3 69.8 351.3 71.4 351.3 71.4 352.2 72.9 352.2 72.9 353.2 74.5 353.2 74.5 354.2 76.0 354.2 76.0 355.2 77.6 355.2 77.6 356.1 79.2 356.1 79.2 357.1 80.7 357.1 80.7 358.1 82.3 358.1 82.3 359.1 83.8 359.1 83.8 360.1 85.4 360.1 85.4 360.9 86.9 360.9 86.9 361.6 88.5 361.6 88.5 362.3 90.1 362.3 90.1 363.0 91.6 363.0 91.6 363.7 93.2 363.7 93.2 364.4 94.7 364.4 94.7 364.5 96.3 364.5 96.3 364.6 97.8 364.6 97.8 364.6 99.4 364.6 99.4 364.7 101.0 364.7 101.0 364.7 102.5 364.7 102.5 364.8 104.1 364.8 104.1 364.8 105.6 364.8 105.6 364.9 107.2 364.9 107.2 364.9 108.7 364.9 108.7 365.0 110.3 365.0 110.3 365.1 111.9 365.1 111.9 365.9 113.4 365.9 113.4 366.7 115.0 366.7 115.0 367.0 116.5 367.0 116.5 367.0 118.1 367.0 118.1 367.0 119.7 367.0 119.7 367.1 121.2 367.1 121.2 367.1 122.8 367.1 122.8 367.1 124.3 367.1 124.3 367.1 125.9 367.1 125.9 367.1 127.4 367.1 127.4 367.1 129.0 367.1 129.0 367.2 130.6 367.2 130.6 367.2 132.1 367.2 132.1 367.2 133.7 367.2 133.7 367.2 135.2 367.2 135.2 367.2 136.8 367.2 136.8 367.2 138.3 367.2 138.3 367.3 139.9 367.3 139.9 367.3 141.5 367.3 141.5 367.3 143.0 367.3 143.0 367.3 144.6 367.3 144.6 367.3 146.1 367.3 146.1 367.3 147.7 367.3 147.7 367.7 149.2 367.7 149.2 370.0 149.2 370.0L149.2 374.4 149.2 374.4 149.2 374.1 147.7 374.1 147.7 373.7 146.1 373.7 146.1 373.7 144.6 373.7 144.6 373.6 143.0 373.6 143.0 373.6 141.5 373.6 141.5 373.6 139.9 373.6 139.9 373.6 138.3 373.6 138.3 373.6 136.8 373.6 136.8 373.6 135.2 373.6 135.2 373.6 133.7 373.6 133.7 373.5 132.1 373.5 132.1 373.5 130.6 373.5 130.6 373.5 129.0 373.5 129.0 373.5 127.4 373.5 127.4 373.5 125.9 373.5 125.9 373.5 124.3 373.5 124.3 373.4 122.8 373.4 122.8 373.4 121.2 373.4 121.2 373.4 119.7 373.4 119.7 373.4 118.1 373.4 118.1 373.4 116.5 373.4 116.5 373.4 115.0 373.4 115.0 373.1 113.4 373.1 113.4 372.2 111.9 372.2 111.9 371.4 110.3 371.4 110.3 371.4 108.7 371.4 108.7 371.3 107.2 371.3 107.2 371.2 105.6 371.2 105.6 371.2 104.1 371.2 104.1 371.1 102.5 371.1 102.5 371.1 101.0 371.1 101.0 371.0 99.4 371.0 99.4 371.0 97.8 371.0 97.8 370.9 96.3 370.9 96.3 370.9 94.7 370.9 94.7 370.8 93.2 370.8 93.2 370.1 91.6 370.1 91.6 369.4 90.1 369.4 90.1 368.6 88.5 368.6 88.5 367.9 86.9 367.9 86.9 367.2 85.4 367.2 85.4 366.4 83.8 366.4 83.8 365.4 82.3 365.4 82.3 364.5 80.7 364.5 80.7 363.5 79.2 363.5 79.2 362.5 77.6 362.5 77.6 361.5 76.0 361.5 76.0 360.5 74.5 360.5 74.5 359.6 72.9 359.6 72.9 358.6 71.4 358.6 71.4 357.6 69.8 357.6 69.8 356.7 68.2 356.7 68.2 355.7 66.7 355.7 66.7 353.9 65.1 353.9 65.1 352.8 63.6 352.8 63.6 351.8 62.0 351.8 62.0 347.8 60.5 347.8 60.5 339.8 58.9 339.8 58.9 333.8 57.3 333.8 57.3 329.2 55.8 329.2 55.8 324.7 54.2 324.7 54.2 320.0 52.7 320.0 52.7 315.2 51.1 315.2 51.1 311.9 49.6 311.9 49.6 309.8 48.0 309.8Z" fill="#80b4e4" opacity="0.62"/>
<path d="M48.0 307.2H50.1V308.6H52.2V309.9H54.4V311.2H56.5V312.3H58.6V313.4H60.7V314.4H62.8V315.9H65.0V317.5H67.1V319.0H69.2V320.6H71.3V321.8H73.5V322.8H75.6V323.7H77.7V324.9H79.8V326.3H81.9V327.8H84.1V329.2H86.2V330.7H88.3V332.0H90.4V333.0H92.5V334.0H94.7V334.9H96.8V335.9H98.9V336.6H101.0V337.2H103.2V337.7H105.3V338.3H107.4V338.8H109.5V339.4H111.6V340.0H113.8V340.6H115.9V341.3H118.0V341.9H120.1V342.9H122.2V344.8H124.4V345.9H126.5V346.6H128.6V347.3H130.7V347.9H132.9V348.6H135.0V349.2H137.1V349.8H139.2V350.6H141.3V351.5H143.5V352.5H145.6V353.4H147.7V354.4H149.8V355.7H151.9V356.9H154.1V358.8H156.2V360.7H158.3V362.4H160.4V364.2H162.6V365.9H164.7V366.1H166.8V366.1H168.9V366.1H171.0V366.1H173.2V366.1H175.3V366.1H177.4V366.1H179.5V366.1H181.6V366.1H183.8V366.1H185.9V366.1H188.0V366.1H190.1V366.1H192.3V366.1H194.4V366.1H196.5V366.1H198.6V366.1H200.7V366.1H202.9V366.1H205.0V366.1H207.1V366.1" fill="none" stroke="#c62d2d" stroke-width="1"/>
<path d="M48.0 307.2H49.6V309.3H51.1V312.6H52.7V317.4H54.2V322.1H55.8V326.7H57.3V331.3H58.9V337.2H60.5V345.2H62.0V349.2H63.6V350.2H65.1V351.3H66.7V352.3H68.2V353.3H69.8V354.3H71.4V355.3H72.9V356.2H74.5V357.2H76.0V358.2H77.6V359.2H79.2V360.1H80.7V361.1H82.3V362.1H83.8V363.1H85.4V363.9H86.9V364.6H88.5V365.3H90.1V366.0H91.6V366.7H93.2V367.5H94.7V367.5H96.3V367.6H97.8V367.6H99.4V367.7H101.0V367.8H102.5V367.8H104.1V367.9H105.6V367.9H107.2V368.0H108.7V368.0H110.3V368.1H111.9V368.9H113.4V369.7H115.0V370.0H116.5V370.1H118.1V370.1H119.7V370.1H121.2V370.1H122.8V370.1H124.3V370.1H125.9V370.2H127.4V370.2H129.0V370.2H130.6V370.2H132.1V370.2H133.7V370.2H135.2V370.2H136.8V370.3H138.3V370.3H139.9V370.3H141.5V370.3H143.0V370.3H144.6V370.3H146.1V370.4H147.7V370.7H149.2V373.1" fill="none" stroke="#3775c5" stroke-width="1"/>
<text x="41" y="365.3" font-size="6.3" text-anchor="start" fill="#1a1a1a" stroke="#1a1a1a" textLength="22.8" lengthAdjust="spacingAndGlyphs">p&lt;0.001</text>
<text x="102.1" y="309.2" font-size="6.2" text-anchor="start" fill="#1a1a1a" stroke="#1a1a1a" textLength="16.4" lengthAdjust="spacingAndGlyphs">CBX7</text>
<rect x="120.3" y="303.4" width="6.3" height="7.2" fill="#e9a6a6" stroke="none" stroke-width="0.5"/>
<line x1="120.3" y1="307" x2="126.6" y2="307" stroke="#c62d2d" stroke-width="0.9"/>
<text x="128.5" y="309.2" font-size="6.3" text-anchor="start" fill="#1a1a1a" stroke="#1a1a1a" textLength="13.3" lengthAdjust="spacingAndGlyphs">High</text>
<rect x="142.8" y="303.4" width="6.6" height="7.2" fill="#b3d2ee" stroke="none" stroke-width="0.5"/>
<line x1="142.8" y1="307" x2="149.4" y2="307" stroke="#3775c5" stroke-width="0.9"/>
<text x="151.6" y="309.2" font-size="6.3" text-anchor="start" fill="#1a1a1a" stroke="#1a1a1a" textLength="11.8" lengthAdjust="spacingAndGlyphs">Low</text>
<text x="246" y="303.9" font-size="9.6" text-anchor="start" fill="#111" stroke="#111">F</text>
<line x1="275.8" y1="316" x2="275.8" y2="391.5" stroke="#555" stroke-width="0.6"/>
<line x1="275.8" y1="391.3" x2="474.5" y2="391.3" stroke="#555" stroke-width="0.6"/>
<line x1="274.2" y1="388.3" x2="275.8" y2="388.3" stroke="#555" stroke-width="0.5"/>
<text x="273.8" y="390.4" font-size="6.1" text-anchor="end" fill="#1a1a1a" stroke="#1a1a1a">0.00</text>
<line x1="274.2" y1="371.43" x2="275.8" y2="371.43" stroke="#555" stroke-width="0.5"/>
<text x="273.8" y="373.53" font-size="6.1" text-anchor="end" fill="#1a1a1a" stroke="#1a1a1a">0.25</text>
<line x1="274.2" y1="354.55" x2="275.8" y2="354.55" stroke="#555" stroke-width="0.5"/>
<text x="273.8" y="356.65" font-size="6.1" text-anchor="end" fill="#1a1a1a" stroke="#1a1a1a">0.50</text>
<line x1="274.2" y1="337.68" x2="275.8" y2="337.68" stroke="#555" stroke-width="0.5"/>
<text x="273.8" y="339.78" font-size="6.1" text-anchor="end" fill="#1a1a1a" stroke="#1a1a1a">0.75</text>
<line x1="274.2" y1="320.8" x2="275.8" y2="320.8" stroke="#555" stroke-width="0.5"/>
<text x="273.8" y="322.9" font-size="6.1" text-anchor="end" fill="#1a1a1a" stroke="#1a1a1a">1.00</text>
<line x1="284.6" y1="391.3" x2="284.6" y2="393" stroke="#555" stroke-width="0.5"/>
<text x="284.6" y="399.6" font-size="6.1" text-anchor="middle" fill="#1a1a1a" stroke="#1a1a1a">0</text>
<line x1="299.65" y1="391.3" x2="299.65" y2="393" stroke="#555" stroke-width="0.5"/>
<text x="299.65" y="399.6" font-size="6.1" text-anchor="middle" fill="#1a1a1a" stroke="#1a1a1a">1</text>
<line x1="314.7" y1="391.3" x2="314.7" y2="393" stroke="#555" stroke-width="0.5"/>
<text x="314.7" y="399.6" font-size="6.1" text-anchor="middle" fill="#1a1a1a" stroke="#1a1a1a">2</text>
<line x1="329.75" y1="391.3" x2="329.75" y2="393" stroke="#555" stroke-width="0.5"/>
<text x="329.75" y="399.6" font-size="6.1" text-anchor="middle" fill="#1a1a1a" stroke="#1a1a1a">3</text>
<line x1="344.8" y1="391.3" x2="344.8" y2="393" stroke="#555" stroke-width="0.5"/>
<text x="344.8" y="399.6" font-size="6.1" text-anchor="middle" fill="#1a1a1a" stroke="#1a1a1a">4</text>
<line x1="359.85" y1="391.3" x2="359.85" y2="393" stroke="#555" stroke-width="0.5"/>
<text x="359.85" y="399.6" font-size="6.1" text-anchor="middle" fill="#1a1a1a" stroke="#1a1a1a">5</text>
<line x1="374.9" y1="391.3" x2="374.9" y2="393" stroke="#555" stroke-width="0.5"/>
<text x="374.9" y="399.6" font-size="6.1" text-anchor="middle" fill="#1a1a1a" stroke="#1a1a1a">6</text>
<line x1="389.95" y1="391.3" x2="389.95" y2="393" stroke="#555" stroke-width="0.5"/>
<text x="389.95" y="399.6" font-size="6.1" text-anchor="middle" fill="#1a1a1a" stroke="#1a1a1a">7</text>
<line x1="405" y1="391.3" x2="405" y2="393" stroke="#555" stroke-width="0.5"/>
<text x="405" y="399.6" font-size="6.1" text-anchor="middle" fill="#1a1a1a" stroke="#1a1a1a">8</text>
<line x1="420.05" y1="391.3" x2="420.05" y2="393" stroke="#555" stroke-width="0.5"/>
<text x="420.05" y="399.6" font-size="6.1" text-anchor="middle" fill="#1a1a1a" stroke="#1a1a1a">9</text>
<line x1="435.1" y1="391.3" x2="435.1" y2="393" stroke="#555" stroke-width="0.5"/>
<text x="435.1" y="399.6" font-size="6.1" text-anchor="middle" fill="#1a1a1a" stroke="#1a1a1a">10</text>
<line x1="450.15" y1="391.3" x2="450.15" y2="393" stroke="#555" stroke-width="0.5"/>
<text x="450.15" y="399.6" font-size="6.1" text-anchor="middle" fill="#1a1a1a" stroke="#1a1a1a">11</text>
<line x1="465.2" y1="391.3" x2="465.2" y2="393" stroke="#555" stroke-width="0.5"/>
<text x="465.2" y="399.6" font-size="6.1" text-anchor="middle" fill="#1a1a1a" stroke="#1a1a1a">12</text>
<text x="375" y="409.3" font-size="5.9" text-anchor="middle" fill="#1a1a1a" stroke="#1a1a1a" textLength="39.4" lengthAdjust="spacingAndGlyphs">Time(months)</text>
<text x="364.4" y="305.4" font-size="6" text-anchor="middle" fill="#1a1a1a" stroke="#1a1a1a" textLength="16.9" lengthAdjust="spacingAndGlyphs">TCGA</text>
<path d="M284.6 320.8 286.2 320.8 286.2 320.8 287.9 320.8 287.9 320.8 289.5 320.8 289.5 320.8 291.2 320.8 291.2 320.8 292.8 320.8 292.8 321.0 294.5 321.0 294.5 321.9 296.1 321.9 296.1 323.2 297.7 323.2 297.7 324.6 299.4 324.6 299.4 326.1 301.0 326.1 301.0 327.2 302.7 327.2 302.7 328.3 304.3 328.3 304.3 329.4 305.9 329.4 305.9 329.9 307.6 329.9 307.6 330.4 309.2 330.4 309.2 330.9 310.9 330.9 310.9 331.4 312.5 331.4 312.5 331.9 314.2 331.9 314.2 332.4 315.8 332.4 315.8 332.9 317.4 332.9 317.4 333.4 319.1 333.4 319.1 333.9 320.7 333.9 320.7 334.4 322.4 334.4 322.4 334.9 324.0 334.9 324.0 335.4 325.6 335.4 325.6 336.0 327.3 336.0 327.3 336.5 328.9 336.5 328.9 337.1 330.6 337.1 330.6 337.7 332.2 337.7 332.2 338.3 333.9 338.3 333.9 338.9 335.5 338.9 335.5 339.5 337.1 339.5 337.1 340.1 338.8 340.1 338.8 340.7 340.4 340.7 340.4 341.1 342.1 341.1 342.1 341.5 343.7 341.5 343.7 341.9 345.3 341.9 345.3 342.3 347.0 342.3 347.0 342.7 348.6 342.7 348.6 343.1 350.3 343.1 350.3 343.6 351.9 343.6 351.9 344.0 353.6 344.0 353.6 344.4 355.2 344.4 355.2 344.8 356.8 344.8 356.8 345.2 358.5 345.2 358.5 345.4 360.1 345.4 360.1 345.6 361.8 345.6 361.8 345.8 363.4 345.8 363.4 346.1 365.0 346.1 365.0 346.3 366.7 346.3 366.7 346.5 368.3 346.5 368.3 346.7 370.0 346.7 370.0 346.9 371.6 346.9 371.6 347.2 373.3 347.2 373.3 347.4 374.9 347.4 374.9 347.6 376.5 347.6 376.5 348.1 378.2 348.1 378.2 348.6 379.8 348.6 379.8 349.1 381.5 349.1 381.5 349.6 383.1 349.6 383.1 350.1 384.8 350.1 384.8 350.6 386.4 350.6 386.4 351.1 388.0 351.1 388.0 351.5 389.7 351.5 389.7 352.0 391.3 352.0 391.3 352.3 393.0 352.3 393.0 352.6 394.6 352.6 394.6 352.8 396.2 352.8 396.2 353.1 397.9 353.1 397.9 353.3 399.5 353.3 399.5 353.6 401.2 353.6 401.2 353.8 402.8 353.8 402.8 354.0 404.5 354.0 404.5 354.3 406.1 354.3 406.1 354.5 407.7 354.5 407.7 354.8 409.4 354.8 409.4 355.1 411.0 355.1 411.0 355.4 412.7 355.4 412.7 355.7 414.3 355.7 414.3 356.0 415.9 356.0 415.9 356.3 417.6 356.3 417.6 356.6 419.2 356.6 419.2 356.9 420.9 356.9 420.9 357.2 422.5 357.2 422.5 357.5 424.2 357.5 424.2 357.8 425.8 357.8 425.8 358.1 427.4 358.1 427.4 358.4 429.1 358.4 429.1 358.7 430.7 358.7 430.7 358.7 432.4 358.7 432.4 358.7 434.0 358.7 434.0 358.7 435.6 358.7 435.6 358.7 437.3 358.7 437.3 358.6 438.9 358.6 438.9 358.6 440.6 358.6 440.6 358.6 442.2 358.6 442.2 358.6 443.9 358.6 443.9 358.6 445.5 358.6 445.5 358.6 447.1 358.6 447.1 358.6 448.8 358.6 448.8 358.6 450.4 358.6 450.4 358.6 452.1 358.6 452.1 358.6 453.7 358.6 453.7 358.6 455.3 358.6 455.3 358.6 457.0 358.6 457.0 358.6 458.6 358.6 458.6 358.6 460.3 358.6 460.3 358.6 461.9 358.6 461.9 358.5 463.6 358.5 463.6 358.5 465.2 358.5 465.2 358.5 465.2 358.5L465.2 367.2 465.2 367.2 465.2 367.1 463.6 367.1 463.6 367.1 461.9 367.1 461.9 367.1 460.3 367.1 460.3 367.0 458.6 367.0 458.6 367.0 457.0 367.0 457.0 366.9 455.3 366.9 455.3 366.9 453.7 366.9 453.7 366.9 452.1 366.9 452.1 366.8 450.4 366.8 450.4 366.8 448.8 366.8 448.8 366.7 447.1 366.7 447.1 366.7 445.5 366.7 445.5 366.7 443.9 366.7 443.9 366.6 442.2 366.6 442.2 366.6 440.6 366.6 440.6 366.5 438.9 366.5 438.9 366.5 437.3 366.5 437.3 366.5 435.6 366.5 435.6 366.4 434.0 366.4 434.0 366.4 432.4 366.4 432.4 366.3 430.7 366.3 430.7 366.3 429.1 366.3 429.1 366.0 427.4 366.0 427.4 365.6 425.8 365.6 425.8 365.3 424.2 365.3 424.2 364.9 422.5 364.9 422.5 364.6 420.9 364.6 420.9 364.2 419.2 364.2 419.2 363.9 417.6 363.9 417.6 363.6 415.9 363.6 415.9 363.2 414.3 363.2 414.3 362.9 412.7 362.9 412.7 362.5 411.0 362.5 411.0 362.2 409.4 362.2 409.4 361.8 407.7 361.8 407.7 361.5 406.1 361.5 406.1 361.2 404.5 361.2 404.5 360.9 402.8 360.9 402.8 360.6 401.2 360.6 401.2 360.3 399.5 360.3 399.5 360.1 397.9 360.1 397.9 359.8 396.2 359.8 396.2 359.5 394.6 359.5 394.6 359.2 393.0 359.2 393.0 358.9 391.3 358.9 391.3 358.6 389.7 358.6 389.7 358.0 388.0 358.0 388.0 357.5 386.4 357.5 386.4 356.9 384.8 356.9 384.8 356.4 383.1 356.4 383.1 355.9 381.5 355.9 381.5 355.3 379.8 355.3 379.8 354.8 378.2 354.8 378.2 354.2 376.5 354.2 376.5 353.7 374.9 353.7 374.9 353.4 373.3 353.4 373.3 353.2 371.6 353.2 371.6 352.9 370.0 352.9 370.0 352.6 368.3 352.6 368.3 352.4 366.7 352.4 366.7 352.1 365.0 352.1 365.0 351.8 363.4 351.8 363.4 351.6 361.8 351.6 361.8 351.3 360.1 351.3 360.1 351.0 358.5 351.0 358.5 350.8 356.8 350.8 356.8 350.3 355.2 350.3 355.2 349.9 353.6 349.9 353.6 349.4 351.9 349.4 351.9 349.0 350.3 349.0 350.3 348.5 348.6 348.5 348.6 348.0 347.0 348.0 347.0 347.6 345.3 347.6 345.3 347.1 343.7 347.1 343.7 346.7 342.1 346.7 342.1 346.2 340.4 346.2 340.4 345.7 338.8 345.7 338.8 345.1 337.1 345.1 337.1 344.5 335.5 344.5 335.5 343.8 333.9 343.8 333.9 343.2 332.2 343.2 332.2 342.5 330.6 342.5 330.6 341.9 328.9 341.9 328.9 341.3 327.3 341.3 327.3 340.7 325.6 340.7 325.6 340.1 324.0 340.1 324.0 339.5 322.4 339.5 322.4 339.0 320.7 339.0 320.7 338.4 319.1 338.4 319.1 337.9 317.4 337.9 317.4 337.3 315.8 337.3 315.8 336.8 314.2 336.8 314.2 336.2 312.5 336.2 312.5 335.7 310.9 335.7 310.9 335.1 309.2 335.1 309.2 334.6 307.6 334.6 307.6 334.0 305.9 334.0 305.9 333.5 304.3 333.5 304.3 332.4 302.7 332.4 302.7 331.2 301.0 331.2 301.0 330.1 299.4 330.1 299.4 328.6 297.7 328.6 297.7 327.1 296.1 327.1 296.1 325.8 294.5 325.8 294.5 324.8 292.8 324.8 292.8 323.8 291.2 323.8 291.2 323.3 289.5 323.3 289.5 323.1 287.9 323.1 287.9 322.9 286.2 322.9 286.2 322.7 284.6 322.7Z" fill="#d4787a" opacity="0.6"/>
<path d="M284.6 320.8 286.1 320.8 286.1 320.8 287.5 320.8 287.5 320.8 289.0 320.8 289.0 320.8 290.4 320.8 290.4 321.8 291.9 321.8 291.9 323.1 293.3 323.1 293.3 325.2 294.8 325.2 294.8 327.6 296.2 327.6 296.2 330.0 297.7 330.0 297.7 332.8 299.1 332.8 299.1 335.7 300.6 335.7 300.6 338.3 302.0 338.3 302.0 340.9 303.5 340.9 303.5 343.5 304.9 343.5 304.9 345.3 306.4 345.3 306.4 347.1 307.8 347.1 307.8 348.6 309.3 348.6 309.3 349.8 310.7 349.8 310.7 351.0 312.2 351.0 312.2 352.1 313.6 352.1 313.6 353.3 315.1 353.3 315.1 354.0 316.5 354.0 316.5 354.7 318.0 354.7 318.0 355.3 319.4 355.3 319.4 356.0 320.9 356.0 320.9 356.6 322.3 356.6 322.3 357.3 323.8 357.3 323.8 357.8 325.2 357.8 325.2 358.3 326.7 358.3 326.7 358.8 328.1 358.8 328.1 359.3 329.6 359.3 329.6 359.7 331.0 359.7 331.0 360.1 332.5 360.1 332.5 360.5 333.9 360.5 333.9 360.9 335.4 360.9 335.4 361.2 336.8 361.2 336.8 361.6 338.3 361.6 338.3 362.0 339.7 362.0 339.7 362.3 341.2 362.3 341.2 362.5 342.6 362.5 342.6 362.8 344.1 362.8 344.1 363.1 345.5 363.1 345.5 363.3 347.0 363.3 347.0 363.6 348.4 363.6 348.4 363.9 349.9 363.9 349.9 364.2 351.3 364.2 351.3 364.4 352.8 364.4 352.8 364.7 354.2 364.7 354.2 365.0 355.7 365.0 355.7 365.2 357.1 365.2 357.1 365.4 358.6 365.4 358.6 365.5 360.0 365.5 360.0 365.5 361.5 365.5 361.5 365.5 362.9 365.5 362.9 365.6 364.4 365.6 364.4 365.6 365.8 365.6 365.8 365.7 367.3 365.7 367.3 365.7 368.7 365.7 368.7 365.8 370.2 365.8 370.2 365.8 371.6 365.8 371.6 366.0 373.1 366.0 373.1 366.7 374.5 366.7 374.5 367.3 376.0 367.3 376.0 367.5 377.4 367.5 377.4 367.5 378.9 367.5 378.9 367.5 380.3 367.5 380.3 367.5 381.8 367.5 381.8 367.6 383.2 367.6 383.2 367.6 384.7 367.6 384.7 367.6 386.1 367.6 386.1 367.7 387.6 367.7 387.6 367.7 389.0 367.7 389.0 367.7 390.5 367.7 390.5 367.7 391.9 367.7 391.9 367.8 393.4 367.8 393.4 367.8 394.8 367.8 394.8 367.8 396.3 367.8 396.3 367.9 397.7 367.9 397.7 367.9 399.2 367.9 399.2 367.9 400.6 367.9 400.6 367.9 402.1 367.9 402.1 368.0 403.5 368.0 403.5 368.0 405.0 368.0 405.0 368.0 406.4 368.0 406.4 368.1 407.9 368.1 407.9 368.1 409.3 368.1 409.3 368.1 410.8 368.1 410.8 368.1 412.2 368.1 412.2 368.9 413.7 368.9 413.7 369.9 415.1 369.9 415.1 370.9 416.6 370.9 416.6 371.8 418.0 371.8 418.0 371.9 419.5 371.9 419.5 372.1 420.9 372.1 420.9 372.3 422.4 372.3 422.4 372.4 423.8 372.4 423.8 372.6 425.3 372.6 425.3 372.8 426.7 372.8 426.7 373.0 428.2 373.0 428.2 373.1 429.6 373.1 429.6 373.3 431.1 373.3 431.1 373.5 432.5 373.5 432.5 373.6 434.0 373.6 434.0 373.8 435.4 373.8 435.4 374.0 436.9 374.0 436.9 374.1 438.3 374.1 438.3 374.1 439.8 374.1 439.8 374.0 441.2 374.0 441.2 374.0 442.7 374.0 442.7 374.0 444.1 374.0 444.1 374.0 444.1 374.0L444.1 382.8 444.1 382.8 444.1 382.8 442.7 382.8 442.7 382.8 441.2 382.8 441.2 382.7 439.8 382.7 439.8 382.7 438.3 382.7 438.3 382.7 436.9 382.7 436.9 382.5 435.4 382.5 435.4 382.3 434.0 382.3 434.0 382.0 432.5 382.0 432.5 381.8 431.1 381.8 431.1 381.6 429.6 381.6 429.6 381.4 428.2 381.4 428.2 381.1 426.7 381.1 426.7 380.9 425.3 380.9 425.3 380.7 423.8 380.7 423.8 380.5 422.4 380.5 422.4 380.3 420.9 380.3 420.9 380.0 419.5 380.0 419.5 379.8 418.0 379.8 418.0 379.6 416.6 379.6 416.6 378.6 415.1 378.6 415.1 377.6 413.7 377.6 413.7 376.6 412.2 376.6 412.2 375.7 410.8 375.7 410.8 375.6 409.3 375.6 409.3 375.6 407.9 375.6 407.9 375.5 406.4 375.5 406.4 375.4 405.0 375.4 405.0 375.3 403.5 375.3 403.5 375.2 402.1 375.2 402.1 375.1 400.6 375.1 400.6 375.1 399.2 375.1 399.2 375.0 397.7 375.0 397.7 374.9 396.3 374.9 396.3 374.8 394.8 374.8 394.8 374.7 393.4 374.7 393.4 374.7 391.9 374.7 391.9 374.6 390.5 374.6 390.5 374.5 389.0 374.5 389.0 374.4 387.6 374.4 387.6 374.3 386.1 374.3 386.1 374.2 384.7 374.2 384.7 374.2 383.2 374.2 383.2 374.1 381.8 374.1 381.8 374.0 380.3 374.0 380.3 373.9 378.9 373.9 378.9 373.8 377.4 373.8 377.4 373.7 376.0 373.7 376.0 373.5 374.5 373.5 374.5 372.8 373.1 372.8 373.1 372.1 371.6 372.1 371.6 371.9 370.2 371.9 370.2 371.8 368.7 371.8 368.7 371.7 367.3 371.7 367.3 371.6 365.8 371.6 365.8 371.5 364.4 371.5 364.4 371.4 362.9 371.4 362.9 371.3 361.5 371.3 361.5 371.2 360.0 371.2 360.0 371.1 358.6 371.1 358.6 371.0 357.1 371.0 357.1 370.8 355.7 370.8 355.7 370.4 354.2 370.4 354.2 370.1 352.8 370.1 352.8 369.8 351.3 369.8 351.3 369.5 349.9 369.5 349.9 369.1 348.4 369.1 348.4 368.8 347.0 368.8 347.0 368.5 345.5 368.5 345.5 368.1 344.1 368.1 344.1 367.8 342.6 367.8 342.6 367.5 341.2 367.5 341.2 367.2 339.7 367.2 339.7 366.8 338.3 366.8 338.3 366.4 336.8 366.4 336.8 366.0 335.4 366.0 335.4 365.6 333.9 365.6 333.9 365.1 332.5 365.1 332.5 364.7 331.0 364.7 331.0 364.3 329.6 364.3 329.6 363.7 328.1 363.7 328.1 363.2 326.7 363.2 326.7 362.6 325.2 362.6 325.2 362.1 323.8 362.1 323.8 361.5 322.3 361.5 322.3 360.8 320.9 360.8 320.9 360.1 319.4 360.1 319.4 359.4 318.0 359.4 318.0 358.7 316.5 358.7 316.5 358.0 315.1 358.0 315.1 357.2 313.6 357.2 313.6 356.0 312.2 356.0 312.2 354.8 310.7 354.8 310.7 353.5 309.3 353.5 309.3 352.3 307.8 352.3 307.8 350.7 306.4 350.7 306.4 348.9 304.9 348.9 304.9 347.0 303.5 347.0 303.5 344.4 302.0 344.4 302.0 341.8 300.6 341.8 300.6 339.0 299.1 339.0 299.1 336.2 297.7 336.2 297.7 333.3 296.2 333.3 296.2 330.8 294.8 330.8 294.8 328.4 293.3 328.4 293.3 326.2 291.9 326.2 291.9 324.9 290.4 324.9 290.4 323.6 289.0 323.6 289.0 322.9 287.5 322.9 287.5 322.6 286.1 322.6 286.1 322.3 284.6 322.3Z" fill="#80b4e4" opacity="0.62"/>
<path d="M284.6 320.8H286.2V321.0H287.9V321.2H289.5V321.4H291.2V321.8H292.8V322.8H294.5V323.8H296.1V325.0H297.7V326.5H299.4V328.0H301.0V329.1H302.7V330.2H304.3V331.3H305.9V331.8H307.6V332.4H309.2V332.9H310.9V333.4H312.5V333.9H314.2V334.5H315.8V335.0H317.4V335.5H319.1V336.1H320.7V336.6H322.4V337.1H324.0V337.7H325.6V338.2H327.3V338.8H328.9V339.4H330.6V340.0H332.2V340.6H333.9V341.2H335.5V341.8H337.1V342.5H338.8V343.1H340.4V343.5H342.1V343.9H343.7V344.4H345.3V344.8H347.0V345.3H348.6V345.7H350.3V346.1H351.9V346.6H353.6V347.0H355.2V347.4H356.8V347.8H358.5V348.1H360.1V348.3H361.8V348.6H363.4V348.8H365.0V349.1H366.7V349.3H368.3V349.5H370.0V349.8H371.6V350.0H373.3V350.3H374.9V350.5H376.5V351.0H378.2V351.5H379.8V352.0H381.5V352.6H383.1V353.1H384.8V353.6H386.4V354.1H388.0V354.6H389.7V355.1H391.3V355.4H393.0V355.7H394.6V356.0H396.2V356.3H397.9V356.5H399.5V356.8H401.2V357.1H402.8V357.3H404.5V357.6H406.1V357.9H407.7V358.2H409.4V358.5H411.0V358.8H412.7V359.1H414.3V359.4H415.9V359.8H417.6V360.1H419.2V360.4H420.9V360.7H422.5V361.0H424.2V361.4H425.8V361.7H427.4V362.0H429.1V362.3H430.7V362.3H432.4V362.3H434.0V362.4H435.6V362.4H437.3V362.4H438.9V362.4H440.6V362.4H442.2V362.4H443.9V362.5H445.5V362.5H447.1V362.5H448.8V362.5H450.4V362.5H452.1V362.5H453.7V362.5H455.3V362.6H457.0V362.6H458.6V362.6H460.3V362.6H461.9V362.6H463.6V362.6H465.2V362.7" fill="none" stroke="#c62d2d" stroke-width="1"/>
<path d="M284.6 320.8H286.1V321.1H287.5V321.3H289.0V322.0H290.4V323.3H291.9V324.6H293.3V326.7H294.8V329.1H296.2V331.5H297.7V334.4H299.1V337.3H300.6V340.0H302.0V342.6H303.5V345.2H304.9V347.0H306.4V348.8H307.8V350.4H309.3V351.6H310.7V352.8H312.2V354.0H313.6V355.2H315.1V355.9H316.5V356.6H318.0V357.3H319.4V357.9H320.9V358.6H322.3V359.3H323.8V359.8H325.2V360.3H326.7V360.9H328.1V361.4H329.6V361.9H331.0V362.3H332.5V362.7H333.9V363.1H335.4V363.5H336.8V363.9H338.3V364.3H339.7V364.6H341.2V364.9H342.6V365.2H344.1V365.5H345.5V365.8H347.0V366.1H348.4V366.4H349.9V366.7H351.3V367.0H352.8V367.3H354.2V367.6H355.7V367.9H357.1V368.1H358.6V368.1H360.0V368.2H361.5V368.3H362.9V368.3H364.4V368.4H365.8V368.5H367.3V368.5H368.7V368.6H370.2V368.7H371.6V368.9H373.1V369.6H374.5V370.2H376.0V370.5H377.4V370.5H378.9V370.6H380.3V370.6H381.8V370.7H383.2V370.7H384.7V370.8H386.1V370.8H387.6V370.9H389.0V370.9H390.5V371.0H391.9V371.0H393.4V371.1H394.8V371.2H396.3V371.2H397.7V371.3H399.2V371.3H400.6V371.4H402.1V371.4H403.5V371.5H405.0V371.5H406.4V371.6H407.9V371.6H409.3V371.7H410.8V371.8H412.2V372.6H413.7V373.6H415.1V374.6H416.6V375.5H418.0V375.7H419.5V375.9H420.9V376.1H422.4V376.3H423.8V376.5H425.3V376.7H426.7V376.9H428.2V377.0H429.6V377.2H431.1V377.4H432.5V377.6H434.0V377.8H435.4V378.0H436.9V378.2H438.3V378.2H439.8V378.2H441.2V378.2H442.7V378.2H444.1V378.2" fill="none" stroke="#3775c5" stroke-width="1"/>
<text x="278.3" y="379.2" font-size="6.3" text-anchor="start" fill="#1a1a1a" stroke="#1a1a1a" textLength="23.2" lengthAdjust="spacingAndGlyphs">p&lt;0.001</text>
<text x="338.7" y="322.7" font-size="6.2" text-anchor="start" fill="#1a1a1a" stroke="#1a1a1a" textLength="16.5" lengthAdjust="spacingAndGlyphs">CBX7</text>
<rect x="356.9" y="316.5" width="7.2" height="7.4" fill="#e9a6a6" stroke="none" stroke-width="0.5"/>
<line x1="356.9" y1="320.2" x2="364.1" y2="320.2" stroke="#c62d2d" stroke-width="0.9"/>
<text x="365.8" y="322.7" font-size="6.3" text-anchor="start" fill="#1a1a1a" stroke="#1a1a1a" textLength="13.3" lengthAdjust="spacingAndGlyphs">High</text>
<rect x="380.1" y="316.5" width="7" height="7.4" fill="#b3d2ee" stroke="none" stroke-width="0.5"/>
<line x1="380.1" y1="320.2" x2="387.1" y2="320.2" stroke="#3775c5" stroke-width="0.9"/>
<text x="388.8" y="322.7" font-size="6.1" text-anchor="start" fill="#1a1a1a" stroke="#1a1a1a" textLength="10.9" lengthAdjust="spacingAndGlyphs">Low</text>
<text x="1" y="409.8" font-size="9.6" text-anchor="start" fill="#111" stroke="#111">G</text>
<line x1="41.6" y1="421.4" x2="41.6" y2="530" stroke="#444" stroke-width="0.6"/>
<line x1="41.6" y1="529.8" x2="135.3" y2="529.8" stroke="#444" stroke-width="0.6"/>
<line x1="40" y1="506.4" x2="41.6" y2="506.4" stroke="#444" stroke-width="0.5"/>
<text x="39.3" y="508.5" font-size="6.2" text-anchor="end" fill="#1a1a1a" stroke="#1a1a1a">0</text>
<line x1="40" y1="481.7" x2="41.6" y2="481.7" stroke="#444" stroke-width="0.5"/>
<text x="39.3" y="483.8" font-size="6.2" text-anchor="end" fill="#1a1a1a" stroke="#1a1a1a">10</text>
<line x1="40" y1="457" x2="41.6" y2="457" stroke="#444" stroke-width="0.5"/>
<text x="39.3" y="459.1" font-size="6.2" text-anchor="end" fill="#1a1a1a" stroke="#1a1a1a">20</text>
<line x1="40" y1="432.3" x2="41.6" y2="432.3" stroke="#444" stroke-width="0.5"/>
<text x="39.3" y="434.4" font-size="6.2" text-anchor="end" fill="#1a1a1a" stroke="#1a1a1a">30</text>
<text x="89" y="414.6" font-size="6.2" text-anchor="middle" fill="#1a1a1a" stroke="#1a1a1a" textLength="17.6" lengthAdjust="spacingAndGlyphs">TCGA</text>
<text x="26.4" y="471.5" font-size="6.2" text-anchor="middle" fill="#1a1a1a" stroke="#1a1a1a" transform="rotate(-90 26.4 471.5)" textLength="59" lengthAdjust="spacingAndGlyphs">CBX7 log2(FPKM+1)</text>
<path d="M60.6 486.8h0M67.4 481.7h0M63.5 480.8h0M64.8 486.8h0M63.8 477.7h0M64.0 484.1h0M69.6 492.0h0M68.9 475.2h0M68.9 499.0h0M67.0 492.4h0M66.6 492.3h0M60.9 474.1h0M59.9 493.1h0M68.0 500.9h0M66.4 497.6h0M65.9 486.1h0M62.7 488.4h0M62.2 485.4h0M68.9 499.9h0M64.9 485.3h0M59.7 481.0h0M63.0 471.6h0M63.1 475.2h0M60.2 499.9h0M69.5 483.7h0M68.7 497.3h0M67.8 484.7h0M59.5 481.6h0M63.8 489.9h0M60.6 505.2h0M66.9 487.1h0M67.8 487.2h0M67.6 492.9h0M67.6 481.3h0M60.7 491.4h0M59.6 490.4h0M60.4 483.4h0M68.1 494.6h0M68.0 481.2h0M64.8 492.2h0M61.9 489.8h0M68.2 482.7h0M60.7 476.3h0M62.8 490.4h0M59.5 486.4h0M69.5 490.7h0M63.7 501.8h0M67.4 491.7h0M67.7 467.1h0M65.4 490.0h0M69.6 481.0h0M67.4 482.7h0M69.0 476.9h0M69.3 488.0h0M60.3 481.3h0M67.2 489.7h0M61.8 466.7h0M62.8 484.4h0M63.0 488.9h0M69.6 476.5h0M60.1 495.3h0M63.9 478.9h0M60.8 468.2h0M69.7 496.6h0M64.6 483.0h0M66.7 492.7h0M64.8 487.1h0M67.3 489.4h0M62.9 505.2h0M63.7 477.2h0M67.1 488.1h0M66.7 479.4h0M68.6 493.6h0M62.7 491.1h0M68.2 491.2h0M67.0 500.4h0M65.3 471.3h0M63.7 476.6h0M65.3 475.5h0M60.3 481.9h0M60.5 490.7h0M62.7 483.8h0M60.8 460.5h0M60.0 473.3h0M66.8 484.8h0M67.0 497.3h0M65.8 481.4h0M61.6 505.2h0M66.9 478.1h0M67.9 492.8h0M65.8 489.6h0M61.8 477.3h0M65.3 473.6h0M63.5 489.6h0M62.2 496.1h0M61.0 502.9h0M68.3 497.4h0M65.9 481.7h0M69.0 484.4h0M61.3 492.7h0M62.2 486.6h0M64.7 489.4h0M60.1 499.2h0M62.6 490.6h0M65.0 475.7h0M64.4 471.9h0M68.8 493.2h0M65.4 485.8h0M66.0 498.0h0M65.5 481.6h0M67.5 488.5h0M63.2 487.6h0M59.5 476.1h0M69.5 480.2h0M67.6 483.3h0M60.8 482.8h0M60.6 481.6h0M61.8 504.4h0M66.2 483.8h0M60.8 491.6h0M59.7 473.0h0M64.5 487.4h0M59.6 494.8h0M62.1 492.8h0M63.4 478.5h0M61.6 486.8h0M59.5 486.9h0M62.2 476.1h0M62.0 481.8h0M62.8 488.6h0M63.7 475.7h0M63.2 481.7h0M62.8 482.9h0M59.7 483.9h0M68.0 505.2h0M67.0 478.2h0M64.5 491.4h0M59.5 481.0h0M61.9 493.1h0M68.7 487.1h0M64.2 499.2h0M61.6 479.9h0M67.9 495.0h0M68.6 473.7h0M60.7 486.2h0M64.6 484.1h0M65.2 494.7h0M60.7 494.9h0M62.8 484.2h0M65.8 489.9h0M66.4 488.2h0M65.9 501.1h0M65.8 491.1h0M63.4 484.5h0M60.2 499.3h0M59.7 497.6h0M68.0 497.8h0M68.3 486.2h0M68.7 492.7h0M60.3 499.1h0M67.3 492.9h0M61.3 485.2h0M63.0 498.8h0M61.5 485.3h0M68.3 464.9h0M67.9 505.2h0M68.0 495.3h0M63.4 490.6h0M69.0 485.7h0M62.2 475.5h0M65.4 488.4h0M66.4 494.6h0M61.9 500.2h0M63.4 505.2h0M60.5 504.2h0M67.6 474.6h0M61.4 499.8h0M60.9 482.9h0M62.3 483.9h0M66.0 492.3h0M66.0 502.3h0M64.9 466.8h0M68.2 480.9h0M67.2 484.8h0M61.6 502.4h0M65.0 485.7h0M61.2 501.9h0M62.0 502.9h0M61.0 488.1h0M60.3 488.3h0M63.1 485.7h0M68.5 486.8h0M66.2 489.8h0M60.4 487.0h0M61.7 500.3h0M65.5 489.9h0M64.9 482.7h0M59.8 471.1h0M60.5 505.2h0M65.3 476.2h0M65.6 470.1h0M60.3 465.3h0M67.4 466.7h0M62.0 471.9h0M65.5 462.3h0M64.9 476.7h0M63.0 472.1h0M69.2 470.8h0M63.5 460.4h0M63.8 467.5h0M65.0 476.1h0M68.1 471.2h0M69.6 465.5h0M67.3 461.8h0" stroke="#c41a33" stroke-width="1.5" stroke-linecap="round"/>
<path d="M67.5 443.4h0M67.5 437.2h0M67.5 434.8h0M67.5 432.3h0M67.5 429.8h0" stroke="#c41a33" stroke-width="1.5" stroke-linecap="round"/>
<path d="M110.6 501.8h0M104.9 496.7h0M106.7 501.0h0M112.1 498.4h0M109.3 478.5h0M108.7 496.1h0M110.7 490.9h0M108.5 482.0h0M107.4 499.3h0M109.1 490.9h0M103.8 492.1h0M107.1 499.5h0M104.0 495.9h0M113.6 503.3h0M112.7 503.1h0M110.1 487.1h0M105.2 497.5h0M112.2 489.0h0M106.4 477.4h0M111.6 493.4h0M110.1 494.5h0M109.6 480.1h0M111.0 494.4h0M106.3 492.7h0M111.9 501.2h0M109.0 490.6h0M111.2 483.4h0M112.0 491.7h0M106.1 500.8h0M107.7 494.9h0M107.2 485.2h0M104.4 487.0h0M112.4 488.4h0M110.5 491.0h0M108.5 501.0h0M109.1 490.5h0M112.4 504.2h0M104.3 493.3h0M107.2 496.9h0M110.5 490.2h0M108.9 482.0h0M108.6 492.0h0M106.2 486.2h0M105.8 494.7h0M110.3 498.0h0M107.0 487.0h0M113.0 493.8h0M112.6 503.7h0M113.3 493.0h0M106.4 494.2h0M108.7 489.2h0M104.6 488.8h0M107.2 499.4h0M104.3 486.7h0M108.6 498.2h0M113.2 478.1h0M111.2 504.1h0M107.2 489.0h0M106.4 480.9h0M112.9 496.2h0M104.1 501.7h0M112.1 502.7h0M112.2 494.5h0M104.3 491.2h0M113.1 482.7h0M110.1 496.2h0M107.5 496.2h0M107.9 494.9h0M109.7 493.6h0M108.9 501.9h0M112.3 497.8h0M112.6 499.0h0M106.9 485.9h0M103.7 497.5h0M111.4 496.3h0M110.1 474.7h0M110.2 492.1h0M104.3 486.3h0M104.4 490.6h0M112.6 491.3h0M107.2 488.7h0M108.3 489.3h0M113.3 492.3h0M105.6 496.7h0M110.0 502.2h0M104.2 485.3h0M109.2 497.0h0M111.0 500.2h0M105.2 479.5h0M111.2 480.8h0M113.3 503.5h0M111.9 480.5h0M111.5 497.1h0M113.1 490.0h0M110.8 500.1h0M109.1 492.4h0M111.8 487.2h0M111.7 484.9h0M109.9 488.2h0M110.3 491.7h0M105.4 485.1h0M107.0 501.5h0M106.9 490.0h0M112.2 497.2h0M111.4 503.2h0M106.5 492.1h0M113.5 487.9h0M104.2 489.0h0M104.2 480.7h0M106.9 500.0h0M104.4 503.4h0M113.1 494.0h0M107.2 479.2h0M107.5 498.6h0M112.1 495.7h0M108.9 494.9h0M109.9 489.6h0M108.0 497.2h0M108.2 493.0h0M113.2 488.5h0M106.4 503.8h0M108.9 494.2h0M108.4 503.0h0M105.0 490.8h0M105.1 484.4h0M108.7 482.4h0M111.6 500.7h0M107.9 495.1h0M104.2 482.8h0M113.0 497.3h0M105.0 470.6h0M112.4 503.5h0M104.1 485.3h0M110.1 489.6h0M105.1 499.8h0M106.2 491.2h0M107.8 494.1h0M111.2 496.3h0M108.0 486.5h0M107.8 485.2h0M107.6 475.1h0M108.8 497.1h0M106.4 497.3h0M113.1 492.0h0M105.5 503.6h0M104.9 490.4h0M109.1 492.0h0M107.1 498.9h0M110.8 498.0h0M104.0 468.0h0M110.4 481.1h0M107.2 492.4h0M112.9 481.1h0M106.6 485.0h0M107.9 497.6h0M106.8 483.9h0M108.9 490.3h0M106.4 475.3h0M110.3 492.9h0M107.7 490.6h0M110.7 490.3h0M106.5 491.5h0M108.2 497.4h0M109.2 478.0h0M110.8 502.0h0M110.1 482.1h0M107.9 482.8h0M104.5 491.0h0M104.7 497.2h0M105.1 494.3h0M105.4 501.8h0M105.4 498.0h0M110.2 501.1h0M107.0 478.5h0M112.7 494.9h0M105.9 497.5h0M106.1 491.0h0M105.4 491.5h0M105.0 494.4h0M110.4 480.7h0M109.4 470.4h0M106.1 497.9h0M111.7 490.3h0M110.4 496.8h0M107.9 489.4h0M109.7 501.0h0M110.2 486.6h0M108.0 488.3h0M104.5 496.9h0M107.2 495.9h0M113.1 492.3h0M107.3 488.7h0M110.0 502.9h0M104.5 501.3h0M111.3 492.5h0M112.2 494.3h0M107.3 469.5h0M107.3 491.8h0M108.7 493.8h0M106.1 486.4h0M105.7 490.4h0M104.9 496.5h0M110.5 488.3h0M108.7 497.3h0M113.2 504.3h0M113.2 498.0h0M112.3 481.2h0M113.0 492.9h0M112.0 504.0h0M103.8 503.3h0M104.9 497.7h0M113.4 493.8h0M112.3 491.1h0M109.8 480.6h0M109.8 489.6h0M108.0 491.3h0M107.8 493.4h0M105.1 477.4h0M109.1 501.3h0M106.3 495.7h0M104.8 481.9h0M112.3 496.0h0M109.3 492.5h0M112.4 481.9h0M106.5 488.1h0M109.4 500.0h0M106.4 504.0h0M111.9 488.6h0M105.7 480.7h0M110.1 494.3h0M109.1 488.4h0M106.9 482.6h0M104.4 497.7h0M108.5 484.2h0M108.8 493.7h0M111.8 495.1h0M105.6 501.0h0M105.5 493.7h0M106.7 502.1h0M111.6 502.9h0M105.9 503.3h0M109.9 490.7h0M103.9 495.0h0M104.4 486.7h0M110.7 504.3h0M108.6 494.0h0M104.7 490.8h0M108.3 478.4h0M113.0 501.6h0M107.5 493.3h0M109.2 493.7h0M107.8 476.4h0M108.7 476.2h0M104.0 503.4h0M112.4 493.3h0M109.4 489.9h0M107.1 494.7h0M106.4 494.8h0M105.5 485.0h0M112.9 503.8h0M112.0 498.3h0M107.4 485.1h0M109.6 495.5h0M109.1 498.1h0M105.6 503.6h0M103.9 481.6h0M111.0 498.3h0M105.2 504.0h0M109.2 488.4h0M103.8 489.6h0M103.8 493.4h0M105.2 491.1h0M110.1 500.7h0M109.7 502.2h0M113.5 483.3h0M110.2 498.5h0M108.8 484.6h0M103.7 498.2h0M113.2 500.5h0M108.5 494.1h0M112.2 495.2h0M104.0 488.7h0M112.0 493.9h0M108.4 493.3h0M105.8 496.9h0M107.7 488.6h0M104.4 500.9h0M109.4 500.7h0M105.8 495.4h0M110.6 490.2h0M105.3 493.0h0M110.5 497.1h0M109.8 479.8h0M110.7 490.7h0M113.1 503.9h0M106.6 500.7h0M110.4 495.7h0M107.6 493.3h0M112.5 499.4h0M111.9 488.3h0M111.2 495.5h0M109.6 494.9h0M106.2 479.6h0M112.7 479.7h0M113.3 498.4h0M113.1 494.8h0M107.0 498.8h0M111.8 496.1h0M110.4 484.8h0M112.0 502.9h0M111.6 492.0h0M108.1 496.9h0M107.6 499.8h0M111.6 489.6h0M110.1 496.0h0M109.0 489.1h0M112.3 484.1h0M103.9 503.7h0M103.7 490.1h0M108.2 493.2h0M104.6 494.9h0M112.0 501.1h0M104.5 502.1h0M112.4 503.3h0M105.9 484.1h0M104.9 486.2h0M111.1 490.0h0M110.4 486.0h0M107.7 487.4h0M109.6 485.3h0M109.1 479.9h0M113.1 455.8h0M108.7 456.2h0M109.0 445.9h0M108.2 451.3h0M107.7 478.7h0M110.5 447.4h0M104.7 460.2h0M110.5 444.7h0M112.9 462.3h0M111.2 478.5h0M109.0 453.9h0M107.1 474.9h0M104.6 442.8h0M104.5 460.4h0M109.0 446.0h0M112.4 462.2h0M112.3 468.8h0M105.4 455.5h0M111.1 453.6h0M111.7 463.5h0M108.4 470.8h0M112.2 465.1h0M105.5 453.5h0M107.0 472.7h0M108.7 475.5h0M110.9 462.6h0M108.1 455.7h0M106.6 479.1h0M112.3 471.0h0M107.5 443.3h0M107.8 471.1h0M105.8 451.2h0M108.4 469.6h0M110.7 478.3h0M107.2 462.5h0M110.2 447.3h0M108.5 451.0h0M103.7 479.8h0M113.2 453.9h0M106.5 457.2h0M109.1 462.6h0M113.2 455.4h0M105.7 461.1h0M104.2 474.5h0M105.7 437.2h0M105.1 432.3h0M112.1 427.4h0" stroke="#3d7cc3" stroke-width="1.5" stroke-linecap="round"/>
<line x1="64.75" y1="462.3" x2="64.75" y2="481.3" stroke="#333" stroke-width="0.55"/>
<line x1="64.75" y1="494.5" x2="64.75" y2="505.5" stroke="#333" stroke-width="0.55"/>
<rect x="48.3" y="481.3" width="32.9" height="13.2" fill="none" stroke="#333" stroke-width="0.55"/>
<line x1="48.3" y1="489.3" x2="81.2" y2="489.3" stroke="#333" stroke-width="0.55"/>
<line x1="107.6" y1="468" x2="107.6" y2="485.2" stroke="#333" stroke-width="0.55"/>
<line x1="107.6" y1="498.8" x2="107.6" y2="505.5" stroke="#333" stroke-width="0.55"/>
<rect x="90.7" y="485.2" width="33.8" height="13.6" fill="none" stroke="#333" stroke-width="0.55"/>
<line x1="90.7" y1="492.8" x2="124.5" y2="492.8" stroke="#333" stroke-width="0.55"/>
<text x="88" y="522.6" font-size="6.2" text-anchor="middle" fill="#1a1a1a" stroke="#1a1a1a" textLength="46" lengthAdjust="spacingAndGlyphs">p-value=0.01243</text>
<line x1="64" y1="529.8" x2="64" y2="531.4" stroke="#444" stroke-width="0.5"/>
<text x="64" y="540.4" font-size="6.3" text-anchor="middle" fill="#1a1a1a" stroke="#1a1a1a" textLength="32.8" lengthAdjust="spacingAndGlyphs">Mut(n=237)</text>
<line x1="109.6" y1="529.8" x2="109.6" y2="531.4" stroke="#444" stroke-width="0.5"/>
<text x="109.6" y="540.4" font-size="6.3" text-anchor="middle" fill="#1a1a1a" stroke="#1a1a1a" textLength="32.8" lengthAdjust="spacingAndGlyphs">WT(n=429)</text>
<line x1="154.8" y1="418.1" x2="154.8" y2="531.8" stroke="#444" stroke-width="0.6"/>
<line x1="154.8" y1="531.6" x2="248.8" y2="531.6" stroke="#444" stroke-width="0.6"/>
<line x1="153.2" y1="506.5" x2="154.8" y2="506.5" stroke="#444" stroke-width="0.5"/>
<text x="152.5" y="508.6" font-size="6.2" text-anchor="end" fill="#1a1a1a" stroke="#1a1a1a">0</text>
<line x1="153.2" y1="481.86" x2="154.8" y2="481.86" stroke="#444" stroke-width="0.5"/>
<text x="152.5" y="483.96" font-size="6.2" text-anchor="end" fill="#1a1a1a" stroke="#1a1a1a">2</text>
<line x1="153.2" y1="457.22" x2="154.8" y2="457.22" stroke="#444" stroke-width="0.5"/>
<text x="152.5" y="459.32" font-size="6.2" text-anchor="end" fill="#1a1a1a" stroke="#1a1a1a">4</text>
<line x1="153.2" y1="432.58" x2="154.8" y2="432.58" stroke="#444" stroke-width="0.5"/>
<text x="152.5" y="434.68" font-size="6.2" text-anchor="end" fill="#1a1a1a" stroke="#1a1a1a">6</text>
<text x="202.8" y="414.6" font-size="6.2" text-anchor="middle" fill="#1a1a1a" stroke="#1a1a1a">CGGA</text>
<text x="142.2" y="472" font-size="6.2" text-anchor="middle" fill="#1a1a1a" stroke="#1a1a1a" transform="rotate(-90 142.2 472)" textLength="55.5" lengthAdjust="spacingAndGlyphs">CBX7 log2(Gene+1)</text>
<path d="M179.2 458.9h0M182.7 456.3h0M181.2 457.6h0M176.1 444.3h0M179.1 452.1h0M179.8 448.5h0M179.8 447.2h0M178.6 462.0h0M179.1 454.6h0M180.9 442.8h0M182.8 446.9h0M179.2 448.2h0M181.8 458.5h0M180.8 459.4h0M175.2 464.1h0M176.6 458.5h0M177.1 456.4h0M177.5 469.6h0M178.9 444.6h0M176.9 463.2h0M184.0 453.4h0M181.3 450.2h0M177.7 461.1h0M181.0 473.2h0M183.2 446.5h0M175.6 452.1h0M180.3 458.3h0M183.6 445.2h0M177.8 447.2h0M182.8 465.1h0M182.0 456.6h0M177.2 472.7h0M175.4 458.4h0M182.1 442.5h0M178.2 463.9h0M177.5 448.1h0M178.6 470.3h0M181.3 458.8h0M182.9 446.8h0M183.2 439.6h0M181.7 451.5h0M175.8 448.7h0M177.7 439.3h0M174.1 479.2h0M176.0 472.3h0M177.4 437.9h0M175.8 432.1h0M178.8 450.3h0M175.3 455.2h0M180.5 453.5h0M178.1 455.5h0M176.5 461.8h0M180.9 456.0h0M177.3 457.2h0M174.2 449.4h0M182.4 449.5h0M181.5 446.4h0M182.8 450.4h0M176.9 465.2h0M176.6 442.7h0M181.0 481.5h0M175.5 454.8h0M183.7 452.6h0M180.5 461.0h0M179.5 437.8h0M174.5 466.4h0M176.8 467.1h0M178.2 460.8h0M183.8 451.8h0M175.4 448.4h0M179.9 454.8h0M174.8 449.6h0M183.7 462.6h0M181.5 461.7h0M182.1 454.6h0M181.5 468.8h0M175.8 454.0h0M176.4 459.7h0M174.4 449.3h0M179.5 465.6h0M174.8 460.9h0M175.9 461.4h0M175.7 459.3h0M183.2 465.5h0M181.9 458.3h0M176.9 468.8h0M183.7 450.7h0M175.6 449.6h0M175.4 456.0h0M177.8 457.8h0M182.1 464.4h0M175.0 465.1h0M181.9 457.9h0M179.4 464.6h0M182.0 467.1h0M177.4 454.4h0M174.4 456.0h0M175.0 459.8h0M181.2 463.6h0M179.1 456.5h0M181.6 462.5h0M176.0 460.1h0M176.8 454.0h0M176.1 449.1h0M182.5 448.6h0M181.0 461.7h0M175.5 444.3h0M181.3 467.0h0M174.4 457.5h0M178.7 443.6h0M176.6 433.1h0M181.6 454.7h0M181.2 459.3h0M180.8 459.5h0M176.0 467.4h0M174.4 457.4h0M180.4 459.9h0M180.9 463.1h0M174.1 444.4h0M182.4 463.4h0M183.0 439.6h0M177.6 448.0h0M179.2 449.7h0M180.5 461.6h0M183.3 460.7h0M180.5 475.0h0M179.2 453.2h0M181.7 458.5h0M178.9 452.1h0M174.3 462.4h0M179.5 451.2h0M178.1 470.2h0M177.4 476.7h0M177.9 451.4h0M176.2 445.6h0M177.1 485.9h0M181.5 443.6h0M182.9 459.3h0M178.6 457.4h0M182.5 470.6h0M175.3 465.4h0M179.2 449.2h0M181.4 462.9h0M181.8 456.3h0M177.9 457.3h0M175.7 437.0h0M183.6 447.3h0M180.1 468.5h0M180.5 460.4h0M177.5 466.9h0M175.1 469.1h0M179.7 462.5h0M178.0 445.3h0M182.9 455.5h0M180.6 449.4h0M181.6 457.3h0M179.7 459.9h0M181.5 455.2h0M175.3 456.6h0M184.0 437.6h0M179.8 438.7h0M180.0 452.4h0M175.9 450.1h0M174.9 474.9h0M181.1 457.0h0M181.3 433.2h0M180.7 463.5h0M176.5 448.2h0M178.9 444.2h0M181.7 459.8h0M180.4 458.0h0M183.1 460.3h0M174.9 448.3h0M181.7 455.8h0M174.1 441.5h0M180.3 444.7h0M179.3 455.9h0M174.7 458.8h0M178.2 461.8h0M180.7 458.1h0M182.7 464.3h0M174.8 459.8h0M179.1 456.6h0M182.0 447.4h0M175.2 471.0h0M182.9 469.2h0M183.4 463.3h0M177.4 458.7h0M176.1 451.6h0M175.5 463.3h0M176.2 441.6h0M178.2 460.9h0M181.1 458.0h0M183.4 455.3h0M179.6 444.8h0M183.5 453.0h0M178.3 455.7h0M180.6 461.0h0M174.0 454.3h0M178.2 452.0h0M174.2 459.3h0M175.3 456.1h0M182.1 473.5h0M175.1 460.9h0M177.0 444.7h0M179.3 442.3h0M179.3 456.7h0M174.3 476.4h0M175.1 438.5h0M180.8 457.5h0M178.0 431.5h0M174.9 459.8h0M178.8 446.4h0M177.7 461.7h0M184.0 442.9h0M174.5 444.9h0M175.8 466.1h0M174.7 443.6h0M179.5 458.0h0M183.6 467.5h0M181.8 453.2h0M175.1 459.8h0M179.4 470.1h0M177.6 466.0h0M183.8 453.5h0M181.1 470.5h0M180.0 445.6h0M176.6 451.7h0M178.4 457.6h0M179.3 442.6h0M177.8 464.7h0M179.6 449.4h0M174.9 468.7h0M178.2 459.1h0M183.9 449.8h0M178.0 461.1h0M179.1 457.0h0M181.5 449.8h0M182.1 441.4h0M181.4 443.5h0M177.8 451.5h0M181.1 458.5h0M176.0 469.6h0M180.2 439.6h0M174.2 438.1h0M175.9 476.6h0M175.8 447.6h0M177.5 456.4h0M181.4 449.2h0M174.2 453.0h0M182.8 457.7h0M174.9 456.0h0M183.5 456.2h0M183.5 444.8h0M180.1 458.4h0M182.4 461.2h0M183.4 449.7h0M178.5 449.8h0M182.6 451.8h0M174.3 453.3h0M181.8 441.9h0M180.5 445.3h0M181.8 453.9h0M175.5 458.0h0M174.8 449.6h0M179.2 473.9h0M180.1 460.8h0M180.9 462.7h0M175.8 454.3h0M179.7 459.7h0M183.7 432.5h0M176.5 448.9h0M182.2 452.1h0M183.6 434.4h0M180.7 455.9h0M178.4 459.0h0M178.2 444.2h0M178.7 448.0h0M175.2 447.1h0M174.7 444.4h0M176.8 459.3h0M175.7 462.3h0M183.0 462.7h0M177.6 455.0h0M182.8 446.4h0M179.6 466.1h0M183.0 461.0h0M183.0 468.8h0M181.1 436.9h0M178.5 448.3h0M176.4 453.8h0M179.6 467.6h0M177.1 465.7h0M182.3 462.2h0M174.4 455.6h0M180.4 468.1h0M177.4 458.0h0M178.2 444.3h0M179.4 455.8h0M183.8 455.0h0" stroke="#c41a33" stroke-width="1.44" stroke-linecap="round"/>
<path d="M220.7 451.2h0M224.1 463.9h0M221.7 432.2h0M228.6 471.9h0M229.0 479.8h0M218.7 466.1h0M219.9 456.0h0M219.3 441.8h0M222.5 485.2h0M220.6 461.4h0M225.3 447.4h0M227.8 471.9h0M218.1 468.9h0M217.5 478.7h0M218.5 453.6h0M220.9 452.9h0M218.8 455.8h0M222.4 460.3h0M221.6 450.8h0M225.9 464.9h0M228.8 454.2h0M228.9 453.0h0M222.2 446.9h0M224.9 456.9h0M218.8 462.1h0M224.5 454.4h0M227.8 482.6h0M227.8 485.7h0M218.9 443.0h0M219.2 461.6h0M228.0 476.4h0M225.6 470.7h0M226.3 465.1h0M218.0 462.5h0M224.6 472.8h0M217.5 450.7h0M226.0 484.6h0M226.7 476.8h0M221.1 442.3h0M217.2 454.8h0M226.0 484.7h0M229.2 478.6h0M224.6 462.6h0M221.6 459.8h0M221.1 468.8h0M226.9 463.1h0M228.8 461.3h0M221.6 477.6h0M219.9 462.6h0M229.2 434.6h0M222.3 471.6h0M222.5 476.0h0M220.9 454.9h0M225.9 446.3h0M229.0 450.1h0M222.8 471.2h0M227.5 464.3h0M222.0 460.7h0M222.3 466.0h0M226.8 458.2h0M228.9 449.6h0M226.3 456.3h0M225.7 463.5h0M227.1 465.8h0M228.2 440.6h0M228.6 478.7h0M223.6 437.9h0M221.9 453.9h0M217.3 462.3h0M223.5 472.6h0M221.5 440.0h0M217.2 447.9h0M229.1 451.8h0M220.9 436.9h0M228.4 486.2h0M217.4 461.9h0M221.5 467.3h0M226.6 472.4h0M225.3 462.4h0M225.3 456.4h0M223.1 456.7h0M218.3 465.0h0M227.2 480.2h0M226.3 456.1h0M222.9 455.6h0M223.9 436.4h0M226.8 451.5h0M223.1 463.0h0M222.9 478.0h0M223.0 472.0h0M226.0 460.7h0M226.0 453.8h0M221.2 456.8h0M226.5 446.4h0M221.7 476.3h0M225.3 472.2h0M221.7 461.0h0M228.0 479.1h0M228.5 471.0h0M226.5 445.7h0M221.8 459.5h0M221.4 464.7h0M222.4 470.4h0M224.5 462.8h0M217.6 463.6h0M223.7 477.1h0M228.3 453.2h0M218.0 479.7h0M227.9 446.9h0M224.1 467.7h0M229.2 492.3h0M225.9 483.2h0M225.8 459.5h0M226.2 474.5h0M222.3 440.1h0M218.6 445.7h0M227.5 436.4h0M227.7 452.0h0M225.9 446.0h0M219.8 471.1h0M223.2 446.6h0M223.4 469.0h0M221.6 463.8h0M223.1 480.8h0M222.7 462.5h0M229.0 458.2h0M224.7 464.0h0M228.9 477.5h0M228.1 451.7h0M219.3 451.7h0M226.5 464.3h0M221.8 453.3h0M224.4 450.6h0M224.0 476.0h0M226.1 463.7h0M220.8 487.2h0M225.3 476.4h0M221.6 457.9h0M226.6 474.5h0M223.1 458.3h0M224.9 458.6h0M229.2 489.8h0M220.6 469.4h0M217.3 443.9h0M227.9 463.0h0M223.5 461.8h0M225.0 472.2h0M227.2 483.9h0M227.9 483.6h0M221.8 465.6h0M229.0 474.5h0M221.9 461.8h0M225.9 488.3h0M227.2 445.2h0M221.6 441.4h0M222.2 472.9h0M221.6 459.2h0M221.3 474.8h0M222.1 452.4h0M227.4 474.0h0M217.9 465.2h0M229.1 446.4h0M226.7 456.6h0M223.9 467.4h0M224.9 482.9h0M220.8 483.7h0M226.4 447.9h0M227.7 456.6h0M221.8 462.6h0M223.2 447.0h0M219.8 461.5h0M220.2 472.6h0M227.4 464.7h0M224.9 464.5h0M222.6 463.6h0M224.9 431.1h0M219.4 455.9h0M217.2 459.7h0M221.5 466.6h0M224.1 472.0h0M219.4 476.2h0M223.7 487.5h0M221.1 469.3h0M220.4 482.8h0M226.1 487.2h0M221.5 475.3h0M226.1 489.5h0M226.2 445.5h0M221.7 447.3h0M217.6 475.7h0M227.3 437.0h0M223.8 454.7h0M224.2 495.9h0M225.4 463.0h0M223.8 476.3h0M228.1 485.7h0M217.3 466.7h0M228.8 448.3h0M224.6 457.6h0M222.1 482.1h0M228.1 471.9h0M227.9 473.0h0M224.4 448.6h0M217.3 464.5h0M224.7 476.0h0M222.1 475.0h0M224.1 488.8h0M227.2 474.2h0M218.8 451.8h0M227.3 488.0h0M220.9 460.9h0M220.2 464.7h0M217.6 452.8h0M218.5 478.1h0M220.4 451.6h0M223.5 443.1h0M228.5 433.8h0M219.3 484.3h0M220.7 463.8h0M221.7 466.0h0M224.9 461.8h0M221.4 476.1h0M225.2 452.3h0M219.0 432.9h0M217.7 443.9h0M224.2 475.6h0M225.9 470.8h0M218.8 453.8h0M217.8 461.6h0M225.2 473.1h0M218.0 447.4h0M228.3 456.5h0M225.5 450.1h0M219.1 465.5h0M222.1 446.8h0M217.9 469.3h0M218.3 477.8h0M221.4 463.4h0M227.7 481.4h0M228.1 447.0h0M226.2 453.9h0M224.8 485.1h0M224.2 461.2h0M223.3 452.3h0M225.1 468.0h0M223.2 457.9h0M222.0 470.9h0M227.2 464.2h0M220.8 464.5h0M222.1 457.0h0M225.4 475.9h0M228.8 477.9h0M221.3 459.1h0M222.4 469.9h0M222.0 456.7h0M219.7 469.8h0M221.5 480.4h0M226.7 453.7h0M219.5 459.9h0M222.9 453.8h0" stroke="#3d7cc3" stroke-width="1.44" stroke-linecap="round"/>
<line x1="178.75" y1="432.8" x2="178.75" y2="450.7" stroke="#333" stroke-width="0.55"/>
<line x1="178.75" y1="464.7" x2="178.75" y2="489.5" stroke="#333" stroke-width="0.55"/>
<rect x="162.1" y="450.7" width="33.3" height="14" fill="none" stroke="#333" stroke-width="0.55"/>
<line x1="162.1" y1="456.7" x2="195.4" y2="456.7" stroke="#333" stroke-width="0.55"/>
<line x1="223.9" y1="428.5" x2="223.9" y2="455" stroke="#333" stroke-width="0.55"/>
<line x1="223.9" y1="472.4" x2="223.9" y2="500" stroke="#333" stroke-width="0.55"/>
<rect x="207" y="455" width="33.8" height="17.4" fill="none" stroke="#333" stroke-width="0.55"/>
<line x1="207" y1="464" x2="240.8" y2="464" stroke="#333" stroke-width="0.55"/>
<text x="200.2" y="524.8" font-size="6.2" text-anchor="middle" fill="#1a1a1a" stroke="#1a1a1a" textLength="52.2" lengthAdjust="spacingAndGlyphs">p-value=4.491e-08</text>
<line x1="179.7" y1="531.6" x2="179.7" y2="533.2" stroke="#444" stroke-width="0.5"/>
<text x="178.5" y="541.1" font-size="6.3" text-anchor="middle" fill="#1a1a1a" stroke="#1a1a1a" textLength="32.5" lengthAdjust="spacingAndGlyphs">Mut(n=355)</text>
<line x1="223.2" y1="531.6" x2="223.2" y2="533.2" stroke="#444" stroke-width="0.5"/>
<text x="222" y="541.1" font-size="6.3" text-anchor="middle" fill="#1a1a1a" stroke="#1a1a1a" textLength="32.5" lengthAdjust="spacingAndGlyphs">WT(n=286)</text>
<text x="250.3" y="410" font-size="9.6" text-anchor="start" fill="#111" stroke="#111">H</text>
<rect x="274.4" y="430" width="194" height="79.2" fill="none" stroke="#808080" stroke-width="0.8"/>
<line x1="272.6" y1="503.3" x2="274.4" y2="503.3" stroke="#555" stroke-width="0.5"/>
<text x="272" y="505.5" font-size="6.4" text-anchor="end" fill="#333" stroke="#333" textLength="9" lengthAdjust="spacingAndGlyphs">1.0</text>
<line x1="272.6" y1="480.03" x2="274.4" y2="480.03" stroke="#555" stroke-width="0.5"/>
<text x="272" y="482.23" font-size="6.4" text-anchor="end" fill="#333" stroke="#333" textLength="9" lengthAdjust="spacingAndGlyphs">2.0</text>
<line x1="272.6" y1="456.76" x2="274.4" y2="456.76" stroke="#555" stroke-width="0.5"/>
<text x="272" y="458.96" font-size="6.4" text-anchor="end" fill="#333" stroke="#333" textLength="9" lengthAdjust="spacingAndGlyphs">3.0</text>
<line x1="272.6" y1="433.49" x2="274.4" y2="433.49" stroke="#555" stroke-width="0.5"/>
<text x="272" y="435.69" font-size="6.4" text-anchor="end" fill="#333" stroke="#333" textLength="9" lengthAdjust="spacingAndGlyphs">4.0</text>
<text x="370.8" y="422.4" font-size="6.2" text-anchor="middle" fill="#1a1a1a" stroke="#1a1a1a" textLength="16.9" lengthAdjust="spacingAndGlyphs">TCGA</text>
<text x="256.8" y="466.3" font-size="6.3" text-anchor="middle" fill="#1a1a1a" stroke="#1a1a1a" transform="rotate(-90 256.8 466.3)" textLength="59" lengthAdjust="spacingAndGlyphs">CBX7 log2(FPKM+1)</text>
<line x1="292.95" y1="446.6" x2="292.95" y2="451.1" stroke="#555" stroke-width="0.5"/>
<line x1="292.95" y1="470.7" x2="292.95" y2="470.7" stroke="#555" stroke-width="0.5"/>
<rect x="280.9" y="451.1" width="24.1" height="19.6" fill="#a19d97" stroke="#333" stroke-width="0.55"/>
<line x1="280.9" y1="454.6" x2="305" y2="454.6" stroke="#222" stroke-width="0.7"/>
<path d="M287.3 447.4h0M287.3 451.2h0M292.3 453.7h0M295.4 470.6h0M293.4 477.6h0" stroke="#111" stroke-width="2.4" stroke-linecap="round"/>
<line x1="292.95" y1="509.2" x2="292.95" y2="511" stroke="#555" stroke-width="0.5"/>
<text x="295.15" y="517" font-size="6.4" text-anchor="end" fill="#1a1a1a" stroke="#1a1a1a" transform="rotate(-45 295.15 517)">Normal</text>
<line x1="324.5" y1="463.5" x2="324.5" y2="478.9" stroke="#555" stroke-width="0.5"/>
<line x1="324.5" y1="490.2" x2="324.5" y2="505.5" stroke="#555" stroke-width="0.5"/>
<rect x="312.5" y="478.9" width="24" height="11.3" fill="#c62a2f" stroke="#333" stroke-width="0.55"/>
<line x1="312.5" y1="485.2" x2="336.5" y2="485.2" stroke="#222" stroke-width="0.7"/>
<path d="M328.6 485.4h0M319.8 484.4h0M320.3 473.9h0M321.9 482.3h0M328.9 503.6h0M320.0 484.1h0M318.4 489.6h0M329.7 481.1h0M317.8 484.4h0M329.0 471.4h0M320.9 475.0h0M317.7 485.7h0M324.4 501.2h0M325.3 479.8h0M318.5 492.0h0M328.9 470.7h0M330.1 490.0h0M325.8 485.0h0M327.6 488.1h0M324.6 494.1h0M317.2 472.5h0M319.4 497.1h0M328.1 498.7h0M330.7 473.1h0M319.5 482.7h0M317.4 466.9h0M325.1 480.9h0M317.2 484.1h0M318.4 467.4h0M323.0 480.6h0M319.5 484.1h0M321.9 477.0h0M318.3 489.8h0M324.2 475.2h0M327.8 492.5h0M329.7 503.9h0M329.7 484.7h0M317.5 481.8h0" stroke="#111" stroke-width="2.4" stroke-linecap="round"/>
<line x1="324.5" y1="509.2" x2="324.5" y2="511" stroke="#555" stroke-width="0.5"/>
<text x="326.7" y="517" font-size="6.4" text-anchor="end" fill="#1a1a1a" stroke="#1a1a1a" transform="rotate(-45 326.7 517)">Classical</text>
<line x1="356" y1="468.5" x2="356" y2="480.2" stroke="#555" stroke-width="0.5"/>
<line x1="356" y1="491.3" x2="356" y2="501.5" stroke="#555" stroke-width="0.5"/>
<rect x="344" y="480.2" width="24" height="11.1" fill="#e8912e" stroke="#333" stroke-width="0.55"/>
<line x1="344" y1="485.7" x2="368" y2="485.7" stroke="#222" stroke-width="0.7"/>
<path d="M362.4 481.8h0M363.1 484.1h0M350.1 473.6h0M362.7 483.4h0M352.6 491.0h0M349.6 490.2h0M352.8 497.4h0M363.3 495.7h0M362.5 479.5h0M359.4 487.9h0M358.8 468.8h0M349.9 493.3h0M350.1 486.2h0M363.4 495.5h0M351.2 473.5h0M361.4 486.9h0M348.9 494.6h0M358.2 476.5h0M357.9 499.6h0M362.7 492.6h0M351.0 469.6h0M362.6 472.1h0M356.1 485.6h0M361.9 494.4h0M362.7 475.2h0M356.7 498.9h0M358.3 482.6h0M353.7 487.3h0M361.1 489.3h0M356.5 473.7h0M357.6 500.7h0M349.2 490.2h0" stroke="#111" stroke-width="2.4" stroke-linecap="round"/>
<line x1="356" y1="509.2" x2="356" y2="511" stroke="#555" stroke-width="0.5"/>
<text x="358.2" y="517" font-size="6.4" text-anchor="end" fill="#1a1a1a" stroke="#1a1a1a" transform="rotate(-45 358.2 517)">Proneural</text>
<line x1="387.65" y1="432.8" x2="387.65" y2="458.5" stroke="#555" stroke-width="0.5"/>
<line x1="387.65" y1="493.3" x2="387.65" y2="505.9" stroke="#555" stroke-width="0.5"/>
<rect x="375.7" y="458.5" width="23.9" height="34.8" fill="#97a3c7" stroke="#333" stroke-width="0.55"/>
<line x1="375.7" y1="480.2" x2="399.6" y2="480.2" stroke="#222" stroke-width="0.7"/>
<path d="M383.1 481.4h0M382.6 502.0h0M390.0 505.9h0M387.2 503.4h0M390.6 505.1h0M390.7 471.5h0M387.0 464.3h0M381.6 475.0h0M394.2 438.3h0M389.8 480.5h0M388.4 480.3h0M387.3 437.6h0M383.8 501.1h0M380.9 489.1h0M386.6 476.4h0M392.8 462.2h0M386.9 468.7h0M392.6 461.3h0M384.9 495.8h0M388.0 469.6h0M392.9 499.7h0M380.8 500.4h0M382.1 481.9h0M381.0 494.0h0M388.5 498.4h0M385.2 435.8h0M391.9 484.2h0M387.1 437.4h0M385.4 495.5h0M380.5 458.4h0M388.1 444.7h0M389.1 494.5h0M390.9 484.8h0M391.6 463.8h0M391.3 447.3h0M390.5 496.4h0M393.7 496.7h0M388.9 491.8h0M391.9 504.4h0M389.0 474.4h0" stroke="#111" stroke-width="2.4" stroke-linecap="round"/>
<line x1="387.65" y1="509.2" x2="387.65" y2="511" stroke="#555" stroke-width="0.5"/>
<text x="389.85" y="517" font-size="6.4" text-anchor="end" fill="#1a1a1a" stroke="#1a1a1a" transform="rotate(-45 389.85 517)">Neural</text>
<line x1="419.4" y1="465" x2="419.4" y2="473.6" stroke="#555" stroke-width="0.5"/>
<line x1="419.4" y1="488.2" x2="419.4" y2="505" stroke="#555" stroke-width="0.5"/>
<rect x="407.2" y="473.6" width="24.4" height="14.6" fill="#84d2b6" stroke="#333" stroke-width="0.55"/>
<line x1="407.2" y1="481.2" x2="431.6" y2="481.2" stroke="#222" stroke-width="0.7"/>
<path d="M425.4 495.2h0M414.1 481.2h0M412.6 477.8h0M417.8 470.3h0M422.2 497.4h0M412.2 478.4h0M413.9 486.0h0M422.0 468.2h0M426.4 502.1h0M426.7 494.9h0M416.8 492.9h0M413.4 472.3h0M420.8 499.5h0M418.0 479.2h0M422.6 468.8h0M412.2 489.7h0M424.1 491.4h0M412.1 476.9h0M412.7 482.4h0M425.1 477.8h0M418.0 492.5h0M416.2 483.9h0M415.5 481.0h0M419.5 484.5h0M420.5 478.7h0M420.3 479.3h0M425.0 476.3h0M413.3 486.8h0M418.0 469.7h0M416.7 472.6h0M425.1 476.5h0M417.7 471.5h0M420.4 483.7h0M417.0 490.9h0M418.9 472.8h0M421.5 490.0h0M416.4 483.7h0M422.8 477.5h0M418.1 472.9h0M415.7 485.4h0M418.6 469.2h0M423.1 476.9h0M424.0 486.5h0M411.9 473.5h0M412.7 481.4h0M420.6 490.7h0M418.9 479.2h0M421.9 476.1h0M426.5 465.7h0M416.1 476.9h0M425.4 480.8h0M421.3 482.0h0M418.6 478.8h0M419.1 501.3h0M424.2 478.8h0" stroke="#111" stroke-width="2.4" stroke-linecap="round"/>
<line x1="419.4" y1="509.2" x2="419.4" y2="511" stroke="#555" stroke-width="0.5"/>
<text x="421.6" y="517" font-size="6.4" text-anchor="end" fill="#1a1a1a" stroke="#1a1a1a" transform="rotate(-45 421.6 517)">Mesenchymal</text>
<line x1="450.65" y1="456" x2="450.65" y2="475.1" stroke="#555" stroke-width="0.5"/>
<line x1="450.65" y1="491.5" x2="450.65" y2="500.8" stroke="#555" stroke-width="0.5"/>
<rect x="438.7" y="475.1" width="23.9" height="16.4" fill="#3e72b3" stroke="#333" stroke-width="0.55"/>
<line x1="438.7" y1="483.2" x2="462.6" y2="483.2" stroke="#222" stroke-width="0.7"/>
<path d="M452.7 481.5h0M453.4 485.7h0M456.0 481.9h0M448.3 483.8h0M448.3 463.5h0M458.1 497.9h0M448.6 482.8h0M453.4 494.9h0" stroke="#111" stroke-width="2.4" stroke-linecap="round"/>
<line x1="450.65" y1="509.2" x2="450.65" y2="511" stroke="#555" stroke-width="0.5"/>
<text x="452.85" y="517" font-size="6.4" text-anchor="end" fill="#1a1a1a" stroke="#1a1a1a" transform="rotate(-45 452.85 517)">G−CIMP</text>
<text x="360" y="549" font-size="6.2" text-anchor="middle" fill="#1a1a1a" stroke="#1a1a1a" textLength="50" lengthAdjust="spacingAndGlyphs">Molecular_Cluster</text>
<text x="0.6" y="555.3" font-size="7.2" text-anchor="start" fill="#111" stroke="#111">I</text>
<text x="84.5" y="565.8" font-size="6.3" text-anchor="middle" fill="#1a1a1a" stroke="#1a1a1a" textLength="59.5" lengthAdjust="spacingAndGlyphs">IHC staining of CBX7</text>
<line x1="11.8" y1="570.2" x2="154" y2="570.2" stroke="#555" stroke-width="0.6"/>
<text x="34.3" y="582.2" font-size="6.3" text-anchor="middle" fill="#1a1a1a" stroke="#1a1a1a">II</text>
<rect x="11.2" y="585.9" width="46.2" height="43.4" fill="#f1f1f1" stroke="#333" stroke-width="0.8"/>
<circle cx="34.5" cy="607.3" r="19.5" fill="#c6bdbf" filter="url(#cspk1)"/>
<rect x="11.2" y="644.9" width="46.2" height="32.6" fill="#d3c8c4" stroke="none" stroke-width="0" filter="url(#spk1)"/>
<rect x="11.2" y="644.9" width="46.2" height="32.6" fill="none" stroke="#333" stroke-width="0.9"/>
<rect x="34.4" y="602.7" width="5" height="4.8" fill="none" stroke="#1e3657" stroke-width="0.9"/>
<line x1="34.4" y1="607.5" x2="11.2" y2="644.9" stroke="#222" stroke-width="0.7"/>
<line x1="39.4" y1="607.5" x2="57.4" y2="644.9" stroke="#222" stroke-width="0.7"/>
<text x="82.6" y="582.2" font-size="6.3" text-anchor="middle" fill="#1a1a1a" stroke="#1a1a1a">III</text>
<rect x="59.5" y="585.9" width="46.2" height="43.4" fill="#f1f1f1" stroke="#333" stroke-width="0.8"/>
<circle cx="82.8" cy="607.6" r="19.5" fill="#a9abbc" filter="url(#cspk2)"/>
<rect x="59.5" y="644.9" width="46.2" height="32.6" fill="#b0b2d2" stroke="none" stroke-width="0" filter="url(#spk2)"/>
<rect x="59.5" y="644.9" width="46.2" height="32.6" fill="none" stroke="#333" stroke-width="0.9"/>
<rect x="79.4" y="617.6" width="5" height="4.8" fill="none" stroke="#1e3657" stroke-width="0.9"/>
<line x1="79.4" y1="622.4" x2="59.5" y2="644.9" stroke="#222" stroke-width="0.7"/>
<line x1="84.4" y1="622.4" x2="105.7" y2="644.9" stroke="#222" stroke-width="0.7"/>
<text x="130.75" y="582.2" font-size="6.3" text-anchor="middle" fill="#1a1a1a" stroke="#1a1a1a">IV</text>
<rect x="107.6" y="585.9" width="46.3" height="43.4" fill="#f1f1f1" stroke="#333" stroke-width="0.8"/>
<circle cx="131" cy="607.6" r="19.5" fill="#b8bbcc" filter="url(#cspk3)"/>
<rect x="107.6" y="644.9" width="46.3" height="32.6" fill="#d0d1e2" stroke="none" stroke-width="0" filter="url(#spk3)"/>
<rect x="107.6" y="644.9" width="46.3" height="32.6" fill="none" stroke="#333" stroke-width="0.9"/>
<rect x="119.4" y="605" width="5" height="4.8" fill="none" stroke="#1e3657" stroke-width="0.9"/>
<line x1="119.4" y1="609.8" x2="107.6" y2="644.9" stroke="#222" stroke-width="0.7"/>
<line x1="124.4" y1="609.8" x2="153.9" y2="644.9" stroke="#222" stroke-width="0.7"/>
<line x1="142.9" y1="672.8" x2="149.6" y2="672.8" stroke="#111" stroke-width="1.2"/>
<text x="172.6" y="555.8" font-size="9.6" text-anchor="start" fill="#111" stroke="#111">J</text>
<line x1="189.6" y1="564.1" x2="189.6" y2="674.7" stroke="#444" stroke-width="0.6"/>
<line x1="189.6" y1="674.5" x2="283" y2="674.5" stroke="#444" stroke-width="0.6"/>
<line x1="188" y1="672.2" x2="189.6" y2="672.2" stroke="#444" stroke-width="0.5"/>
<text x="186" y="674.2" font-size="5.8" text-anchor="end" fill="#1a1a1a" stroke="#1a1a1a">0</text>
<line x1="188" y1="634.05" x2="189.6" y2="634.05" stroke="#444" stroke-width="0.5"/>
<text x="186" y="636.05" font-size="5.8" text-anchor="end" fill="#1a1a1a" stroke="#1a1a1a">5</text>
<line x1="188" y1="595.9" x2="189.6" y2="595.9" stroke="#444" stroke-width="0.5"/>
<text x="186" y="597.9" font-size="5.8" text-anchor="end" fill="#1a1a1a" stroke="#1a1a1a">10</text>
<text x="177.5" y="626.9" font-size="6.1" text-anchor="middle" fill="#1a1a1a" stroke="#1a1a1a" transform="rotate(-90 177.5 626.9)" textLength="27.7" lengthAdjust="spacingAndGlyphs">CBX7 IRS</text>
<line x1="207" y1="674.5" x2="207" y2="676.1" stroke="#444" stroke-width="0.5"/>
<text x="207" y="683.6" font-size="6.2" text-anchor="middle" fill="#1a1a1a" stroke="#1a1a1a">II</text>
<line x1="236.5" y1="674.5" x2="236.5" y2="676.1" stroke="#444" stroke-width="0.5"/>
<text x="236.5" y="683.6" font-size="6.2" text-anchor="middle" fill="#1a1a1a" stroke="#1a1a1a">III</text>
<line x1="265.9" y1="674.5" x2="265.9" y2="676.1" stroke="#444" stroke-width="0.5"/>
<text x="265.9" y="683.6" font-size="6.2" text-anchor="middle" fill="#1a1a1a" stroke="#1a1a1a">IV</text>
<line x1="199.7" y1="581" x2="214.8" y2="581" stroke="#5cc6d8" stroke-width="1"/>
<line x1="199.7" y1="611" x2="214.8" y2="611" stroke="#5cc6d8" stroke-width="1"/>
<line x1="203.9" y1="626.4" x2="210.6" y2="626.4" stroke="#5cc6d8" stroke-width="1"/>
<line x1="205" y1="603.7" x2="209.5" y2="603.7" stroke="#5cc6d8" stroke-width="1"/>
<line x1="200.4" y1="601.6" x2="213.6" y2="601.6" stroke="#555" stroke-width="0.55"/>
<line x1="203" y1="598.9" x2="211" y2="598.9" stroke="#555" stroke-width="0.44"/>
<line x1="203" y1="603.7" x2="211" y2="603.7" stroke="#555" stroke-width="0.44"/>
<line x1="207" y1="598.9" x2="207" y2="603.7" stroke="#555" stroke-width="0.4"/>
<line x1="234.4" y1="603.7" x2="239.2" y2="603.7" stroke="#e0695a" stroke-width="1"/>
<line x1="230.2" y1="611" x2="242.1" y2="611" stroke="#e0695a" stroke-width="1.5"/>
<line x1="234.4" y1="626.4" x2="239.2" y2="626.4" stroke="#e0695a" stroke-width="1"/>
<line x1="234.4" y1="641.3" x2="239.2" y2="641.3" stroke="#e0695a" stroke-width="1"/>
<line x1="229.9" y1="615" x2="243.1" y2="615" stroke="#555" stroke-width="0.55"/>
<line x1="232.5" y1="612.5" x2="240.5" y2="612.5" stroke="#555" stroke-width="0.44"/>
<line x1="232.5" y1="617.8" x2="240.5" y2="617.8" stroke="#555" stroke-width="0.44"/>
<line x1="236.5" y1="612.5" x2="236.5" y2="617.8" stroke="#555" stroke-width="0.4"/>
<line x1="264.6" y1="603.7" x2="267.2" y2="603.7" stroke="#45c0a0" stroke-width="1"/>
<line x1="264.6" y1="611" x2="267.2" y2="611" stroke="#45c0a0" stroke-width="1"/>
<line x1="256.4" y1="626.4" x2="275.8" y2="626.4" stroke="#45c0a0" stroke-width="1"/>
<line x1="258.1" y1="641.3" x2="273.2" y2="641.3" stroke="#45c0a0" stroke-width="1"/>
<line x1="259.6" y1="648.2" x2="270.1" y2="648.2" stroke="#45c0a0" stroke-width="1.3"/>
<line x1="263.5" y1="656.2" x2="268.3" y2="656.2" stroke="#45c0a0" stroke-width="1"/>
<line x1="256.4" y1="663.6" x2="275.8" y2="663.6" stroke="#45c0a0" stroke-width="1"/>
<line x1="258.1" y1="671.3" x2="273.2" y2="671.3" stroke="#45c0a0" stroke-width="1"/>
<line x1="259.7" y1="649.6" x2="272.1" y2="649.6" stroke="#555" stroke-width="0.55"/>
<line x1="261.9" y1="647.6" x2="269.9" y2="647.6" stroke="#555" stroke-width="0.44"/>
<line x1="261.9" y1="651.6" x2="269.9" y2="651.6" stroke="#555" stroke-width="0.44"/>
<line x1="265.9" y1="647.6" x2="265.9" y2="651.6" stroke="#555" stroke-width="0.4"/>
<path d="M207 578.2V576.8H265.9V578.2" fill="none" stroke="#444" stroke-width="0.55"/>
<text x="232.9" y="575.5" font-size="6.1" text-anchor="middle" fill="#1a1a1a" stroke="#1a1a1a" textLength="21" lengthAdjust="spacingAndGlyphs">p=3e−21</text>
<path d="M236.5 569.8V568.4H265.9V569.8" fill="none" stroke="#444" stroke-width="0.55"/>
<text x="252" y="566.3" font-size="6.1" text-anchor="middle" fill="#1a1a1a" stroke="#1a1a1a" textLength="29" lengthAdjust="spacingAndGlyphs">p=3.9e−08</text>
<text x="282.4" y="555.4" font-size="9.6" text-anchor="start" fill="#111" stroke="#111">K</text>
<line x1="313.4" y1="568.8" x2="313.4" y2="672.2" stroke="#444" stroke-width="0.6"/>
<line x1="313.4" y1="672" x2="469" y2="672" stroke="#444" stroke-width="0.6"/>
<line x1="311.8" y1="669.2" x2="313.4" y2="669.2" stroke="#444" stroke-width="0.5"/>
<text x="310.8" y="671.2" font-size="5.9" text-anchor="end" fill="#1a1a1a" stroke="#1a1a1a">0.00</text>
<line x1="311.8" y1="644.8" x2="313.4" y2="644.8" stroke="#444" stroke-width="0.5"/>
<text x="310.8" y="646.8" font-size="5.9" text-anchor="end" fill="#1a1a1a" stroke="#1a1a1a">0.25</text>
<line x1="311.8" y1="620.4" x2="313.4" y2="620.4" stroke="#444" stroke-width="0.5"/>
<text x="310.8" y="622.4" font-size="5.9" text-anchor="end" fill="#1a1a1a" stroke="#1a1a1a">0.50</text>
<line x1="311.8" y1="596" x2="313.4" y2="596" stroke="#444" stroke-width="0.5"/>
<text x="310.8" y="598" font-size="5.9" text-anchor="end" fill="#1a1a1a" stroke="#1a1a1a">0.75</text>
<line x1="311.8" y1="571.6" x2="313.4" y2="571.6" stroke="#444" stroke-width="0.5"/>
<text x="310.8" y="573.6" font-size="5.9" text-anchor="end" fill="#1a1a1a" stroke="#1a1a1a">1.00</text>
<line x1="315.9" y1="672" x2="315.9" y2="673.6" stroke="#444" stroke-width="0.5"/>
<text x="315.9" y="681.4" font-size="6.1" text-anchor="middle" fill="#1a1a1a" stroke="#1a1a1a">0</text>
<line x1="342.2" y1="672" x2="342.2" y2="673.6" stroke="#444" stroke-width="0.5"/>
<text x="342.2" y="681.4" font-size="6.1" text-anchor="middle" fill="#1a1a1a" stroke="#1a1a1a">10</text>
<line x1="368.5" y1="672" x2="368.5" y2="673.6" stroke="#444" stroke-width="0.5"/>
<text x="368.5" y="681.4" font-size="6.1" text-anchor="middle" fill="#1a1a1a" stroke="#1a1a1a">20</text>
<line x1="394.8" y1="672" x2="394.8" y2="673.6" stroke="#444" stroke-width="0.5"/>
<text x="394.8" y="681.4" font-size="6.1" text-anchor="middle" fill="#1a1a1a" stroke="#1a1a1a">30</text>
<line x1="421.1" y1="672" x2="421.1" y2="673.6" stroke="#444" stroke-width="0.5"/>
<text x="421.1" y="681.4" font-size="6.1" text-anchor="middle" fill="#1a1a1a" stroke="#1a1a1a">40</text>
<line x1="447.4" y1="672" x2="447.4" y2="673.6" stroke="#444" stroke-width="0.5"/>
<text x="447.4" y="681.4" font-size="6.1" text-anchor="middle" fill="#1a1a1a" stroke="#1a1a1a">50</text>
<text x="461.7" y="681.4" font-size="6.1" text-anchor="middle" fill="#1a1a1a" stroke="#1a1a1a">(M)</text>
<text x="292.6" y="619.9" font-size="6.1" text-anchor="middle" fill="#1a1a1a" stroke="#1a1a1a" transform="rotate(-90 292.6 619.9)" textLength="50" lengthAdjust="spacingAndGlyphs">Survival probability</text>
<path d="M315.9 571.6 319.6 571.6 319.6 571.6 323.4 571.6 323.4 571.6 327.1 571.6 327.1 576.0 330.9 576.0 330.9 578.5 334.6 578.5 334.6 584.5 338.4 584.5 338.4 591.4 342.1 591.4 342.1 599.8 345.9 599.8 345.9 602.6 349.6 602.6 349.6 607.4 353.4 607.4 353.4 613.9 357.1 613.9 357.1 621.1 360.9 621.1 360.9 625.1 364.6 625.1 364.6 628.0 368.4 628.0 368.4 631.0 372.1 631.0 372.1 633.9 375.9 633.9 375.9 636.8 379.6 636.8 379.6 639.6 383.4 639.6 383.4 642.4 387.1 642.4 387.1 645.1 390.9 645.1 390.9 647.8 394.6 647.8 394.6 650.5 398.4 650.5 398.4 650.3 402.1 650.3 402.1 651.0 405.8 651.0 405.8 651.6 409.6 651.6 409.6 652.6 413.3 652.6 413.3 653.9 417.1 653.9 417.1 655.2 420.8 655.2 420.8 656.5 424.6 656.5 424.6 656.7 428.3 656.7 428.3 656.8 432.1 656.8 432.1 656.8 435.8 656.8 435.8 656.9 439.6 656.9 439.6 657.0 443.3 657.0 443.3 657.0 447.1 657.0 447.1 657.1 450.8 657.1 450.8 657.2 454.6 657.2 454.6 657.3 458.3 657.3 458.3 657.3 462.1 657.3 462.1 657.4 465.8 657.4 465.8 657.5 465.8 657.5L465.8 669.2 465.8 669.2 465.8 669.2 462.1 669.2 462.1 669.2 458.3 669.2 458.3 669.2 454.6 669.2 454.6 669.2 450.8 669.2 450.8 669.2 447.1 669.2 447.1 669.2 443.3 669.2 443.3 669.2 439.6 669.2 439.6 669.2 435.8 669.2 435.8 669.2 432.1 669.2 432.1 669.2 428.3 669.2 428.3 669.2 424.6 669.2 424.6 669.2 420.8 669.2 420.8 669.2 417.1 669.2 417.1 669.2 413.3 669.2 413.3 669.2 409.6 669.2 409.6 669.2 405.8 669.2 405.8 669.2 402.1 669.2 402.1 669.2 398.4 669.2 398.4 669.0 394.6 669.0 394.6 666.3 390.9 666.3 390.9 663.6 387.1 663.6 387.1 660.9 383.4 660.9 383.4 658.1 379.6 658.1 379.6 655.2 375.9 655.2 375.9 652.3 372.1 652.3 372.1 649.5 368.4 649.5 368.4 646.5 364.6 646.5 364.6 643.5 360.9 643.5 360.9 639.5 357.1 639.5 357.1 632.3 353.4 632.3 353.4 625.9 349.6 625.9 349.6 621.1 345.9 621.1 345.9 618.2 342.1 618.2 342.1 609.9 338.4 609.9 338.4 602.9 334.6 602.9 334.6 596.9 330.9 596.9 330.9 588.3 327.1 588.3 327.1 583.6 323.4 583.6 323.4 580.8 319.6 580.8 319.6 578.0 315.9 578.0Z" fill="#efbdba" opacity="0.62"/>
<path d="M315.9 571.6 318.7 571.6 318.7 571.6 321.6 571.6 321.6 575.2 324.4 575.2 324.4 579.9 327.2 579.9 327.2 585.0 330.1 585.0 330.1 588.8 332.9 588.8 332.9 594.3 335.7 594.3 335.7 599.6 338.6 599.6 338.6 605.8 341.4 605.8 341.4 612.6 344.2 612.6 344.2 618.4 347.1 618.4 347.1 623.9 349.9 623.9 349.9 628.6 352.7 628.6 352.7 633.1 355.6 633.1 355.6 636.3 358.4 636.3 358.4 639.6 361.2 639.6 361.2 642.6 364.0 642.6 364.0 644.4 366.9 644.4 366.9 646.3 369.7 646.3 369.7 648.1 372.5 648.1 372.5 650.0 375.4 650.0 375.4 651.9 378.2 651.9 378.2 653.8 381.0 653.8 381.0 655.2 383.9 655.2 383.9 656.3 386.7 656.3 386.7 657.4 389.5 657.4 389.5 658.5 389.5 658.5L389.5 669.2 389.5 669.2 389.5 669.2 386.7 669.2 386.7 669.2 383.9 669.2 383.9 669.2 381.0 669.2 381.0 668.2 378.2 668.2 378.2 666.3 375.4 666.3 375.4 664.4 372.5 664.4 372.5 662.5 369.7 662.5 369.7 660.6 366.9 660.6 366.9 658.8 364.0 658.8 364.0 656.9 361.2 656.9 361.2 654.0 358.4 654.0 358.4 650.7 355.6 650.7 355.6 647.4 352.7 647.4 352.7 642.9 349.9 642.9 349.9 638.3 347.1 638.3 347.1 632.8 344.2 632.8 344.2 626.9 341.4 626.9 341.4 620.1 338.6 620.1 338.6 614.0 335.7 614.0 335.7 608.7 332.9 608.7 332.9 603.1 330.1 603.1 330.1 595.2 327.2 595.2 327.2 590.2 324.4 590.2 324.4 585.5 321.6 585.5 321.6 581.2 318.7 581.2 318.7 577.0 315.9 577.0Z" fill="#a8dfe5" opacity="0.5"/>
<path d="M315.9 571.6H319.6V574.4H323.4V577.2H327.1V581.8H330.9V587.2H334.6V593.3H338.4V600.2H342.1V608.5H345.9V611.4H349.6V616.2H353.4V622.6H357.1V629.9H360.9V633.8H364.6V636.8H368.4V639.8H372.1V642.7H375.9V645.5H379.6V648.4H383.4V651.2H387.1V653.9H390.9V656.6H394.6V659.3H398.4V660.1H402.1V660.7H405.8V661.4H409.6V662.4H413.3V663.7H417.1V665.0H420.8V666.3H424.6V666.4H428.3V666.5H432.1V666.6H435.8V666.7H439.6V666.7H443.3V666.8H447.1V666.9H450.8V667.0H454.6V667.0H458.3V667.1H462.1V667.2H465.8V667.2" fill="none" stroke="#e2513e" stroke-width="0.85"/>
<path d="M315.9 571.6H318.7V575.8H321.6V580.1H324.4V584.8H327.2V589.8H330.1V595.6H332.9V601.2H335.7V606.4H338.6V612.6H341.4V619.4H344.2V625.3H347.1V630.7H349.9V635.4H352.7V639.9H355.6V643.2H358.4V646.4H361.2V649.4H364.0V651.3H366.9V653.1H369.7V655.0H372.5V656.9H375.4V658.8H378.2V660.7H381.0V662.0H383.9V663.1H386.7V664.2H389.5V665.3" fill="none" stroke="#46b9c9" stroke-width="0.85"/>
<line x1="377" y1="582.7" x2="393.7" y2="582.7" stroke="#e2513e" stroke-width="0.75"/>
<line x1="385.3" y1="581.2" x2="385.3" y2="584.2" stroke="#e2513e" stroke-width="0.5"/>
<line x1="377" y1="591.4" x2="393.7" y2="591.4" stroke="#46b9c9" stroke-width="0.75"/>
<line x1="385.3" y1="589.9" x2="385.3" y2="592.9" stroke="#46b9c9" stroke-width="0.5"/>
<text x="398.9" y="584.8" font-size="6.1" text-anchor="start" fill="#1a1a1a" stroke="#1a1a1a" textLength="61.8" lengthAdjust="spacingAndGlyphs">High CBX7 expression</text>
<text x="398.9" y="593.3" font-size="6.1" text-anchor="start" fill="#1a1a1a" stroke="#1a1a1a" textLength="61.1" lengthAdjust="spacingAndGlyphs">Low CBX7 expression</text>
<text x="398.9" y="600.6" font-size="6.1" text-anchor="start" fill="#1a1a1a" stroke="#1a1a1a" textLength="42.9" lengthAdjust="spacingAndGlyphs">P value&lt;0.0001</text>
<text x="401.4" y="644.2" font-size="6.2" text-anchor="start" fill="#1a1a1a" stroke="#1a1a1a" textLength="49.9" lengthAdjust="spacingAndGlyphs">Log-rank p&lt;0.001</text>
</svg></body></html>
